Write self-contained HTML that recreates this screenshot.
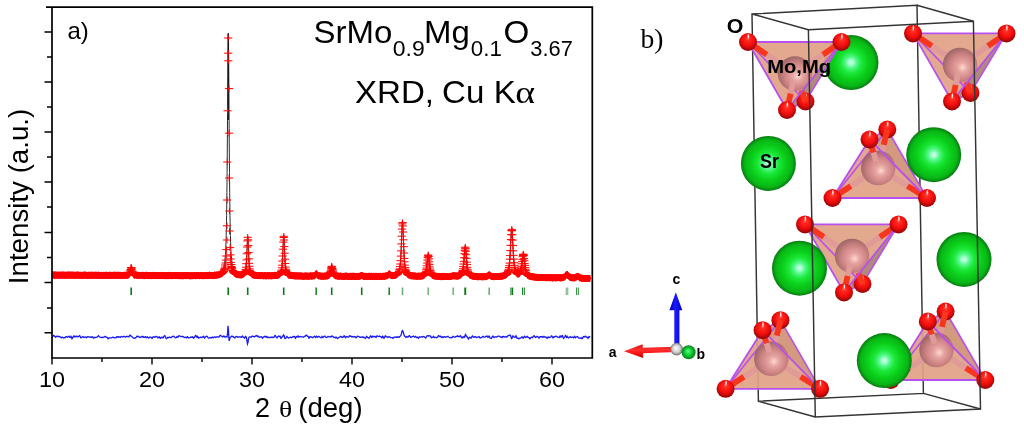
<!DOCTYPE html>
<html><head><meta charset="utf-8"><title>SrMo0.9Mg0.1O3.67 XRD and structure</title>
<style>html,body{margin:0;padding:0;background:#fff}svg{display:block}</style></head>
<body>
<svg width="1024" height="429" viewBox="0 0 1024 429">
<rect width="1024" height="429" fill="#fff"/>

<defs>
<radialGradient id="gO" cx="0.5" cy="0.42" r="0.55" fx="0.5" fy="0.3">
<stop offset="0" stop-color="#ff7060"/><stop offset="0.2" stop-color="#ff2a20"/><stop offset="0.65" stop-color="#f00c0c"/><stop offset="1" stop-color="#9a0606"/>
</radialGradient>
<radialGradient id="gMo" cx="0.55" cy="0.55" r="0.6" fx="0.58" fy="0.58">
<stop offset="0" stop-color="#ffd8d0"/><stop offset="0.25" stop-color="#e6a4a0"/><stop offset="0.62" stop-color="#cc8282"/><stop offset="1" stop-color="#946060"/>
</radialGradient>
<radialGradient id="gSr" cx="0.5" cy="0.5" r="0.5" fx="0.5" fy="0.5">
<stop offset="0" stop-color="#d4ffec"/><stop offset="0.09" stop-color="#a4ffd0"/><stop offset="0.2" stop-color="#54f88c"/><stop offset="0.38" stop-color="#1ce83a"/><stop offset="0.62" stop-color="#0ad01a"/><stop offset="0.86" stop-color="#08b616"/><stop offset="0.95" stop-color="#069012"/><stop offset="1" stop-color="#067c10"/>
</radialGradient>
<linearGradient id="gBl" gradientUnits="userSpaceOnUse" x1="669.4" y1="0" x2="682.3" y2="0"><stop offset="0" stop-color="#0000b0"/><stop offset="0.45" stop-color="#1a1aff"/><stop offset="0.6" stop-color="#1414f8"/><stop offset="1" stop-color="#0000a8"/></linearGradient>
<linearGradient id="gRd" gradientUnits="userSpaceOnUse" x1="0" y1="344.2" x2="0" y2="357.9"><stop offset="0" stop-color="#d80808"/><stop offset="0.4" stop-color="#ff3030"/><stop offset="0.6" stop-color="#ff1a1a"/><stop offset="1" stop-color="#c00000"/></linearGradient>
<radialGradient id="gB" cx="0.5" cy="0.5" r="0.5" fx="0.45" fy="0.4">
<stop offset="0" stop-color="#60ff90"/><stop offset="0.5" stop-color="#10d030"/><stop offset="1" stop-color="#088020"/>
</radialGradient>
<radialGradient id="gG" cx="0.5" cy="0.5" r="0.5" fx="0.45" fy="0.4">
<stop offset="0" stop-color="#ffffff"/><stop offset="0.6" stop-color="#d0d0d0"/><stop offset="1" stop-color="#707070"/>
</radialGradient>
</defs>


<g id="xrd">
<path d="M52 275.1 L52.1 275.1 L52.2 275.1 L52.3 275.1 L52.4 275.1 L52.5 275.1 L52.6 275.1 L52.7 275.1 L52.8 275.1 L52.9 275.1 L53 275.1 L53.1 275.1 L53.2 275.1 L53.3 275.1 L53.4 275.1 L53.5 275.1 L53.6 275.1 L53.7 275.1 L53.8 275.1 L53.9 275.1 L54 275.1 L54.1 275.1 L54.2 275.1 L54.3 275.1 L54.4 275.1 L54.5 275.1 L54.6 275.1 L54.7 275.1 L54.8 275.1 L54.9 275.1 L55 275.1 L55.1 275.1 L55.2 275.1 L55.3 275.1 L55.4 275.1 L55.5 275.1 L55.6 275.1 L55.7 275.1 L55.8 275.1 L55.9 275.1 L56 275.1 L56.1 275.1 L56.2 275.1 L56.3 275.1 L56.4 275.1 L56.5 275.1 L56.6 275.1 L56.7 275.1 L56.8 275.1 L56.9 275.1 L57 275.1 L57.1 275.1 L57.2 275.1 L57.3 275.1 L57.4 275.1 L57.5 275.1 L57.6 275.1 L57.7 275.1 L57.8 275.1 L57.9 275.1 L58 275.1 L58.1 275.1 L58.2 275.1 L58.3 275.1 L58.4 275.1 L58.5 275.1 L58.6 275.1 L58.7 275.1 L58.8 275.1 L58.9 275.1 L59 275.1 L59.1 275.1 L59.2 275.1 L59.3 275.1 L59.4 275.1 L59.5 275.1 L59.6 275.1 L59.7 275.1 L59.8 275.1 L59.9 275.1 L60 275.1 L60.1 275.1 L60.2 275.1 L60.3 275.1 L60.4 275.1 L60.5 275.1 L60.6 275.1 L60.7 275.1 L60.8 275.1 L60.9 275.1 L61 275.1 L61.1 275.1 L61.2 275.1 L61.3 275.1 L61.4 275.1 L61.5 275.1 L61.6 275.1 L61.7 275.1 L61.8 275.1 L61.9 275.1 L62 275.1 L62.1 275.1 L62.2 275.1 L62.3 275.1 L62.4 275.1 L62.5 275.1 L62.6 275.1 L62.7 275.1 L62.8 275.1 L62.9 275.1 L63 275.1 L63.1 275.1 L63.2 275.1 L63.3 275.1 L63.4 275.1 L63.5 275.1 L63.6 275.1 L63.7 275.1 L63.8 275.1 L63.9 275.1 L64 275.1 L64.1 275.1 L64.2 275.1 L64.3 275.1 L64.4 275.1 L64.5 275.1 L64.6 275.1 L64.7 275.1 L64.8 275.1 L64.9 275.1 L65 275.1 L65.1 275.1 L65.2 275.1 L65.3 275.1 L65.4 275.1 L65.5 275.1 L65.6 275.1 L65.7 275.1 L65.8 275.1 L65.9 275.1 L66 275.2 L66.1 275.2 L66.2 275.2 L66.3 275.2 L66.4 275.2 L66.5 275.2 L66.6 275.2 L66.7 275.2 L66.8 275.2 L66.9 275.2 L67 275.2 L67.1 275.2 L67.2 275.2 L67.3 275.2 L67.4 275.2 L67.5 275.2 L67.6 275.2 L67.7 275.2 L67.8 275.2 L67.9 275.2 L68 275.2 L68.1 275.2 L68.2 275.2 L68.3 275.2 L68.4 275.2 L68.5 275.2 L68.6 275.2 L68.7 275.2 L68.8 275.2 L68.9 275.2 L69 275.2 L69.1 275.2 L69.2 275.2 L69.3 275.2 L69.4 275.2 L69.5 275.2 L69.6 275.2 L69.7 275.2 L69.8 275.2 L69.9 275.2 L70 275.2 L70.1 275.2 L70.2 275.2 L70.3 275.2 L70.4 275.2 L70.5 275.2 L70.6 275.2 L70.7 275.2 L70.8 275.2 L70.9 275.2 L71 275.2 L71.1 275.2 L71.2 275.2 L71.3 275.2 L71.4 275.2 L71.5 275.2 L71.6 275.2 L71.7 275.2 L71.8 275.2 L71.9 275.2 L72 275.2 L72.1 275.2 L72.2 275.2 L72.3 275.2 L72.4 275.2 L72.5 275.2 L72.6 275.2 L72.7 275.2 L72.8 275.2 L72.9 275.2 L73 275.2 L73.1 275.2 L73.2 275.2 L73.3 275.2 L73.4 275.2 L73.5 275.2 L73.6 275.2 L73.7 275.2 L73.8 275.2 L73.9 275.2 L74 275.2 L74.1 275.2 L74.2 275.2 L74.3 275.2 L74.4 275.2 L74.5 275.2 L74.6 275.2 L74.7 275.2 L74.8 275.2 L74.9 275.2 L75 275.2 L75.1 275.2 L75.2 275.2 L75.3 275.2 L75.4 275.2 L75.5 275.2 L75.6 275.2 L75.7 275.2 L75.8 275.2 L75.9 275.2 L76 275.2 L76.1 275.2 L76.2 275.2 L76.3 275.2 L76.4 275.2 L76.5 275.2 L76.6 275.2 L76.7 275.2 L76.8 275.2 L76.9 275.2 L77 275.2 L77.1 275.2 L77.2 275.2 L77.3 275.2 L77.4 275.2 L77.5 275.2 L77.6 275.2 L77.7 275.2 L77.8 275.2 L77.9 275.2 L78 275.2 L78.1 275.2 L78.2 275.2 L78.3 275.2 L78.4 275.2 L78.5 275.2 L78.6 275.2 L78.7 275.2 L78.8 275.2 L78.9 275.2 L79 275.2 L79.1 275.2 L79.2 275.2 L79.3 275.2 L79.4 275.2 L79.5 275.2 L79.6 275.2 L79.7 275.2 L79.8 275.2 L79.9 275.2 L80 275.2 L80.1 275.2 L80.2 275.2 L80.3 275.2 L80.4 275.2 L80.5 275.2 L80.6 275.2 L80.7 275.2 L80.8 275.2 L80.9 275.2 L81 275.2 L81.1 275.2 L81.2 275.2 L81.3 275.2 L81.4 275.2 L81.5 275.2 L81.6 275.2 L81.7 275.2 L81.8 275.2 L81.9 275.2 L82 275.2 L82.1 275.2 L82.2 275.2 L82.3 275.2 L82.4 275.2 L82.5 275.2 L82.6 275.2 L82.7 275.2 L82.8 275.2 L82.9 275.2 L83 275.2 L83.1 275.2 L83.2 275.2 L83.3 275.2 L83.4 275.2 L83.5 275.2 L83.6 275.2 L83.7 275.2 L83.8 275.2 L83.9 275.2 L84 275.2 L84.1 275.2 L84.2 275.2 L84.3 275.2 L84.4 275.2 L84.5 275.2 L84.6 275.2 L84.7 275.2 L84.8 275.2 L84.9 275.2 L85 275.2 L85.1 275.2 L85.2 275.2 L85.3 275.2 L85.4 275.2 L85.5 275.2 L85.6 275.2 L85.7 275.2 L85.8 275.2 L85.9 275.2 L86 275.2 L86.1 275.2 L86.2 275.2 L86.3 275.2 L86.4 275.2 L86.5 275.2 L86.6 275.2 L86.7 275.2 L86.8 275.2 L86.9 275.2 L87 275.2 L87.1 275.2 L87.2 275.2 L87.3 275.2 L87.4 275.2 L87.5 275.2 L87.6 275.2 L87.7 275.2 L87.8 275.2 L87.9 275.2 L88 275.2 L88.1 275.2 L88.2 275.2 L88.3 275.2 L88.4 275.2 L88.5 275.2 L88.6 275.2 L88.7 275.2 L88.8 275.2 L88.9 275.2 L89 275.2 L89.1 275.2 L89.2 275.2 L89.3 275.2 L89.4 275.2 L89.5 275.3 L89.6 275.3 L89.7 275.3 L89.8 275.3 L89.9 275.3 L90 275.3 L90.1 275.3 L90.2 275.3 L90.3 275.3 L90.4 275.3 L90.5 275.3 L90.6 275.3 L90.7 275.3 L90.8 275.3 L90.9 275.3 L91 275.3 L91.1 275.3 L91.2 275.3 L91.3 275.3 L91.4 275.3 L91.5 275.3 L91.6 275.3 L91.7 275.3 L91.8 275.3 L91.9 275.3 L92 275.3 L92.1 275.3 L92.2 275.3 L92.3 275.3 L92.4 275.3 L92.5 275.3 L92.6 275.3 L92.7 275.3 L92.8 275.3 L92.9 275.3 L93 275.3 L93.1 275.3 L93.2 275.3 L93.3 275.3 L93.4 275.3 L93.5 275.3 L93.6 275.3 L93.7 275.3 L93.8 275.3 L93.9 275.3 L94 275.3 L94.1 275.3 L94.2 275.3 L94.3 275.3 L94.4 275.3 L94.5 275.3 L94.6 275.3 L94.7 275.3 L94.8 275.3 L94.9 275.3 L95 275.3 L95.1 275.3 L95.2 275.3 L95.3 275.3 L95.4 275.3 L95.5 275.3 L95.6 275.3 L95.7 275.3 L95.8 275.3 L95.9 275.3 L96 275.3 L96.1 275.3 L96.2 275.3 L96.3 275.3 L96.4 275.3 L96.5 275.3 L96.6 275.3 L96.7 275.3 L96.8 275.3 L96.9 275.3 L97 275.3 L97.1 275.3 L97.2 275.3 L97.3 275.3 L97.4 275.3 L97.5 275.3 L97.6 275.3 L97.7 275.3 L97.8 275.3 L97.9 275.3 L98 275.3 L98.1 275.3 L98.2 275.3 L98.3 275.3 L98.4 275.3 L98.5 275.3 L98.6 275.3 L98.7 275.3 L98.8 275.3 L98.9 275.3 L99 275.3 L99.1 275.3 L99.2 275.3 L99.3 275.3 L99.4 275.3 L99.5 275.3 L99.6 275.3 L99.7 275.3 L99.8 275.3 L99.9 275.3 L100 275.3 L100.1 275.3 L100.2 275.3 L100.3 275.3 L100.4 275.3 L100.5 275.3 L100.6 275.3 L100.7 275.3 L100.8 275.3 L100.9 275.3 L101 275.3 L101.1 275.3 L101.2 275.3 L101.3 275.3 L101.4 275.3 L101.5 275.3 L101.6 275.3 L101.7 275.3 L101.8 275.3 L101.9 275.3 L102 275.3 L102.1 275.3 L102.2 275.3 L102.3 275.3 L102.4 275.3 L102.5 275.3 L102.6 275.3 L102.7 275.3 L102.8 275.3 L102.9 275.3 L103 275.3 L103.1 275.3 L103.2 275.3 L103.3 275.3 L103.4 275.3 L103.5 275.3 L103.6 275.3 L103.7 275.3 L103.8 275.3 L103.9 275.3 L104 275.3 L104.1 275.3 L104.2 275.3 L104.3 275.3 L104.4 275.3 L104.5 275.3 L104.6 275.3 L104.7 275.3 L104.8 275.3 L104.9 275.3 L105 275.3 L105.1 275.3 L105.2 275.3 L105.3 275.3 L105.4 275.3 L105.5 275.3 L105.6 275.3 L105.7 275.3 L105.8 275.3 L105.9 275.3 L106 275.3 L106.1 275.3 L106.2 275.3 L106.3 275.3 L106.4 275.3 L106.5 275.3 L106.6 275.3 L106.7 275.3 L106.8 275.3 L106.9 275.3 L107 275.3 L107.1 275.3 L107.2 275.3 L107.3 275.3 L107.4 275.3 L107.5 275.3 L107.6 275.3 L107.7 275.3 L107.8 275.3 L107.9 275.3 L108 275.3 L108.1 275.3 L108.2 275.3 L108.3 275.3 L108.4 275.3 L108.5 275.3 L108.6 275.3 L108.7 275.3 L108.8 275.3 L108.9 275.3 L109 275.3 L109.1 275.3 L109.2 275.3 L109.3 275.3 L109.4 275.3 L109.5 275.3 L109.6 275.3 L109.7 275.3 L109.8 275.3 L109.9 275.3 L110 275.3 L110.1 275.3 L110.2 275.3 L110.3 275.3 L110.4 275.3 L110.5 275.3 L110.6 275.3 L110.7 275.3 L110.8 275.3 L110.9 275.3 L111 275.3 L111.1 275.3 L111.2 275.3 L111.3 275.3 L111.4 275.3 L111.5 275.3 L111.6 275.3 L111.7 275.3 L111.8 275.3 L111.9 275.3 L112 275.3 L112.1 275.3 L112.2 275.3 L112.3 275.3 L112.4 275.3 L112.5 275.3 L112.6 275.3 L112.7 275.3 L112.8 275.3 L112.9 275.3 L113 275.3 L113.1 275.3 L113.2 275.3 L113.3 275.3 L113.4 275.3 L113.5 275.3 L113.6 275.3 L113.7 275.3 L113.8 275.3 L113.9 275.3 L114 275.3 L114.1 275.3 L114.2 275.3 L114.3 275.3 L114.4 275.3 L114.5 275.3 L114.6 275.3 L114.7 275.3 L114.8 275.3 L114.9 275.3 L115 275.3 L115.1 275.3 L115.2 275.3 L115.3 275.3 L115.4 275.3 L115.5 275.3 L115.6 275.3 L115.7 275.3 L115.8 275.3 L115.9 275.3 L116 275.3 L116.1 275.3 L116.2 275.3 L116.3 275.3 L116.4 275.3 L116.5 275.3 L116.6 275.3 L116.7 275.3 L116.8 275.3 L116.9 275.3 L117 275.3 L117.1 275.3 L117.2 275.3 L117.3 275.3 L117.4 275.3 L117.5 275.3 L117.6 275.3 L117.7 275.3 L117.8 275.3 L117.9 275.3 L118 275.3 L118.1 275.3 L118.2 275.3 L118.3 275.3 L118.4 275.3 L118.5 275.3 L118.6 275.3 L118.7 275.3 L118.8 275.3 L118.9 275.3 L119 275.3 L119.1 275.3 L119.2 275.3 L119.3 275.3 L119.4 275.3 L119.5 275.3 L119.6 275.3 L119.7 275.3 L119.8 275.3 L119.9 275.3 L120 275.3 L120.1 275.3 L120.2 275.3 L120.3 275.3 L120.4 275.3 L120.5 275.3 L120.6 275.3 L120.7 275.3 L120.8 275.3 L120.9 275.3 L121 275.3 L121.1 275.3 L121.2 275.3 L121.3 275.3 L121.4 275.3 L121.5 275.3 L121.6 275.3 L121.7 275.3 L121.8 275.3 L121.9 275.3 L122 275.3 L122.1 275.3 L122.2 275.3 L122.3 275.3 L122.4 275.3 L122.5 275.3 L122.6 275.3 L122.7 275.3 L122.8 275.3 L122.9 275.3 L123 275.3 L123.1 275.3 L123.2 275.3 L123.3 275.3 L123.4 275.3 L123.5 275.3 L123.6 275.3 L123.7 275.3 L123.8 275.3 L123.9 275.3 L124 275.3 L124.1 275.3 L124.2 275.3 L124.3 275.3 L124.4 275.3 L124.5 275.3 L124.6 275.3 L124.7 275.3 L124.8 275.3 L124.9 275.3 L125 275.2 L125.1 275.2 L125.2 275.2 L125.3 275.2 L125.4 275.2 L125.5 275.2 L125.6 275.2 L125.7 275.2 L125.8 275.2 L125.9 275.2 L126 275.2 L126.1 275.2 L126.2 275.2 L126.3 275.2 L126.4 275.2 L126.5 275.1 L126.6 275.1 L126.7 275.1 L126.8 275.1 L126.9 275.1 L127 275.1 L127.1 275.1 L127.2 275.1 L127.3 275 L127.4 275 L127.5 275 L127.6 275 L127.7 275 L127.8 274.9 L127.9 274.9 L128 274.9 L128.1 274.8 L128.2 274.8 L128.3 274.8 L128.4 274.7 L128.5 274.7 L128.6 274.6 L128.7 274.6 L128.8 274.5 L128.9 274.4 L129 274.3 L129.1 274.2 L129.2 274.1 L129.3 274 L129.4 273.8 L129.5 273.7 L129.6 273.4 L129.7 273.2 L129.8 273 L129.9 272.7 L130 272.3 L130.1 271.9 L130.2 271.5 L130.3 271.1 L130.4 270.6 L130.5 270.1 L130.6 269.5 L130.7 269 L130.8 268.5 L130.9 268 L131 267.6 L131.1 267.4 L131.2 267.2 L131.3 267.2 L131.4 267.4 L131.5 267.6 L131.6 268 L131.7 268.5 L131.8 269 L131.9 269.5 L132 270.1 L132.1 270.6 L132.2 271.1 L132.3 271.5 L132.4 271.9 L132.5 272.3 L132.6 272.7 L132.7 273 L132.8 273.2 L132.9 273.5 L133 273.7 L133.1 273.8 L133.2 274 L133.3 274.1 L133.4 274.3 L133.5 274.4 L133.6 274.4 L133.7 274.5 L133.8 274.6 L133.9 274.7 L134 274.7 L134.1 274.8 L134.2 274.8 L134.3 274.8 L134.4 274.9 L134.5 274.9 L134.6 274.9 L134.7 275 L134.8 275 L134.9 275 L135 275 L135.1 275.1 L135.2 275.1 L135.3 275.1 L135.4 275.1 L135.5 275.1 L135.6 275.1 L135.7 275.1 L135.8 275.2 L135.9 275.2 L136 275.2 L136.1 275.2 L136.2 275.2 L136.3 275.2 L136.4 275.2 L136.5 275.2 L136.6 275.2 L136.7 275.2 L136.8 275.3 L136.9 275.3 L137 275.3 L137.1 275.3 L137.2 275.3 L137.3 275.3 L137.4 275.3 L137.5 275.3 L137.6 275.3 L137.7 275.3 L137.8 275.3 L137.9 275.3 L138 275.3 L138.1 275.3 L138.2 275.3 L138.3 275.3 L138.4 275.3 L138.5 275.3 L138.6 275.3 L138.7 275.3 L138.8 275.4 L138.9 275.4 L139 275.4 L139.1 275.4 L139.2 275.4 L139.3 275.4 L139.4 275.4 L139.5 275.4 L139.6 275.4 L139.7 275.4 L139.8 275.4 L139.9 275.4 L140 275.4 L140.1 275.4 L140.2 275.4 L140.3 275.4 L140.4 275.4 L140.5 275.4 L140.6 275.4 L140.7 275.4 L140.8 275.4 L140.9 275.4 L141 275.4 L141.1 275.4 L141.2 275.4 L141.3 275.4 L141.4 275.4 L141.5 275.4 L141.6 275.4 L141.7 275.4 L141.8 275.4 L141.9 275.4 L142 275.4 L142.1 275.4 L142.2 275.4 L142.3 275.4 L142.4 275.4 L142.5 275.4 L142.6 275.4 L142.7 275.4 L142.8 275.4 L142.9 275.4 L143 275.4 L143.1 275.4 L143.2 275.4 L143.3 275.4 L143.4 275.4 L143.5 275.4 L143.6 275.4 L143.7 275.4 L143.8 275.4 L143.9 275.4 L144 275.4 L144.1 275.4 L144.2 275.4 L144.3 275.4 L144.4 275.4 L144.5 275.4 L144.6 275.4 L144.7 275.4 L144.8 275.4 L144.9 275.4 L145 275.4 L145.1 275.4 L145.2 275.5 L145.3 275.5 L145.4 275.5 L145.5 275.5 L145.6 275.5 L145.7 275.5 L145.8 275.5 L145.9 275.5 L146 275.5 L146.1 275.5 L146.2 275.5 L146.3 275.5 L146.4 275.5 L146.5 275.5 L146.6 275.5 L146.7 275.5 L146.8 275.5 L146.9 275.5 L147 275.5 L147.1 275.5 L147.2 275.5 L147.3 275.5 L147.4 275.5 L147.5 275.5 L147.6 275.5 L147.7 275.5 L147.8 275.5 L147.9 275.5 L148 275.5 L148.1 275.5 L148.2 275.5 L148.3 275.5 L148.4 275.5 L148.5 275.5 L148.6 275.5 L148.7 275.5 L148.8 275.5 L148.9 275.5 L149 275.5 L149.1 275.5 L149.2 275.5 L149.3 275.5 L149.4 275.5 L149.5 275.5 L149.6 275.5 L149.7 275.5 L149.8 275.5 L149.9 275.5 L150 275.5 L150.1 275.5 L150.2 275.5 L150.3 275.5 L150.4 275.5 L150.5 275.5 L150.6 275.5 L150.7 275.5 L150.8 275.5 L150.9 275.5 L151 275.5 L151.1 275.5 L151.2 275.5 L151.3 275.5 L151.4 275.5 L151.5 275.5 L151.6 275.5 L151.7 275.5 L151.8 275.5 L151.9 275.5 L152 275.5 L152.1 275.5 L152.2 275.5 L152.3 275.5 L152.4 275.5 L152.5 275.5 L152.6 275.5 L152.7 275.5 L152.8 275.5 L152.9 275.5 L153 275.5 L153.1 275.5 L153.2 275.5 L153.3 275.5 L153.4 275.5 L153.5 275.5 L153.6 275.5 L153.7 275.5 L153.8 275.5 L153.9 275.5 L154 275.5 L154.1 275.5 L154.2 275.5 L154.3 275.5 L154.4 275.5 L154.5 275.5 L154.6 275.5 L154.7 275.5 L154.8 275.5 L154.9 275.5 L155 275.5 L155.1 275.5 L155.2 275.5 L155.3 275.5 L155.4 275.5 L155.5 275.5 L155.6 275.5 L155.7 275.5 L155.8 275.5 L155.9 275.5 L156 275.5 L156.1 275.5 L156.2 275.5 L156.3 275.5 L156.4 275.5 L156.5 275.5 L156.6 275.5 L156.7 275.5 L156.8 275.5 L156.9 275.5 L157 275.5 L157.1 275.5 L157.2 275.5 L157.3 275.5 L157.4 275.5 L157.5 275.5 L157.6 275.5 L157.7 275.5 L157.8 275.5 L157.9 275.5 L158 275.5 L158.1 275.5 L158.2 275.5 L158.3 275.5 L158.4 275.5 L158.5 275.5 L158.6 275.5 L158.7 275.5 L158.8 275.5 L158.9 275.5 L159 275.5 L159.1 275.5 L159.2 275.5 L159.3 275.5 L159.4 275.5 L159.5 275.5 L159.6 275.5 L159.7 275.5 L159.8 275.5 L159.9 275.5 L160 275.5 L160.1 275.5 L160.2 275.5 L160.3 275.5 L160.4 275.5 L160.5 275.5 L160.6 275.5 L160.7 275.5 L160.8 275.5 L160.9 275.5 L161 275.5 L161.1 275.5 L161.2 275.5 L161.3 275.5 L161.4 275.5 L161.5 275.5 L161.6 275.5 L161.7 275.5 L161.8 275.5 L161.9 275.5 L162 275.5 L162.1 275.5 L162.2 275.5 L162.3 275.5 L162.4 275.5 L162.5 275.5 L162.6 275.5 L162.7 275.5 L162.8 275.5 L162.9 275.5 L163 275.5 L163.1 275.5 L163.2 275.5 L163.3 275.5 L163.4 275.5 L163.5 275.5 L163.6 275.5 L163.7 275.5 L163.8 275.5 L163.9 275.5 L164 275.5 L164.1 275.5 L164.2 275.5 L164.3 275.5 L164.4 275.5 L164.5 275.5 L164.6 275.5 L164.7 275.5 L164.8 275.5 L164.9 275.5 L165 275.5 L165.1 275.5 L165.2 275.5 L165.3 275.5 L165.4 275.5 L165.5 275.5 L165.6 275.5 L165.7 275.5 L165.8 275.5 L165.9 275.5 L166 275.5 L166.1 275.5 L166.2 275.5 L166.3 275.5 L166.4 275.5 L166.5 275.5 L166.6 275.5 L166.7 275.5 L166.8 275.5 L166.9 275.5 L167 275.5 L167.1 275.5 L167.2 275.5 L167.3 275.5 L167.4 275.5 L167.5 275.5 L167.6 275.5 L167.7 275.6 L167.8 275.6 L167.9 275.6 L168 275.6 L168.1 275.6 L168.2 275.6 L168.3 275.6 L168.4 275.6 L168.5 275.6 L168.6 275.6 L168.7 275.6 L168.8 275.6 L168.9 275.6 L169 275.6 L169.1 275.6 L169.2 275.6 L169.3 275.6 L169.4 275.6 L169.5 275.6 L169.6 275.6 L169.7 275.6 L169.8 275.6 L169.9 275.6 L170 275.6 L170.1 275.6 L170.2 275.6 L170.3 275.6 L170.4 275.6 L170.5 275.6 L170.6 275.6 L170.7 275.6 L170.8 275.6 L170.9 275.6 L171 275.6 L171.1 275.6 L171.2 275.6 L171.3 275.6 L171.4 275.6 L171.5 275.6 L171.6 275.6 L171.7 275.6 L171.8 275.6 L171.9 275.6 L172 275.6 L172.1 275.6 L172.2 275.6 L172.3 275.6 L172.4 275.6 L172.5 275.6 L172.6 275.6 L172.7 275.6 L172.8 275.6 L172.9 275.6 L173 275.6 L173.1 275.6 L173.2 275.6 L173.3 275.6 L173.4 275.6 L173.5 275.6 L173.6 275.6 L173.7 275.6 L173.8 275.6 L173.9 275.6 L174 275.6 L174.1 275.6 L174.2 275.6 L174.3 275.6 L174.4 275.6 L174.5 275.6 L174.6 275.6 L174.7 275.6 L174.8 275.6 L174.9 275.6 L175 275.6 L175.1 275.6 L175.2 275.6 L175.3 275.6 L175.4 275.6 L175.5 275.6 L175.6 275.6 L175.7 275.6 L175.8 275.6 L175.9 275.6 L176 275.6 L176.1 275.6 L176.2 275.6 L176.3 275.6 L176.4 275.6 L176.5 275.6 L176.6 275.6 L176.7 275.6 L176.8 275.6 L176.9 275.6 L177 275.6 L177.1 275.6 L177.2 275.6 L177.3 275.6 L177.4 275.6 L177.5 275.6 L177.6 275.6 L177.7 275.6 L177.8 275.6 L177.9 275.6 L178 275.6 L178.1 275.6 L178.2 275.6 L178.3 275.6 L178.4 275.6 L178.5 275.6 L178.6 275.6 L178.7 275.6 L178.8 275.6 L178.9 275.6 L179 275.6 L179.1 275.6 L179.2 275.6 L179.3 275.6 L179.4 275.6 L179.5 275.6 L179.6 275.6 L179.7 275.6 L179.8 275.6 L179.9 275.6 L180 275.6 L180.1 275.6 L180.2 275.6 L180.3 275.6 L180.4 275.6 L180.5 275.6 L180.6 275.6 L180.7 275.6 L180.8 275.6 L180.9 275.6 L181 275.6 L181.1 275.6 L181.2 275.6 L181.3 275.6 L181.4 275.6 L181.5 275.6 L181.6 275.6 L181.7 275.6 L181.8 275.6 L181.9 275.6 L182 275.6 L182.1 275.6 L182.2 275.6 L182.3 275.6 L182.4 275.6 L182.5 275.6 L182.6 275.6 L182.7 275.6 L182.8 275.6 L182.9 275.6 L183 275.6 L183.1 275.6 L183.2 275.6 L183.3 275.6 L183.4 275.6 L183.5 275.6 L183.6 275.6 L183.7 275.6 L183.8 275.6 L183.9 275.6 L184 275.6 L184.1 275.6 L184.2 275.6 L184.3 275.6 L184.4 275.6 L184.5 275.6 L184.6 275.6 L184.7 275.6 L184.8 275.6 L184.9 275.6 L185 275.6 L185.1 275.6 L185.2 275.6 L185.3 275.6 L185.4 275.6 L185.5 275.6 L185.6 275.6 L185.7 275.6 L185.8 275.6 L185.9 275.6 L186 275.6 L186.1 275.6 L186.2 275.6 L186.3 275.6 L186.4 275.6 L186.5 275.6 L186.6 275.6 L186.7 275.6 L186.8 275.6 L186.9 275.6 L187 275.6 L187.1 275.6 L187.2 275.6 L187.3 275.6 L187.4 275.6 L187.5 275.6 L187.6 275.6 L187.7 275.6 L187.8 275.6 L187.9 275.6 L188 275.6 L188.1 275.6 L188.2 275.6 L188.3 275.6 L188.4 275.6 L188.5 275.6 L188.6 275.6 L188.7 275.6 L188.8 275.6 L188.9 275.6 L189 275.6 L189.1 275.6 L189.2 275.6 L189.3 275.6 L189.4 275.6 L189.5 275.6 L189.6 275.6 L189.7 275.6 L189.8 275.6 L189.9 275.6 L190 275.6 L190.1 275.6 L190.2 275.6 L190.3 275.6 L190.4 275.6 L190.5 275.6 L190.6 275.6 L190.7 275.6 L190.8 275.6 L190.9 275.6 L191 275.6 L191.1 275.6 L191.2 275.6 L191.3 275.6 L191.4 275.6 L191.5 275.6 L191.6 275.6 L191.7 275.6 L191.8 275.6 L191.9 275.6 L192 275.6 L192.1 275.6 L192.2 275.6 L192.3 275.6 L192.4 275.6 L192.5 275.6 L192.6 275.6 L192.7 275.6 L192.8 275.6 L192.9 275.6 L193 275.6 L193.1 275.6 L193.2 275.6 L193.3 275.6 L193.4 275.6 L193.5 275.6 L193.6 275.5 L193.7 275.5 L193.8 275.5 L193.9 275.5 L194 275.5 L194.1 275.5 L194.2 275.5 L194.3 275.5 L194.4 275.5 L194.5 275.5 L194.6 275.5 L194.7 275.5 L194.8 275.5 L194.9 275.5 L195 275.5 L195.1 275.5 L195.2 275.5 L195.3 275.5 L195.4 275.5 L195.5 275.5 L195.6 275.5 L195.7 275.5 L195.8 275.5 L195.9 275.5 L196 275.5 L196.1 275.5 L196.2 275.5 L196.3 275.5 L196.4 275.5 L196.5 275.5 L196.6 275.5 L196.7 275.5 L196.8 275.5 L196.9 275.5 L197 275.5 L197.1 275.5 L197.2 275.5 L197.3 275.5 L197.4 275.5 L197.5 275.5 L197.6 275.5 L197.7 275.5 L197.8 275.5 L197.9 275.5 L198 275.5 L198.1 275.5 L198.2 275.5 L198.3 275.5 L198.4 275.5 L198.5 275.5 L198.6 275.5 L198.7 275.5 L198.8 275.5 L198.9 275.5 L199 275.5 L199.1 275.5 L199.2 275.5 L199.3 275.5 L199.4 275.5 L199.5 275.5 L199.6 275.5 L199.7 275.5 L199.8 275.5 L199.9 275.5 L200 275.5 L200.1 275.5 L200.2 275.5 L200.3 275.5 L200.4 275.5 L200.5 275.5 L200.6 275.5 L200.7 275.5 L200.8 275.5 L200.9 275.5 L201 275.5 L201.1 275.5 L201.2 275.5 L201.3 275.5 L201.4 275.5 L201.5 275.5 L201.6 275.5 L201.7 275.5 L201.8 275.5 L201.9 275.5 L202 275.5 L202.1 275.5 L202.2 275.5 L202.3 275.5 L202.4 275.5 L202.5 275.5 L202.6 275.4 L202.7 275.4 L202.8 275.4 L202.9 275.4 L203 275.4 L203.1 275.4 L203.2 275.4 L203.3 275.4 L203.4 275.4 L203.5 275.4 L203.6 275.4 L203.7 275.4 L203.8 275.4 L203.9 275.4 L204 275.4 L204.1 275.4 L204.2 275.4 L204.3 275.4 L204.4 275.4 L204.5 275.4 L204.6 275.4 L204.7 275.4 L204.8 275.4 L204.9 275.4 L205 275.4 L205.1 275.4 L205.2 275.4 L205.3 275.4 L205.4 275.4 L205.5 275.4 L205.6 275.4 L205.7 275.4 L205.8 275.4 L205.9 275.4 L206 275.4 L206.1 275.4 L206.2 275.4 L206.3 275.4 L206.4 275.3 L206.5 275.3 L206.6 275.3 L206.7 275.3 L206.8 275.3 L206.9 275.3 L207 275.3 L207.1 275.3 L207.2 275.3 L207.3 275.3 L207.4 275.3 L207.5 275.3 L207.6 275.3 L207.7 275.3 L207.8 275.3 L207.9 275.3 L208 275.3 L208.1 275.3 L208.2 275.3 L208.3 275.3 L208.4 275.3 L208.5 275.3 L208.6 275.3 L208.7 275.3 L208.8 275.2 L208.9 275.2 L209 275.2 L209.1 275.2 L209.2 275.2 L209.3 275.2 L209.4 275.2 L209.5 275.2 L209.6 275.2 L209.7 275.2 L209.8 275.2 L209.9 275.2 L210 275.2 L210.1 275.2 L210.2 275.2 L210.3 275.2 L210.4 275.2 L210.5 275.1 L210.6 275.1 L210.7 275.1 L210.8 275.1 L210.9 275.1 L211 275.1 L211.1 275.1 L211.2 275.1 L211.3 275.1 L211.4 275.1 L211.5 275.1 L211.6 275.1 L211.7 275.1 L211.8 275 L211.9 275 L212 275 L212.1 275 L212.2 275 L212.3 275 L212.4 275 L212.5 275 L212.6 275 L212.7 275 L212.8 275 L212.9 274.9 L213 274.9 L213.1 274.9 L213.2 274.9 L213.3 274.9 L213.4 274.9 L213.5 274.9 L213.6 274.9 L213.7 274.9 L213.8 274.8 L213.9 274.8 L214 274.8 L214.1 274.8 L214.2 274.8 L214.3 274.8 L214.4 274.8 L214.5 274.7 L214.6 274.7 L214.7 274.7 L214.8 274.7 L214.9 274.7 L215 274.7 L215.1 274.6 L215.2 274.6 L215.3 274.6 L215.4 274.6 L215.5 274.6 L215.6 274.6 L215.7 274.5 L215.8 274.5 L215.9 274.5 L216 274.5 L216.1 274.5 L216.2 274.4 L216.3 274.4 L216.4 274.4 L216.5 274.4 L216.6 274.3 L216.7 274.3 L216.8 274.3 L216.9 274.3 L217 274.2 L217.1 274.2 L217.2 274.2 L217.3 274.2 L217.4 274.1 L217.5 274.1 L217.6 274.1 L217.7 274 L217.8 274 L217.9 274 L218 273.9 L218.1 273.9 L218.2 273.9 L218.3 273.8 L218.4 273.8 L218.5 273.7 L218.6 273.7 L218.7 273.7 L218.8 273.6 L218.9 273.6 L219 273.5 L219.1 273.5 L219.2 273.4 L219.3 273.4 L219.4 273.3 L219.5 273.2 L219.6 273.2 L219.7 273.1 L219.8 273.1 L219.9 273 L220 272.9 L220.1 272.9 L220.2 272.8 L220.3 272.7 L220.4 272.6 L220.5 272.6 L220.6 272.5 L220.7 272.4 L220.8 272.3 L220.9 272.2 L221 272.1 L221.1 272 L221.2 271.9 L221.3 271.8 L221.4 271.7 L221.5 271.6 L221.6 271.4 L221.7 271.3 L221.8 271.2 L221.9 271 L222 270.9 L222.1 270.7 L222.2 270.6 L222.3 270.4 L222.4 270.2 L222.5 270 L222.6 269.8 L222.7 269.6 L222.8 269.4 L222.9 269.2 L223 268.9 L223.1 268.7 L223.2 268.4 L223.3 268.1 L223.4 267.8 L223.5 267.5 L223.6 267.2 L223.7 266.8 L223.8 266.4 L223.9 266 L224 265.6 L224.1 265.1 L224.2 264.6 L224.3 264.1 L224.4 263.5 L224.5 262.9 L224.6 262.2 L224.7 261.5 L224.8 260.8 L224.9 259.9 L225 259 L225.1 258 L225.2 256.9 L225.3 255.7 L225.4 254.4 L225.5 252.9 L225.6 251.3 L225.7 249.4 L225.8 247.3 L225.9 245 L226 242.3 L226.1 239.2 L226.2 235.6 L226.3 231.6 L226.4 227 L226.5 221.7 L226.6 215.7 L226.7 208.9 L226.8 201.3 L226.9 192.6 L227 183 L227.1 172.4 L227.2 160.8 L227.3 148.1 L227.4 134.5 L227.5 120.2 L227.6 105.3 L227.7 90.3 L227.8 75.7 L227.9 62.1 L228 50.4 L228.1 41.2 L228.2 35.3 L228.3 33.3 L228.4 35.3 L228.5 41.2 L228.6 50.4 L228.7 62.1 L228.8 75.7 L228.9 90.3 L229 105.3 L229.1 120.2 L229.2 134.5 L229.3 148.1 L229.4 160.8 L229.5 172.4 L229.6 183 L229.7 192.6 L229.8 201.2 L229.9 208.9 L230 215.7 L230.1 221.7 L230.2 227 L230.3 231.6 L230.4 235.6 L230.5 239.2 L230.6 242.2 L230.7 244.9 L230.8 247.3 L230.9 249.4 L231 251.3 L231.1 252.9 L231.2 254.4 L231.3 255.7 L231.4 256.9 L231.5 258 L231.6 259 L231.7 259.9 L231.8 260.7 L231.9 261.5 L232 262.2 L232.1 262.9 L232.2 263.5 L232.3 264 L232.4 264.6 L232.5 265.1 L232.6 265.5 L232.7 266 L232.8 266.4 L232.9 266.8 L233 267.1 L233.1 267.5 L233.2 267.8 L233.3 268.1 L233.4 268.4 L233.5 268.6 L233.6 268.9 L233.7 269.1 L233.8 269.4 L233.9 269.6 L234 269.8 L234.1 270 L234.2 270.2 L234.3 270.3 L234.4 270.5 L234.5 270.7 L234.6 270.8 L234.7 271 L234.8 271.1 L234.9 271.2 L235 271.4 L235.1 271.5 L235.2 271.6 L235.3 271.7 L235.4 271.8 L235.5 271.9 L235.6 272 L235.7 272.1 L235.8 272.2 L235.9 272.3 L236 272.4 L236.1 272.5 L236.2 272.5 L236.3 272.6 L236.4 272.7 L236.5 272.7 L236.6 272.8 L236.7 272.9 L236.8 272.9 L236.9 273 L237 273 L237.1 273.1 L237.2 273.2 L237.3 273.2 L237.4 273.2 L237.5 273.3 L237.6 273.3 L237.7 273.4 L237.8 273.4 L237.9 273.5 L238 273.5 L238.1 273.5 L238.2 273.6 L238.3 273.6 L238.4 273.6 L238.5 273.7 L238.6 273.7 L238.7 273.7 L238.8 273.8 L238.9 273.8 L239 273.8 L239.1 273.8 L239.2 273.8 L239.3 273.9 L239.4 273.9 L239.5 273.9 L239.6 273.9 L239.7 273.9 L239.8 274 L239.9 274 L240 274 L240.1 274 L240.2 274 L240.3 274 L240.4 274 L240.5 274 L240.6 274 L240.7 274 L240.8 274.1 L240.9 274.1 L241 274.1 L241.1 274.1 L241.2 274.1 L241.3 274.1 L241.4 274.1 L241.5 274 L241.6 274 L241.7 274 L241.8 274 L241.9 274 L242 274 L242.1 274 L242.2 274 L242.3 274 L242.4 273.9 L242.5 273.9 L242.6 273.9 L242.7 273.9 L242.8 273.8 L242.9 273.8 L243 273.8 L243.1 273.7 L243.2 273.7 L243.3 273.6 L243.4 273.6 L243.5 273.5 L243.6 273.5 L243.7 273.4 L243.8 273.3 L243.9 273.3 L244 273.2 L244.1 273.1 L244.2 273 L244.3 272.9 L244.4 272.8 L244.5 272.6 L244.6 272.5 L244.7 272.3 L244.8 272.2 L244.9 272 L245 271.7 L245.1 271.5 L245.2 271.2 L245.3 270.9 L245.4 270.5 L245.5 270.1 L245.6 269.7 L245.7 269.1 L245.8 268.5 L245.9 267.7 L246 266.9 L246.1 265.9 L246.2 264.8 L246.3 263.6 L246.4 262.2 L246.5 260.6 L246.6 258.8 L246.7 256.8 L246.8 254.7 L246.9 252.4 L247 250 L247.1 247.4 L247.2 244.9 L247.3 242.5 L247.4 240.3 L247.5 238.4 L247.6 237.1 L247.7 236.4 L247.8 236.4 L247.9 237.1 L248 238.4 L248.1 240.3 L248.2 242.5 L248.3 245 L248.4 247.5 L248.5 250 L248.6 252.5 L248.7 254.8 L248.8 257 L248.9 258.9 L249 260.7 L249.1 262.3 L249.2 263.8 L249.3 265 L249.4 266.1 L249.5 267.1 L249.6 268 L249.7 268.7 L249.8 269.3 L249.9 269.9 L250 270.4 L250.1 270.8 L250.2 271.2 L250.3 271.5 L250.4 271.8 L250.5 272.1 L250.6 272.3 L250.7 272.5 L250.8 272.7 L250.9 272.9 L251 273 L251.1 273.2 L251.2 273.3 L251.3 273.4 L251.4 273.5 L251.5 273.6 L251.6 273.7 L251.7 273.8 L251.8 273.9 L251.9 274 L252 274.1 L252.1 274.1 L252.2 274.2 L252.3 274.3 L252.4 274.3 L252.5 274.4 L252.6 274.4 L252.7 274.5 L252.8 274.5 L252.9 274.6 L253 274.6 L253.1 274.6 L253.2 274.7 L253.3 274.7 L253.4 274.7 L253.5 274.8 L253.6 274.8 L253.7 274.8 L253.8 274.9 L253.9 274.9 L254 274.9 L254.1 274.9 L254.2 275 L254.3 275 L254.4 275 L254.5 275 L254.6 275.1 L254.7 275.1 L254.8 275.1 L254.9 275.1 L255 275.1 L255.1 275.1 L255.2 275.2 L255.3 275.2 L255.4 275.2 L255.5 275.2 L255.6 275.2 L255.7 275.2 L255.8 275.3 L255.9 275.3 L256 275.3 L256.1 275.3 L256.2 275.3 L256.3 275.3 L256.4 275.3 L256.5 275.3 L256.6 275.3 L256.7 275.4 L256.8 275.4 L256.9 275.4 L257 275.4 L257.1 275.4 L257.2 275.4 L257.3 275.4 L257.4 275.4 L257.5 275.4 L257.6 275.4 L257.7 275.4 L257.8 275.4 L257.9 275.5 L258 275.5 L258.1 275.5 L258.2 275.5 L258.3 275.5 L258.4 275.5 L258.5 275.5 L258.6 275.5 L258.7 275.5 L258.8 275.5 L258.9 275.5 L259 275.5 L259.1 275.5 L259.2 275.5 L259.3 275.5 L259.4 275.5 L259.5 275.5 L259.6 275.6 L259.7 275.6 L259.8 275.6 L259.9 275.6 L260 275.6 L260.1 275.6 L260.2 275.6 L260.3 275.6 L260.4 275.6 L260.5 275.6 L260.6 275.6 L260.7 275.6 L260.8 275.6 L260.9 275.6 L261 275.6 L261.1 275.6 L261.2 275.6 L261.3 275.6 L261.4 275.6 L261.5 275.6 L261.6 275.6 L261.7 275.6 L261.8 275.6 L261.9 275.6 L262 275.6 L262.1 275.6 L262.2 275.6 L262.3 275.6 L262.4 275.7 L262.5 275.7 L262.6 275.7 L262.7 275.7 L262.8 275.7 L262.9 275.7 L263 275.7 L263.1 275.7 L263.2 275.7 L263.3 275.7 L263.4 275.7 L263.5 275.7 L263.6 275.7 L263.7 275.7 L263.8 275.7 L263.9 275.7 L264 275.7 L264.1 275.7 L264.2 275.7 L264.3 275.7 L264.4 275.7 L264.5 275.7 L264.6 275.7 L264.7 275.7 L264.8 275.7 L264.9 275.7 L265 275.7 L265.1 275.7 L265.2 275.7 L265.3 275.7 L265.4 275.7 L265.5 275.7 L265.6 275.7 L265.7 275.7 L265.8 275.7 L265.9 275.7 L266 275.7 L266.1 275.7 L266.2 275.7 L266.3 275.7 L266.4 275.7 L266.5 275.7 L266.6 275.7 L266.7 275.7 L266.8 275.7 L266.9 275.7 L267 275.7 L267.1 275.7 L267.2 275.7 L267.3 275.7 L267.4 275.7 L267.5 275.7 L267.6 275.7 L267.7 275.7 L267.8 275.7 L267.9 275.7 L268 275.7 L268.1 275.7 L268.2 275.7 L268.3 275.7 L268.4 275.7 L268.5 275.7 L268.6 275.7 L268.7 275.7 L268.8 275.7 L268.9 275.7 L269 275.7 L269.1 275.7 L269.2 275.7 L269.3 275.7 L269.4 275.7 L269.5 275.7 L269.6 275.7 L269.7 275.7 L269.8 275.7 L269.9 275.7 L270 275.7 L270.1 275.7 L270.2 275.7 L270.3 275.7 L270.4 275.7 L270.5 275.7 L270.6 275.7 L270.7 275.7 L270.8 275.7 L270.9 275.7 L271 275.7 L271.1 275.7 L271.2 275.7 L271.3 275.7 L271.4 275.7 L271.5 275.7 L271.6 275.7 L271.7 275.7 L271.8 275.7 L271.9 275.7 L272 275.7 L272.1 275.7 L272.2 275.7 L272.3 275.7 L272.4 275.7 L272.5 275.7 L272.6 275.7 L272.7 275.7 L272.8 275.7 L272.9 275.6 L273 275.6 L273.1 275.6 L273.2 275.6 L273.3 275.6 L273.4 275.6 L273.5 275.6 L273.6 275.6 L273.7 275.6 L273.8 275.6 L273.9 275.6 L274 275.6 L274.1 275.6 L274.2 275.6 L274.3 275.6 L274.4 275.6 L274.5 275.6 L274.6 275.6 L274.7 275.5 L274.8 275.5 L274.9 275.5 L275 275.5 L275.1 275.5 L275.2 275.5 L275.3 275.5 L275.4 275.5 L275.5 275.5 L275.6 275.5 L275.7 275.4 L275.8 275.4 L275.9 275.4 L276 275.4 L276.1 275.4 L276.2 275.4 L276.3 275.4 L276.4 275.4 L276.5 275.3 L276.6 275.3 L276.7 275.3 L276.8 275.3 L276.9 275.3 L277 275.2 L277.1 275.2 L277.2 275.2 L277.3 275.2 L277.4 275.2 L277.5 275.1 L277.6 275.1 L277.7 275.1 L277.8 275.1 L277.9 275 L278 275 L278.1 275 L278.2 274.9 L278.3 274.9 L278.4 274.8 L278.5 274.8 L278.6 274.8 L278.7 274.7 L278.8 274.7 L278.9 274.6 L279 274.6 L279.1 274.5 L279.2 274.4 L279.3 274.4 L279.4 274.3 L279.5 274.2 L279.6 274.1 L279.7 274.1 L279.8 274 L279.9 273.9 L280 273.8 L280.1 273.6 L280.2 273.5 L280.3 273.4 L280.4 273.2 L280.5 273.1 L280.6 272.9 L280.7 272.7 L280.8 272.5 L280.9 272.3 L281 272 L281.1 271.7 L281.2 271.4 L281.3 271 L281.4 270.6 L281.5 270.1 L281.6 269.5 L281.7 268.9 L281.8 268.1 L281.9 267.3 L282 266.3 L282.1 265.3 L282.2 264 L282.3 262.7 L282.4 261.1 L282.5 259.4 L282.6 257.5 L282.7 255.4 L282.8 253.2 L282.9 250.8 L283 248.3 L283.1 245.8 L283.2 243.3 L283.3 240.9 L283.4 238.7 L283.5 236.9 L283.6 235.6 L283.7 234.9 L283.8 234.9 L283.9 235.6 L284 236.9 L284.1 238.7 L284.2 240.9 L284.3 243.3 L284.4 245.8 L284.5 248.4 L284.6 250.8 L284.7 253.2 L284.8 255.4 L284.9 257.5 L285 259.4 L285.1 261.1 L285.2 262.7 L285.3 264.1 L285.4 265.3 L285.5 266.4 L285.6 267.3 L285.7 268.2 L285.8 268.9 L285.9 269.5 L286 270.1 L286.1 270.6 L286.2 271 L286.3 271.4 L286.4 271.7 L286.5 272 L286.6 272.3 L286.7 272.5 L286.8 272.8 L286.9 273 L287 273.1 L287.1 273.3 L287.2 273.4 L287.3 273.6 L287.4 273.7 L287.5 273.8 L287.6 273.9 L287.7 274 L287.8 274.1 L287.9 274.2 L288 274.3 L288.1 274.4 L288.2 274.4 L288.3 274.5 L288.4 274.6 L288.5 274.6 L288.6 274.7 L288.7 274.7 L288.8 274.8 L288.9 274.8 L289 274.9 L289.1 274.9 L289.2 275 L289.3 275 L289.4 275 L289.5 275.1 L289.6 275.1 L289.7 275.1 L289.8 275.2 L289.9 275.2 L290 275.2 L290.1 275.3 L290.2 275.3 L290.3 275.3 L290.4 275.3 L290.5 275.4 L290.6 275.4 L290.7 275.4 L290.8 275.4 L290.9 275.4 L291 275.5 L291.1 275.5 L291.2 275.5 L291.3 275.5 L291.4 275.5 L291.5 275.5 L291.6 275.5 L291.7 275.6 L291.8 275.6 L291.9 275.6 L292 275.6 L292.1 275.6 L292.2 275.6 L292.3 275.6 L292.4 275.6 L292.5 275.7 L292.6 275.7 L292.7 275.7 L292.8 275.7 L292.9 275.7 L293 275.7 L293.1 275.7 L293.2 275.7 L293.3 275.7 L293.4 275.7 L293.5 275.7 L293.6 275.8 L293.7 275.8 L293.8 275.8 L293.9 275.8 L294 275.8 L294.1 275.8 L294.2 275.8 L294.3 275.8 L294.4 275.8 L294.5 275.8 L294.6 275.8 L294.7 275.8 L294.8 275.8 L294.9 275.8 L295 275.8 L295.1 275.8 L295.2 275.9 L295.3 275.9 L295.4 275.9 L295.5 275.9 L295.6 275.9 L295.7 275.9 L295.8 275.9 L295.9 275.9 L296 275.9 L296.1 275.9 L296.2 275.9 L296.3 275.9 L296.4 275.9 L296.5 275.9 L296.6 275.9 L296.7 275.9 L296.8 275.9 L296.9 275.9 L297 275.9 L297.1 275.9 L297.2 275.9 L297.3 275.9 L297.4 275.9 L297.5 275.9 L297.6 275.9 L297.7 275.9 L297.8 276 L297.9 276 L298 276 L298.1 276 L298.2 276 L298.3 276 L298.4 276 L298.5 276 L298.6 276 L298.7 276 L298.8 276 L298.9 276 L299 276 L299.1 276 L299.2 276 L299.3 276 L299.4 276 L299.5 276 L299.6 276 L299.7 276 L299.8 276 L299.9 276 L300 276 L300.1 276 L300.2 276 L300.3 276 L300.4 276 L300.5 276 L300.6 276 L300.7 276 L300.8 276 L300.9 276 L301 276 L301.1 276 L301.2 276 L301.3 276 L301.4 276 L301.5 276 L301.6 276 L301.7 276 L301.8 276 L301.9 276 L302 276 L302.1 276 L302.2 276 L302.3 276 L302.4 276 L302.5 276 L302.6 276 L302.7 276 L302.8 276 L302.9 276.1 L303 276.1 L303.1 276.1 L303.2 276.1 L303.3 276.1 L303.4 276.1 L303.5 276.1 L303.6 276.1 L303.7 276.1 L303.8 276.1 L303.9 276.1 L304 276.1 L304.1 276.1 L304.2 276.1 L304.3 276.1 L304.4 276.1 L304.5 276.1 L304.6 276.1 L304.7 276.1 L304.8 276.1 L304.9 276.1 L305 276.1 L305.1 276.1 L305.2 276.1 L305.3 276.1 L305.4 276.1 L305.5 276.1 L305.6 276.1 L305.7 276.1 L305.8 276.1 L305.9 276.1 L306 276.1 L306.1 276.1 L306.2 276.1 L306.3 276.1 L306.4 276.1 L306.5 276.1 L306.6 276.1 L306.7 276.1 L306.8 276.1 L306.9 276.1 L307 276.1 L307.1 276.1 L307.2 276.1 L307.3 276.1 L307.4 276.1 L307.5 276.1 L307.6 276.1 L307.7 276.1 L307.8 276.1 L307.9 276.1 L308 276.1 L308.1 276.1 L308.2 276.1 L308.3 276.1 L308.4 276.1 L308.5 276.1 L308.6 276.1 L308.7 276.1 L308.8 276.1 L308.9 276.1 L309 276.1 L309.1 276.1 L309.2 276.1 L309.3 276.1 L309.4 276.1 L309.5 276.1 L309.6 276.1 L309.7 276.1 L309.8 276.1 L309.9 276.1 L310 276.1 L310.1 276.1 L310.2 276.1 L310.3 276.1 L310.4 276.1 L310.5 276.1 L310.6 276.1 L310.7 276.1 L310.8 276.1 L310.9 276.1 L311 276.1 L311.1 276.1 L311.2 276.1 L311.3 276.1 L311.4 276.1 L311.5 276 L311.6 276 L311.7 276 L311.8 276 L311.9 276 L312 276 L312.1 276 L312.2 276 L312.3 276 L312.4 276 L312.5 276 L312.6 276 L312.7 276 L312.8 276 L312.9 276 L313 276 L313.1 275.9 L313.2 275.9 L313.3 275.9 L313.4 275.9 L313.5 275.9 L313.6 275.9 L313.7 275.8 L313.8 275.8 L313.9 275.8 L314 275.8 L314.1 275.7 L314.2 275.7 L314.3 275.6 L314.4 275.6 L314.5 275.5 L314.6 275.4 L314.7 275.4 L314.8 275.3 L314.9 275.2 L315 275.1 L315.1 274.9 L315.2 274.8 L315.3 274.7 L315.4 274.5 L315.5 274.4 L315.6 274.2 L315.7 274.1 L315.8 273.9 L315.9 273.8 L316 273.7 L316.1 273.6 L316.2 273.6 L316.3 273.6 L316.4 273.6 L316.5 273.7 L316.6 273.8 L316.7 273.9 L316.8 274.1 L316.9 274.2 L317 274.4 L317.1 274.5 L317.2 274.7 L317.3 274.8 L317.4 274.9 L317.5 275.1 L317.6 275.2 L317.7 275.3 L317.8 275.4 L317.9 275.4 L318 275.5 L318.1 275.6 L318.2 275.6 L318.3 275.7 L318.4 275.7 L318.5 275.8 L318.6 275.8 L318.7 275.8 L318.8 275.8 L318.9 275.9 L319 275.9 L319.1 275.9 L319.2 275.9 L319.3 275.9 L319.4 276 L319.5 276 L319.6 276 L319.7 276 L319.8 276 L319.9 276 L320 276 L320.1 276 L320.2 276 L320.3 276 L320.4 276 L320.5 276 L320.6 276 L320.7 276 L320.8 276 L320.9 276.1 L321 276.1 L321.1 276.1 L321.2 276.1 L321.3 276.1 L321.4 276.1 L321.5 276.1 L321.6 276.1 L321.7 276.1 L321.8 276.1 L321.9 276.1 L322 276.1 L322.1 276.1 L322.2 276.1 L322.3 276.1 L322.4 276.1 L322.5 276.1 L322.6 276.1 L322.7 276.1 L322.8 276.1 L322.9 276.1 L323 276.1 L323.1 276.1 L323.2 276.1 L323.3 276.1 L323.4 276.1 L323.5 276.1 L323.6 276.1 L323.7 276.1 L323.8 276.1 L323.9 276.1 L324 276.1 L324.1 276.1 L324.2 276.1 L324.3 276 L324.4 276 L324.5 276 L324.6 276 L324.7 276 L324.8 276 L324.9 276 L325 276 L325.1 276 L325.2 276 L325.3 276 L325.4 276 L325.5 276 L325.6 276 L325.7 276 L325.8 276 L325.9 276 L326 276 L326.1 275.9 L326.2 275.9 L326.3 275.9 L326.4 275.9 L326.5 275.9 L326.6 275.9 L326.7 275.9 L326.8 275.9 L326.9 275.9 L327 275.8 L327.1 275.8 L327.2 275.8 L327.3 275.8 L327.4 275.8 L327.5 275.8 L327.6 275.7 L327.7 275.7 L327.8 275.7 L327.9 275.7 L328 275.6 L328.1 275.6 L328.2 275.6 L328.3 275.5 L328.4 275.5 L328.5 275.4 L328.6 275.4 L328.7 275.3 L328.8 275.3 L328.9 275.2 L329 275.1 L329.1 275 L329.2 274.9 L329.3 274.8 L329.4 274.7 L329.5 274.6 L329.6 274.4 L329.7 274.2 L329.8 274 L329.9 273.8 L330 273.6 L330.1 273.3 L330.2 273 L330.3 272.6 L330.4 272.2 L330.5 271.8 L330.6 271.4 L330.7 270.9 L330.8 270.4 L330.9 269.9 L331 269.3 L331.1 268.8 L331.2 268.2 L331.3 267.7 L331.4 267.3 L331.5 266.9 L331.6 266.7 L331.7 266.5 L331.8 266.5 L331.9 266.7 L332 266.9 L332.1 267.3 L332.2 267.7 L332.3 268.2 L332.4 268.8 L332.5 269.3 L332.6 269.9 L332.7 270.4 L332.8 270.9 L332.9 271.4 L333 271.8 L333.1 272.3 L333.2 272.6 L333.3 273 L333.4 273.3 L333.5 273.6 L333.6 273.8 L333.7 274.1 L333.8 274.3 L333.9 274.4 L334 274.6 L334.1 274.7 L334.2 274.9 L334.3 275 L334.4 275.1 L334.5 275.2 L334.6 275.2 L334.7 275.3 L334.8 275.4 L334.9 275.4 L335 275.5 L335.1 275.5 L335.2 275.6 L335.3 275.6 L335.4 275.6 L335.5 275.7 L335.6 275.7 L335.7 275.7 L335.8 275.8 L335.9 275.8 L336 275.8 L336.1 275.8 L336.2 275.9 L336.3 275.9 L336.4 275.9 L336.5 275.9 L336.6 275.9 L336.7 275.9 L336.8 276 L336.9 276 L337 276 L337.1 276 L337.2 276 L337.3 276 L337.4 276 L337.5 276 L337.6 276 L337.7 276.1 L337.8 276.1 L337.9 276.1 L338 276.1 L338.1 276.1 L338.2 276.1 L338.3 276.1 L338.4 276.1 L338.5 276.1 L338.6 276.1 L338.7 276.1 L338.8 276.1 L338.9 276.1 L339 276.1 L339.1 276.1 L339.2 276.2 L339.3 276.2 L339.4 276.2 L339.5 276.2 L339.6 276.2 L339.7 276.2 L339.8 276.2 L339.9 276.2 L340 276.2 L340.1 276.2 L340.2 276.2 L340.3 276.2 L340.4 276.2 L340.5 276.2 L340.6 276.2 L340.7 276.2 L340.8 276.2 L340.9 276.2 L341 276.2 L341.1 276.2 L341.2 276.2 L341.3 276.2 L341.4 276.2 L341.5 276.2 L341.6 276.2 L341.7 276.2 L341.8 276.2 L341.9 276.2 L342 276.2 L342.1 276.2 L342.2 276.3 L342.3 276.3 L342.4 276.3 L342.5 276.3 L342.6 276.3 L342.7 276.3 L342.8 276.3 L342.9 276.3 L343 276.3 L343.1 276.3 L343.2 276.3 L343.3 276.3 L343.4 276.3 L343.5 276.3 L343.6 276.3 L343.7 276.3 L343.8 276.3 L343.9 276.3 L344 276.3 L344.1 276.3 L344.2 276.3 L344.3 276.3 L344.4 276.3 L344.5 276.3 L344.6 276.3 L344.7 276.3 L344.8 276.3 L344.9 276.3 L345 276.3 L345.1 276.3 L345.2 276.3 L345.3 276.3 L345.4 276.3 L345.5 276.3 L345.6 276.3 L345.7 276.3 L345.8 276.3 L345.9 276.3 L346 276.3 L346.1 276.3 L346.2 276.3 L346.3 276.3 L346.4 276.3 L346.5 276.3 L346.6 276.3 L346.7 276.3 L346.8 276.3 L346.9 276.3 L347 276.3 L347.1 276.3 L347.2 276.3 L347.3 276.3 L347.4 276.3 L347.5 276.3 L347.6 276.3 L347.7 276.3 L347.8 276.3 L347.9 276.3 L348 276.3 L348.1 276.3 L348.2 276.3 L348.3 276.3 L348.4 276.3 L348.5 276.3 L348.6 276.3 L348.7 276.3 L348.8 276.3 L348.9 276.3 L349 276.3 L349.1 276.3 L349.2 276.3 L349.3 276.3 L349.4 276.3 L349.5 276.3 L349.6 276.3 L349.7 276.3 L349.8 276.3 L349.9 276.3 L350 276.3 L350.1 276.3 L350.2 276.3 L350.3 276.3 L350.4 276.3 L350.5 276.3 L350.6 276.3 L350.7 276.3 L350.8 276.3 L350.9 276.3 L351 276.3 L351.1 276.3 L351.2 276.3 L351.3 276.3 L351.4 276.3 L351.5 276.3 L351.6 276.3 L351.7 276.3 L351.8 276.3 L351.9 276.3 L352 276.3 L352.1 276.3 L352.2 276.3 L352.3 276.3 L352.4 276.3 L352.5 276.3 L352.6 276.3 L352.7 276.4 L352.8 276.4 L352.9 276.4 L353 276.4 L353.1 276.4 L353.2 276.4 L353.3 276.4 L353.4 276.4 L353.5 276.4 L353.6 276.4 L353.7 276.4 L353.8 276.4 L353.9 276.4 L354 276.4 L354.1 276.4 L354.2 276.4 L354.3 276.4 L354.4 276.4 L354.5 276.4 L354.6 276.4 L354.7 276.4 L354.8 276.4 L354.9 276.4 L355 276.4 L355.1 276.4 L355.2 276.4 L355.3 276.4 L355.4 276.4 L355.5 276.4 L355.6 276.4 L355.7 276.4 L355.8 276.4 L355.9 276.4 L356 276.4 L356.1 276.4 L356.2 276.4 L356.3 276.4 L356.4 276.3 L356.5 276.3 L356.6 276.3 L356.7 276.3 L356.8 276.3 L356.9 276.3 L357 276.3 L357.1 276.3 L357.2 276.3 L357.3 276.3 L357.4 276.3 L357.5 276.3 L357.6 276.3 L357.7 276.3 L357.8 276.3 L357.9 276.3 L358 276.3 L358.1 276.3 L358.2 276.3 L358.3 276.3 L358.4 276.3 L358.5 276.3 L358.6 276.3 L358.7 276.3 L358.8 276.3 L358.9 276.3 L359 276.3 L359.1 276.3 L359.2 276.3 L359.3 276.3 L359.4 276.2 L359.5 276.2 L359.6 276.2 L359.7 276.2 L359.8 276.2 L359.9 276.2 L360 276.1 L360.1 276.1 L360.2 276.1 L360.3 276.1 L360.4 276 L360.5 276 L360.6 276 L360.7 275.9 L360.8 275.9 L360.9 275.8 L361 275.8 L361.1 275.8 L361.2 275.7 L361.3 275.7 L361.4 275.6 L361.5 275.6 L361.6 275.6 L361.7 275.6 L361.8 275.6 L361.9 275.6 L362 275.6 L362.1 275.6 L362.2 275.7 L362.3 275.7 L362.4 275.8 L362.5 275.8 L362.6 275.8 L362.7 275.9 L362.8 275.9 L362.9 276 L363 276 L363.1 276 L363.2 276.1 L363.3 276.1 L363.4 276.1 L363.5 276.2 L363.6 276.2 L363.7 276.2 L363.8 276.2 L363.9 276.2 L364 276.2 L364.1 276.3 L364.2 276.3 L364.3 276.3 L364.4 276.3 L364.5 276.3 L364.6 276.3 L364.7 276.3 L364.8 276.3 L364.9 276.3 L365 276.3 L365.1 276.3 L365.2 276.3 L365.3 276.3 L365.4 276.3 L365.5 276.3 L365.6 276.4 L365.7 276.4 L365.8 276.4 L365.9 276.4 L366 276.4 L366.1 276.4 L366.2 276.4 L366.3 276.4 L366.4 276.4 L366.5 276.4 L366.6 276.4 L366.7 276.4 L366.8 276.4 L366.9 276.4 L367 276.4 L367.1 276.4 L367.2 276.4 L367.3 276.4 L367.4 276.4 L367.5 276.4 L367.6 276.4 L367.7 276.4 L367.8 276.4 L367.9 276.4 L368 276.4 L368.1 276.4 L368.2 276.4 L368.3 276.4 L368.4 276.4 L368.5 276.4 L368.6 276.4 L368.7 276.4 L368.8 276.4 L368.9 276.4 L369 276.4 L369.1 276.4 L369.2 276.4 L369.3 276.4 L369.4 276.4 L369.5 276.4 L369.6 276.4 L369.7 276.4 L369.8 276.4 L369.9 276.4 L370 276.4 L370.1 276.4 L370.2 276.4 L370.3 276.4 L370.4 276.4 L370.5 276.4 L370.6 276.4 L370.7 276.4 L370.8 276.4 L370.9 276.4 L371 276.4 L371.1 276.4 L371.2 276.4 L371.3 276.4 L371.4 276.4 L371.5 276.4 L371.6 276.4 L371.7 276.4 L371.8 276.4 L371.9 276.4 L372 276.4 L372.1 276.4 L372.2 276.4 L372.3 276.4 L372.4 276.4 L372.5 276.4 L372.6 276.4 L372.7 276.4 L372.8 276.4 L372.9 276.4 L373 276.4 L373.1 276.4 L373.2 276.4 L373.3 276.4 L373.4 276.4 L373.5 276.4 L373.6 276.4 L373.7 276.4 L373.8 276.4 L373.9 276.4 L374 276.4 L374.1 276.4 L374.2 276.4 L374.3 276.4 L374.4 276.4 L374.5 276.4 L374.6 276.4 L374.7 276.4 L374.8 276.4 L374.9 276.4 L375 276.4 L375.1 276.4 L375.2 276.4 L375.3 276.4 L375.4 276.4 L375.5 276.4 L375.6 276.4 L375.7 276.4 L375.8 276.4 L375.9 276.4 L376 276.4 L376.1 276.4 L376.2 276.4 L376.3 276.4 L376.4 276.4 L376.5 276.4 L376.6 276.4 L376.7 276.4 L376.8 276.4 L376.9 276.4 L377 276.4 L377.1 276.4 L377.2 276.4 L377.3 276.4 L377.4 276.4 L377.5 276.4 L377.6 276.4 L377.7 276.4 L377.8 276.4 L377.9 276.4 L378 276.4 L378.1 276.4 L378.2 276.4 L378.3 276.4 L378.4 276.4 L378.5 276.4 L378.6 276.4 L378.7 276.4 L378.8 276.4 L378.9 276.4 L379 276.4 L379.1 276.4 L379.2 276.4 L379.3 276.4 L379.4 276.4 L379.5 276.4 L379.6 276.4 L379.7 276.4 L379.8 276.4 L379.9 276.4 L380 276.4 L380.1 276.4 L380.2 276.4 L380.3 276.3 L380.4 276.3 L380.5 276.3 L380.6 276.3 L380.7 276.3 L380.8 276.3 L380.9 276.3 L381 276.3 L381.1 276.3 L381.2 276.3 L381.3 276.3 L381.4 276.3 L381.5 276.3 L381.6 276.3 L381.7 276.3 L381.8 276.3 L381.9 276.3 L382 276.3 L382.1 276.3 L382.2 276.3 L382.3 276.3 L382.4 276.3 L382.5 276.3 L382.6 276.3 L382.7 276.3 L382.8 276.3 L382.9 276.3 L383 276.3 L383.1 276.3 L383.2 276.3 L383.3 276.3 L383.4 276.3 L383.5 276.3 L383.6 276.3 L383.7 276.3 L383.8 276.2 L383.9 276.2 L384 276.2 L384.1 276.2 L384.2 276.2 L384.3 276.2 L384.4 276.2 L384.5 276.2 L384.6 276.2 L384.7 276.2 L384.8 276.2 L384.9 276.2 L385 276.2 L385.1 276.2 L385.2 276.1 L385.3 276.1 L385.4 276.1 L385.5 276.1 L385.6 276.1 L385.7 276.1 L385.8 276.1 L385.9 276.1 L386 276 L386.1 276 L386.2 276 L386.3 276 L386.4 276 L386.5 275.9 L386.6 275.9 L386.7 275.9 L386.8 275.8 L386.9 275.8 L387 275.7 L387.1 275.7 L387.2 275.6 L387.3 275.6 L387.4 275.5 L387.5 275.4 L387.6 275.3 L387.7 275.3 L387.8 275.2 L387.9 275.1 L388 274.9 L388.1 274.8 L388.2 274.7 L388.3 274.6 L388.4 274.4 L388.5 274.3 L388.6 274.1 L388.7 274 L388.8 273.9 L388.9 273.8 L389 273.7 L389.1 273.6 L389.2 273.6 L389.3 273.6 L389.4 273.6 L389.5 273.7 L389.6 273.7 L389.7 273.8 L389.8 274 L389.9 274.1 L390 274.2 L390.1 274.3 L390.2 274.4 L390.3 274.6 L390.4 274.7 L390.5 274.8 L390.6 274.9 L390.7 275 L390.8 275.1 L390.9 275.2 L391 275.2 L391.1 275.3 L391.2 275.3 L391.3 275.4 L391.4 275.4 L391.5 275.5 L391.6 275.5 L391.7 275.5 L391.8 275.6 L391.9 275.6 L392 275.6 L392.1 275.6 L392.2 275.6 L392.3 275.6 L392.4 275.6 L392.5 275.6 L392.6 275.6 L392.7 275.6 L392.8 275.6 L392.9 275.6 L393 275.6 L393.1 275.6 L393.2 275.6 L393.3 275.6 L393.4 275.6 L393.5 275.6 L393.6 275.6 L393.7 275.5 L393.8 275.5 L393.9 275.5 L394 275.5 L394.1 275.5 L394.2 275.5 L394.3 275.4 L394.4 275.4 L394.5 275.4 L394.6 275.4 L394.7 275.4 L394.8 275.3 L394.9 275.3 L395 275.3 L395.1 275.2 L395.2 275.2 L395.3 275.2 L395.4 275.2 L395.5 275.1 L395.6 275.1 L395.7 275 L395.8 275 L395.9 275 L396 274.9 L396.1 274.9 L396.2 274.8 L396.3 274.8 L396.4 274.7 L396.5 274.7 L396.6 274.6 L396.7 274.5 L396.8 274.5 L396.9 274.4 L397 274.3 L397.1 274.3 L397.2 274.2 L397.3 274.1 L397.4 274 L397.5 273.9 L397.6 273.8 L397.7 273.7 L397.8 273.6 L397.9 273.5 L398 273.3 L398.1 273.2 L398.2 273.1 L398.3 272.9 L398.4 272.7 L398.5 272.5 L398.6 272.4 L398.7 272.1 L398.8 271.9 L398.9 271.7 L399 271.4 L399.1 271.1 L399.2 270.8 L399.3 270.4 L399.4 270.1 L399.5 269.6 L399.6 269.1 L399.7 268.6 L399.8 268 L399.9 267.4 L400 266.6 L400.1 265.8 L400.2 264.9 L400.3 263.9 L400.4 262.7 L400.5 261.5 L400.6 260.1 L400.7 258.6 L400.8 256.9 L400.9 255.1 L401 253.2 L401.1 251 L401.2 248.8 L401.3 246.3 L401.4 243.8 L401.5 241.1 L401.6 238.4 L401.7 235.6 L401.8 232.9 L401.9 230.2 L402 227.7 L402.1 225.4 L402.2 223.6 L402.3 222.1 L402.4 221.3 L402.5 221 L402.6 221.3 L402.7 222.1 L402.8 223.6 L402.9 225.4 L403 227.7 L403.1 230.2 L403.2 232.9 L403.3 235.6 L403.4 238.4 L403.5 241.1 L403.6 243.8 L403.7 246.4 L403.8 248.8 L403.9 251 L404 253.2 L404.1 255.1 L404.2 256.9 L404.3 258.6 L404.4 260.1 L404.5 261.5 L404.6 262.7 L404.7 263.9 L404.8 264.9 L404.9 265.8 L405 266.6 L405.1 267.4 L405.2 268 L405.3 268.6 L405.4 269.2 L405.5 269.6 L405.6 270.1 L405.7 270.5 L405.8 270.8 L405.9 271.1 L406 271.4 L406.1 271.7 L406.2 271.9 L406.3 272.2 L406.4 272.4 L406.5 272.6 L406.6 272.8 L406.7 272.9 L406.8 273.1 L406.9 273.2 L407 273.4 L407.1 273.5 L407.2 273.6 L407.3 273.7 L407.4 273.8 L407.5 273.9 L407.6 274 L407.7 274.1 L407.8 274.2 L407.9 274.3 L408 274.4 L408.1 274.4 L408.2 274.5 L408.3 274.6 L408.4 274.6 L408.5 274.7 L408.6 274.8 L408.7 274.8 L408.8 274.9 L408.9 274.9 L409 275 L409.1 275 L409.2 275.1 L409.3 275.1 L409.4 275.1 L409.5 275.2 L409.6 275.2 L409.7 275.3 L409.8 275.3 L409.9 275.3 L410 275.4 L410.1 275.4 L410.2 275.4 L410.3 275.4 L410.4 275.5 L410.5 275.5 L410.6 275.5 L410.7 275.5 L410.8 275.6 L410.9 275.6 L411 275.6 L411.1 275.6 L411.2 275.7 L411.3 275.7 L411.4 275.7 L411.5 275.7 L411.6 275.7 L411.7 275.7 L411.8 275.8 L411.9 275.8 L412 275.8 L412.1 275.8 L412.2 275.8 L412.3 275.8 L412.4 275.8 L412.5 275.9 L412.6 275.9 L412.7 275.9 L412.8 275.9 L412.9 275.9 L413 275.9 L413.1 275.9 L413.2 275.9 L413.3 275.9 L413.4 276 L413.5 276 L413.6 276 L413.7 276 L413.8 276 L413.9 276 L414 276 L414.1 276 L414.2 276 L414.3 276 L414.4 276 L414.5 276 L414.6 276 L414.7 276.1 L414.8 276.1 L414.9 276.1 L415 276.1 L415.1 276.1 L415.2 276.1 L415.3 276.1 L415.4 276.1 L415.5 276.1 L415.6 276.1 L415.7 276.1 L415.8 276.1 L415.9 276.1 L416 276.1 L416.1 276.1 L416.2 276.1 L416.3 276.1 L416.4 276.1 L416.5 276.1 L416.6 276.1 L416.7 276.1 L416.8 276.1 L416.9 276.1 L417 276.1 L417.1 276.1 L417.2 276.1 L417.3 276.1 L417.4 276.1 L417.5 276.1 L417.6 276.1 L417.7 276.1 L417.8 276.1 L417.9 276.1 L418 276.1 L418.1 276.1 L418.2 276.1 L418.3 276.1 L418.4 276.1 L418.5 276.1 L418.6 276.1 L418.7 276.1 L418.8 276.1 L418.9 276.1 L419 276.1 L419.1 276.1 L419.2 276.1 L419.3 276.1 L419.4 276.1 L419.5 276.1 L419.6 276.1 L419.7 276.1 L419.8 276.1 L419.9 276 L420 276 L420.1 276 L420.2 276 L420.3 276 L420.4 276 L420.5 276 L420.6 276 L420.7 276 L420.8 276 L420.9 276 L421 275.9 L421.1 275.9 L421.2 275.9 L421.3 275.9 L421.4 275.9 L421.5 275.9 L421.6 275.9 L421.7 275.8 L421.8 275.8 L421.9 275.8 L422 275.8 L422.1 275.8 L422.2 275.7 L422.3 275.7 L422.4 275.7 L422.5 275.7 L422.6 275.6 L422.7 275.6 L422.8 275.6 L422.9 275.5 L423 275.5 L423.1 275.5 L423.2 275.4 L423.3 275.4 L423.4 275.4 L423.5 275.3 L423.6 275.3 L423.7 275.2 L423.8 275.2 L423.9 275.1 L424 275 L424.1 275 L424.2 274.9 L424.3 274.8 L424.4 274.7 L424.5 274.6 L424.6 274.5 L424.7 274.4 L424.8 274.3 L424.9 274.2 L425 274 L425.1 273.9 L425.2 273.7 L425.3 273.5 L425.4 273.3 L425.5 273 L425.6 272.8 L425.7 272.5 L425.8 272.2 L425.9 271.8 L426 271.4 L426.1 270.9 L426.2 270.5 L426.3 269.9 L426.4 269.3 L426.5 268.7 L426.6 268 L426.7 267.2 L426.8 266.4 L426.9 265.5 L427 264.6 L427.1 263.6 L427.2 262.6 L427.3 261.6 L427.4 260.5 L427.5 259.4 L427.6 258.4 L427.7 257.4 L427.8 256.5 L427.9 255.8 L428 255.2 L428.1 254.7 L428.2 254.5 L428.3 254.5 L428.4 254.7 L428.5 255.2 L428.6 255.8 L428.7 256.6 L428.8 257.4 L428.9 258.4 L429 259.5 L429.1 260.5 L429.2 261.6 L429.3 262.6 L429.4 263.7 L429.5 264.6 L429.6 265.6 L429.7 266.4 L429.8 267.3 L429.9 268 L430 268.7 L430.1 269.4 L430.2 270 L430.3 270.5 L430.4 271 L430.5 271.4 L430.6 271.8 L430.7 272.2 L430.8 272.5 L430.9 272.8 L431 273.1 L431.1 273.3 L431.2 273.6 L431.3 273.8 L431.4 273.9 L431.5 274.1 L431.6 274.3 L431.7 274.4 L431.8 274.5 L431.9 274.6 L432 274.7 L432.1 274.8 L432.2 274.9 L432.3 275 L432.4 275.1 L432.5 275.1 L432.6 275.2 L432.7 275.3 L432.8 275.3 L432.9 275.4 L433 275.4 L433.1 275.5 L433.2 275.5 L433.3 275.6 L433.4 275.6 L433.5 275.6 L433.6 275.7 L433.7 275.7 L433.8 275.7 L433.9 275.8 L434 275.8 L434.1 275.8 L434.2 275.9 L434.3 275.9 L434.4 275.9 L434.5 275.9 L434.6 275.9 L434.7 276 L434.8 276 L434.9 276 L435 276 L435.1 276 L435.2 276.1 L435.3 276.1 L435.4 276.1 L435.5 276.1 L435.6 276.1 L435.7 276.1 L435.8 276.2 L435.9 276.2 L436 276.2 L436.1 276.2 L436.2 276.2 L436.3 276.2 L436.4 276.2 L436.5 276.2 L436.6 276.3 L436.7 276.3 L436.8 276.3 L436.9 276.3 L437 276.3 L437.1 276.3 L437.2 276.3 L437.3 276.3 L437.4 276.3 L437.5 276.3 L437.6 276.3 L437.7 276.3 L437.8 276.4 L437.9 276.4 L438 276.4 L438.1 276.4 L438.2 276.4 L438.3 276.4 L438.4 276.4 L438.5 276.4 L438.6 276.4 L438.7 276.4 L438.8 276.4 L438.9 276.4 L439 276.4 L439.1 276.4 L439.2 276.4 L439.3 276.4 L439.4 276.4 L439.5 276.4 L439.6 276.4 L439.7 276.5 L439.8 276.5 L439.9 276.5 L440 276.5 L440.1 276.5 L440.2 276.5 L440.3 276.5 L440.4 276.5 L440.5 276.5 L440.6 276.5 L440.7 276.5 L440.8 276.5 L440.9 276.5 L441 276.5 L441.1 276.5 L441.2 276.5 L441.3 276.5 L441.4 276.5 L441.5 276.5 L441.6 276.5 L441.7 276.5 L441.8 276.5 L441.9 276.5 L442 276.5 L442.1 276.5 L442.2 276.5 L442.3 276.5 L442.4 276.5 L442.5 276.5 L442.6 276.5 L442.7 276.5 L442.8 276.5 L442.9 276.5 L443 276.5 L443.1 276.5 L443.2 276.5 L443.3 276.5 L443.4 276.5 L443.5 276.5 L443.6 276.5 L443.7 276.5 L443.8 276.5 L443.9 276.5 L444 276.5 L444.1 276.5 L444.2 276.5 L444.3 276.5 L444.4 276.5 L444.5 276.5 L444.6 276.5 L444.7 276.5 L444.8 276.5 L444.9 276.5 L445 276.6 L445.1 276.6 L445.2 276.6 L445.3 276.6 L445.4 276.6 L445.5 276.6 L445.6 276.6 L445.7 276.6 L445.8 276.6 L445.9 276.6 L446 276.6 L446.1 276.5 L446.2 276.5 L446.3 276.5 L446.4 276.5 L446.5 276.5 L446.6 276.5 L446.7 276.5 L446.8 276.5 L446.9 276.5 L447 276.5 L447.1 276.5 L447.2 276.5 L447.3 276.5 L447.4 276.5 L447.5 276.5 L447.6 276.5 L447.7 276.5 L447.8 276.5 L447.9 276.5 L448 276.5 L448.1 276.5 L448.2 276.5 L448.3 276.5 L448.4 276.5 L448.5 276.5 L448.6 276.5 L448.7 276.5 L448.8 276.5 L448.9 276.5 L449 276.5 L449.1 276.5 L449.2 276.5 L449.3 276.5 L449.4 276.5 L449.5 276.5 L449.6 276.5 L449.7 276.5 L449.8 276.5 L449.9 276.5 L450 276.4 L450.1 276.4 L450.2 276.4 L450.3 276.4 L450.4 276.4 L450.5 276.4 L450.6 276.4 L450.7 276.4 L450.8 276.4 L450.9 276.3 L451 276.3 L451.1 276.3 L451.2 276.3 L451.3 276.3 L451.4 276.2 L451.5 276.2 L451.6 276.2 L451.7 276.1 L451.8 276.1 L451.9 276.1 L452 276 L452.1 276 L452.2 276 L452.3 275.9 L452.4 275.9 L452.5 275.8 L452.6 275.8 L452.7 275.8 L452.8 275.7 L452.9 275.7 L453 275.7 L453.1 275.6 L453.2 275.6 L453.3 275.6 L453.4 275.6 L453.5 275.6 L453.6 275.7 L453.7 275.7 L453.8 275.7 L453.9 275.7 L454 275.8 L454.1 275.8 L454.2 275.8 L454.3 275.9 L454.4 275.9 L454.5 275.9 L454.6 276 L454.7 276 L454.8 276 L454.9 276 L455 276 L455.1 276.1 L455.2 276.1 L455.3 276.1 L455.4 276.1 L455.5 276.1 L455.6 276.1 L455.7 276.1 L455.8 276.1 L455.9 276.1 L456 276.1 L456.1 276.1 L456.2 276.1 L456.3 276.1 L456.4 276.1 L456.5 276.1 L456.6 276.1 L456.7 276.1 L456.8 276.1 L456.9 276.1 L457 276.1 L457.1 276 L457.2 276 L457.3 276 L457.4 276 L457.5 276 L457.6 276 L457.7 276 L457.8 275.9 L457.9 275.9 L458 275.9 L458.1 275.9 L458.2 275.9 L458.3 275.8 L458.4 275.8 L458.5 275.8 L458.6 275.8 L458.7 275.7 L458.8 275.7 L458.9 275.7 L459 275.6 L459.1 275.6 L459.2 275.6 L459.3 275.5 L459.4 275.5 L459.5 275.4 L459.6 275.4 L459.7 275.3 L459.8 275.3 L459.9 275.2 L460 275.2 L460.1 275.1 L460.2 275.1 L460.3 275 L460.4 274.9 L460.5 274.9 L460.6 274.8 L460.7 274.7 L460.8 274.6 L460.9 274.5 L461 274.4 L461.1 274.3 L461.2 274.2 L461.3 274.1 L461.4 273.9 L461.5 273.8 L461.6 273.6 L461.7 273.5 L461.8 273.3 L461.9 273 L462 272.8 L462.1 272.6 L462.2 272.3 L462.3 272 L462.4 271.6 L462.5 271.2 L462.6 270.8 L462.7 270.4 L462.8 269.9 L462.9 269.3 L463 268.7 L463.1 268.1 L463.2 267.3 L463.3 266.6 L463.4 265.7 L463.5 264.8 L463.6 263.8 L463.7 262.8 L463.8 261.7 L463.9 260.5 L464 259.2 L464.1 257.9 L464.2 256.6 L464.3 255.3 L464.4 253.9 L464.5 252.6 L464.6 251.3 L464.7 250.1 L464.8 249 L464.9 248 L465 247.3 L465.1 246.8 L465.2 246.5 L465.3 246.5 L465.4 246.8 L465.5 247.3 L465.6 248 L465.7 249 L465.8 250.1 L465.9 251.3 L466 252.6 L466.1 253.9 L466.2 255.3 L466.3 256.6 L466.4 258 L466.5 259.3 L466.6 260.5 L466.7 261.7 L466.8 262.8 L466.9 263.8 L467 264.8 L467.1 265.7 L467.2 266.6 L467.3 267.4 L467.4 268.1 L467.5 268.8 L467.6 269.4 L467.7 269.9 L467.8 270.4 L467.9 270.9 L468 271.3 L468.1 271.7 L468.2 272 L468.3 272.3 L468.4 272.6 L468.5 272.9 L468.6 273.1 L468.7 273.3 L468.8 273.5 L468.9 273.7 L469 273.8 L469.1 274 L469.2 274.1 L469.3 274.3 L469.4 274.4 L469.5 274.5 L469.6 274.6 L469.7 274.7 L469.8 274.8 L469.9 274.9 L470 274.9 L470.1 275 L470.2 275.1 L470.3 275.1 L470.4 275.2 L470.5 275.3 L470.6 275.3 L470.7 275.4 L470.8 275.4 L470.9 275.5 L471 275.5 L471.1 275.6 L471.2 275.6 L471.3 275.7 L471.4 275.7 L471.5 275.7 L471.6 275.8 L471.7 275.8 L471.8 275.8 L471.9 275.9 L472 275.9 L472.1 275.9 L472.2 275.9 L472.3 276 L472.4 276 L472.5 276 L472.6 276 L472.7 276.1 L472.8 276.1 L472.9 276.1 L473 276.1 L473.1 276.1 L473.2 276.2 L473.3 276.2 L473.4 276.2 L473.5 276.2 L473.6 276.2 L473.7 276.2 L473.8 276.3 L473.9 276.3 L474 276.3 L474.1 276.3 L474.2 276.3 L474.3 276.3 L474.4 276.3 L474.5 276.4 L474.6 276.4 L474.7 276.4 L474.8 276.4 L474.9 276.4 L475 276.4 L475.1 276.4 L475.2 276.4 L475.3 276.4 L475.4 276.4 L475.5 276.5 L475.6 276.5 L475.7 276.5 L475.8 276.5 L475.9 276.5 L476 276.5 L476.1 276.5 L476.2 276.5 L476.3 276.5 L476.4 276.5 L476.5 276.5 L476.6 276.5 L476.7 276.5 L476.8 276.5 L476.9 276.6 L477 276.6 L477.1 276.6 L477.2 276.6 L477.3 276.6 L477.4 276.6 L477.5 276.6 L477.6 276.6 L477.7 276.6 L477.8 276.6 L477.9 276.6 L478 276.6 L478.1 276.6 L478.2 276.6 L478.3 276.6 L478.4 276.6 L478.5 276.6 L478.6 276.6 L478.7 276.6 L478.8 276.6 L478.9 276.6 L479 276.6 L479.1 276.6 L479.2 276.7 L479.3 276.7 L479.4 276.7 L479.5 276.7 L479.6 276.7 L479.7 276.7 L479.8 276.7 L479.9 276.7 L480 276.7 L480.1 276.7 L480.2 276.7 L480.3 276.7 L480.4 276.7 L480.5 276.7 L480.6 276.7 L480.7 276.7 L480.8 276.7 L480.9 276.7 L481 276.7 L481.1 276.7 L481.2 276.7 L481.3 276.7 L481.4 276.7 L481.5 276.7 L481.6 276.7 L481.7 276.7 L481.8 276.7 L481.9 276.7 L482 276.7 L482.1 276.7 L482.2 276.7 L482.3 276.7 L482.4 276.7 L482.5 276.7 L482.6 276.7 L482.7 276.7 L482.8 276.7 L482.9 276.7 L483 276.7 L483.1 276.7 L483.2 276.7 L483.3 276.7 L483.4 276.7 L483.5 276.7 L483.6 276.7 L483.7 276.7 L483.8 276.7 L483.9 276.7 L484 276.7 L484.1 276.7 L484.2 276.7 L484.3 276.7 L484.4 276.7 L484.5 276.7 L484.6 276.7 L484.7 276.7 L484.8 276.7 L484.9 276.6 L485 276.6 L485.1 276.6 L485.2 276.6 L485.3 276.6 L485.4 276.6 L485.5 276.6 L485.6 276.6 L485.7 276.6 L485.8 276.6 L485.9 276.5 L486 276.5 L486.1 276.5 L486.2 276.5 L486.3 276.5 L486.4 276.4 L486.5 276.4 L486.6 276.4 L486.7 276.4 L486.8 276.3 L486.9 276.3 L487 276.2 L487.1 276.2 L487.2 276.1 L487.3 276.1 L487.4 276 L487.5 276 L487.6 275.9 L487.7 275.8 L487.8 275.8 L487.9 275.7 L488 275.6 L488.1 275.5 L488.2 275.4 L488.3 275.3 L488.4 275.3 L488.5 275.2 L488.6 275.1 L488.7 275 L488.8 274.9 L488.9 274.9 L489 274.8 L489.1 274.8 L489.2 274.8 L489.3 274.8 L489.4 274.8 L489.5 274.8 L489.6 274.9 L489.7 274.9 L489.8 275 L489.9 275.1 L490 275.2 L490.1 275.2 L490.2 275.3 L490.3 275.4 L490.4 275.5 L490.5 275.6 L490.6 275.7 L490.7 275.8 L490.8 275.8 L490.9 275.9 L491 276 L491.1 276 L491.2 276.1 L491.3 276.1 L491.4 276.2 L491.5 276.2 L491.6 276.3 L491.7 276.3 L491.8 276.4 L491.9 276.4 L492 276.4 L492.1 276.4 L492.2 276.5 L492.3 276.5 L492.4 276.5 L492.5 276.5 L492.6 276.5 L492.7 276.5 L492.8 276.6 L492.9 276.6 L493 276.6 L493.1 276.6 L493.2 276.6 L493.3 276.6 L493.4 276.6 L493.5 276.6 L493.6 276.6 L493.7 276.6 L493.8 276.6 L493.9 276.6 L494 276.6 L494.1 276.6 L494.2 276.6 L494.3 276.7 L494.4 276.7 L494.5 276.7 L494.6 276.7 L494.7 276.7 L494.8 276.7 L494.9 276.7 L495 276.7 L495.1 276.7 L495.2 276.7 L495.3 276.7 L495.4 276.7 L495.5 276.7 L495.6 276.7 L495.7 276.7 L495.8 276.7 L495.9 276.7 L496 276.7 L496.1 276.7 L496.2 276.7 L496.3 276.7 L496.4 276.6 L496.5 276.6 L496.6 276.6 L496.7 276.6 L496.8 276.6 L496.9 276.6 L497 276.6 L497.1 276.6 L497.2 276.6 L497.3 276.6 L497.4 276.6 L497.5 276.6 L497.6 276.6 L497.7 276.6 L497.8 276.6 L497.9 276.6 L498 276.6 L498.1 276.6 L498.2 276.6 L498.3 276.6 L498.4 276.6 L498.5 276.6 L498.6 276.6 L498.7 276.6 L498.8 276.5 L498.9 276.5 L499 276.5 L499.1 276.5 L499.2 276.5 L499.3 276.5 L499.4 276.5 L499.5 276.5 L499.6 276.5 L499.7 276.5 L499.8 276.5 L499.9 276.5 L500 276.5 L500.1 276.4 L500.2 276.4 L500.3 276.4 L500.4 276.4 L500.5 276.4 L500.6 276.4 L500.7 276.4 L500.8 276.4 L500.9 276.4 L501 276.3 L501.1 276.3 L501.2 276.3 L501.3 276.3 L501.4 276.3 L501.5 276.3 L501.6 276.3 L501.7 276.2 L501.8 276.2 L501.9 276.2 L502 276.2 L502.1 276.2 L502.2 276.2 L502.3 276.1 L502.4 276.1 L502.5 276.1 L502.6 276.1 L502.7 276.1 L502.8 276 L502.9 276 L503 276 L503.1 276 L503.2 275.9 L503.3 275.9 L503.4 275.9 L503.5 275.9 L503.6 275.8 L503.7 275.8 L503.8 275.8 L503.9 275.7 L504 275.7 L504.1 275.7 L504.2 275.6 L504.3 275.6 L504.4 275.5 L504.5 275.5 L504.6 275.5 L504.7 275.4 L504.8 275.4 L504.9 275.3 L505 275.3 L505.1 275.2 L505.2 275.2 L505.3 275.1 L505.4 275 L505.5 275 L505.6 274.9 L505.7 274.8 L505.8 274.8 L505.9 274.7 L506 274.6 L506.1 274.5 L506.2 274.4 L506.3 274.4 L506.4 274.3 L506.5 274.2 L506.6 274 L506.7 273.9 L506.8 273.8 L506.9 273.7 L507 273.5 L507.1 273.4 L507.2 273.2 L507.3 273.1 L507.4 272.9 L507.5 272.7 L507.6 272.5 L507.7 272.3 L507.8 272.1 L507.9 271.8 L508 271.5 L508.1 271.2 L508.2 270.9 L508.3 270.5 L508.4 270.1 L508.5 269.7 L508.6 269.2 L508.7 268.7 L508.8 268.1 L508.9 267.5 L509 266.8 L509.1 266.1 L509.2 265.3 L509.3 264.4 L509.4 263.5 L509.5 262.4 L509.6 261.3 L509.7 260.1 L509.8 258.8 L509.9 257.4 L510 255.9 L510.1 254.3 L510.2 252.6 L510.3 250.8 L510.4 248.9 L510.5 247 L510.6 245 L510.7 243 L510.8 240.9 L510.9 238.9 L511 236.9 L511.1 235 L511.2 233.2 L511.3 231.6 L511.4 230.3 L511.5 229.2 L511.6 228.5 L511.7 228.1 L511.8 228.1 L511.9 228.5 L512 229.2 L512.1 230.3 L512.2 231.6 L512.3 233.2 L512.4 234.9 L512.5 236.8 L512.6 238.8 L512.7 240.8 L512.8 242.9 L512.9 244.9 L513 246.9 L513.1 248.8 L513.2 250.7 L513.3 252.4 L513.4 254.1 L513.5 255.7 L513.6 257.2 L513.7 258.6 L513.8 259.9 L513.9 261.1 L514 262.2 L514.1 263.2 L514.2 264.2 L514.3 265 L514.4 265.8 L514.5 266.6 L514.6 267.2 L514.7 267.8 L514.8 268.4 L514.9 268.9 L515 269.3 L515.1 269.8 L515.2 270.1 L515.3 270.5 L515.4 270.8 L515.5 271.1 L515.6 271.3 L515.7 271.6 L515.8 271.8 L515.9 272 L516 272.2 L516.1 272.3 L516.2 272.5 L516.3 272.6 L516.4 272.8 L516.5 272.9 L516.6 273 L516.7 273.1 L516.8 273.2 L516.9 273.3 L517 273.3 L517.1 273.4 L517.2 273.5 L517.3 273.5 L517.4 273.6 L517.5 273.6 L517.6 273.7 L517.7 273.7 L517.8 273.7 L517.9 273.7 L518 273.8 L518.1 273.8 L518.2 273.8 L518.3 273.8 L518.4 273.7 L518.5 273.7 L518.6 273.7 L518.7 273.7 L518.8 273.6 L518.9 273.6 L519 273.5 L519.1 273.5 L519.2 273.4 L519.3 273.3 L519.4 273.2 L519.5 273.1 L519.6 273 L519.7 272.9 L519.8 272.7 L519.9 272.5 L520 272.4 L520.1 272.1 L520.2 271.9 L520.3 271.7 L520.4 271.4 L520.5 271.1 L520.6 270.7 L520.7 270.4 L520.8 270 L520.9 269.5 L521 269 L521.1 268.5 L521.2 268 L521.3 267.4 L521.4 266.8 L521.5 266.1 L521.6 265.4 L521.7 264.6 L521.8 263.8 L521.9 263 L522 262.2 L522.1 261.3 L522.2 260.4 L522.3 259.5 L522.4 258.6 L522.5 257.7 L522.6 256.9 L522.7 256.1 L522.8 255.4 L522.9 254.8 L523 254.3 L523.1 253.9 L523.2 253.7 L523.3 253.7 L523.4 253.8 L523.5 254 L523.6 254.4 L523.7 254.9 L523.8 255.5 L523.9 256.3 L524 257.1 L524.1 257.9 L524.2 258.8 L524.3 259.7 L524.4 260.7 L524.5 261.6 L524.6 262.5 L524.7 263.4 L524.8 264.2 L524.9 265 L525 265.8 L525.1 266.5 L525.2 267.2 L525.3 267.9 L525.4 268.5 L525.5 269.1 L525.6 269.7 L525.7 270.2 L525.8 270.6 L525.9 271.1 L526 271.5 L526.1 271.8 L526.2 272.2 L526.3 272.5 L526.4 272.8 L526.5 273.1 L526.6 273.3 L526.7 273.5 L526.8 273.7 L526.9 273.9 L527 274.1 L527.1 274.3 L527.2 274.4 L527.3 274.6 L527.4 274.7 L527.5 274.8 L527.6 274.9 L527.7 275 L527.8 275.1 L527.9 275.2 L528 275.3 L528.1 275.4 L528.2 275.4 L528.3 275.5 L528.4 275.6 L528.5 275.6 L528.6 275.7 L528.7 275.8 L528.8 275.8 L528.9 275.9 L529 275.9 L529.1 276 L529.2 276 L529.3 276.1 L529.4 276.1 L529.5 276.1 L529.6 276.2 L529.7 276.2 L529.8 276.3 L529.9 276.3 L530 276.3 L530.1 276.4 L530.2 276.4 L530.3 276.4 L530.4 276.4 L530.5 276.5 L530.6 276.5 L530.7 276.5 L530.8 276.5 L530.9 276.6 L531 276.6 L531.1 276.6 L531.2 276.6 L531.3 276.7 L531.4 276.7 L531.5 276.7 L531.6 276.7 L531.7 276.7 L531.8 276.8 L531.9 276.8 L532 276.8 L532.1 276.8 L532.2 276.8 L532.3 276.8 L532.4 276.9 L532.5 276.9 L532.6 276.9 L532.7 276.9 L532.8 276.9 L532.9 276.9 L533 276.9 L533.1 276.9 L533.2 277 L533.3 277 L533.4 277 L533.5 277 L533.6 277 L533.7 277 L533.8 277 L533.9 277 L534 277.1 L534.1 277.1 L534.2 277.1 L534.3 277.1 L534.4 277.1 L534.5 277.1 L534.6 277.1 L534.7 277.1 L534.8 277.1 L534.9 277.1 L535 277.1 L535.1 277.2 L535.2 277.2 L535.3 277.2 L535.4 277.2 L535.5 277.2 L535.6 277.2 L535.7 277.2 L535.8 277.2 L535.9 277.2 L536 277.2 L536.1 277.2 L536.2 277.2 L536.3 277.2 L536.4 277.3 L536.5 277.3 L536.6 277.3 L536.7 277.3 L536.8 277.3 L536.9 277.3 L537 277.3 L537.1 277.3 L537.2 277.3 L537.3 277.3 L537.4 277.3 L537.5 277.3 L537.6 277.3 L537.7 277.3 L537.8 277.3 L537.9 277.3 L538 277.3 L538.1 277.3 L538.2 277.4 L538.3 277.4 L538.4 277.4 L538.5 277.4 L538.6 277.4 L538.7 277.4 L538.8 277.4 L538.9 277.4 L539 277.4 L539.1 277.4 L539.2 277.4 L539.3 277.4 L539.4 277.4 L539.5 277.4 L539.6 277.4 L539.7 277.4 L539.8 277.4 L539.9 277.4 L540 277.4 L540.1 277.4 L540.2 277.4 L540.3 277.5 L540.4 277.5 L540.5 277.5 L540.6 277.5 L540.7 277.5 L540.8 277.5 L540.9 277.5 L541 277.5 L541.1 277.5 L541.2 277.5 L541.3 277.5 L541.4 277.5 L541.5 277.5 L541.6 277.5 L541.7 277.5 L541.8 277.5 L541.9 277.5 L542 277.5 L542.1 277.5 L542.2 277.5 L542.3 277.5 L542.4 277.5 L542.5 277.5 L542.6 277.5 L542.7 277.5 L542.8 277.5 L542.9 277.5 L543 277.5 L543.1 277.6 L543.2 277.6 L543.3 277.6 L543.4 277.6 L543.5 277.6 L543.6 277.6 L543.7 277.6 L543.8 277.6 L543.9 277.6 L544 277.6 L544.1 277.6 L544.2 277.6 L544.3 277.6 L544.4 277.6 L544.5 277.6 L544.6 277.6 L544.7 277.6 L544.8 277.6 L544.9 277.6 L545 277.6 L545.1 277.6 L545.2 277.6 L545.3 277.6 L545.4 277.6 L545.5 277.6 L545.6 277.6 L545.7 277.6 L545.8 277.6 L545.9 277.6 L546 277.6 L546.1 277.6 L546.2 277.6 L546.3 277.6 L546.4 277.6 L546.5 277.6 L546.6 277.6 L546.7 277.7 L546.8 277.7 L546.9 277.7 L547 277.7 L547.1 277.7 L547.2 277.7 L547.3 277.7 L547.4 277.7 L547.5 277.7 L547.6 277.7 L547.7 277.7 L547.8 277.7 L547.9 277.7 L548 277.7 L548.1 277.7 L548.2 277.7 L548.3 277.7 L548.4 277.7 L548.5 277.7 L548.6 277.7 L548.7 277.7 L548.8 277.7 L548.9 277.7 L549 277.7 L549.1 277.7 L549.2 277.7 L549.3 277.7 L549.4 277.7 L549.5 277.7 L549.6 277.7 L549.7 277.7 L549.8 277.7 L549.9 277.7 L550 277.7 L550.1 277.7 L550.2 277.7 L550.3 277.7 L550.4 277.7 L550.5 277.7 L550.6 277.7 L550.7 277.7 L550.8 277.7 L550.9 277.7 L551 277.7 L551.1 277.7 L551.2 277.7 L551.3 277.8 L551.4 277.8 L551.5 277.8 L551.6 277.8 L551.7 277.8 L551.8 277.8 L551.9 277.8 L552 277.8 L552.1 277.8 L552.2 277.8 L552.3 277.8 L552.4 277.8 L552.5 277.8 L552.6 277.8 L552.7 277.8 L552.8 277.8 L552.9 277.8 L553 277.8 L553.1 277.8 L553.2 277.8 L553.3 277.8 L553.4 277.8 L553.5 277.8 L553.6 277.8 L553.7 277.8 L553.8 277.8 L553.9 277.8 L554 277.8 L554.1 277.8 L554.2 277.8 L554.3 277.8 L554.4 277.8 L554.5 277.8 L554.6 277.8 L554.7 277.8 L554.8 277.8 L554.9 277.8 L555 277.8 L555.1 277.8 L555.2 277.8 L555.3 277.8 L555.4 277.8 L555.5 277.8 L555.6 277.8 L555.7 277.8 L555.8 277.8 L555.9 277.8 L556 277.8 L556.1 277.8 L556.2 277.8 L556.3 277.8 L556.4 277.8 L556.5 277.8 L556.6 277.8 L556.7 277.8 L556.8 277.8 L556.9 277.8 L557 277.8 L557.1 277.8 L557.2 277.8 L557.3 277.8 L557.4 277.8 L557.5 277.8 L557.6 277.8 L557.7 277.8 L557.8 277.8 L557.9 277.8 L558 277.8 L558.1 277.8 L558.2 277.8 L558.3 277.8 L558.4 277.8 L558.5 277.8 L558.6 277.8 L558.7 277.8 L558.8 277.8 L558.9 277.8 L559 277.8 L559.1 277.8 L559.2 277.8 L559.3 277.8 L559.4 277.8 L559.5 277.8 L559.6 277.8 L559.7 277.8 L559.8 277.8 L559.9 277.8 L560 277.8 L560.1 277.8 L560.2 277.8 L560.3 277.8 L560.4 277.8 L560.5 277.8 L560.6 277.8 L560.7 277.8 L560.8 277.8 L560.9 277.8 L561 277.8 L561.1 277.8 L561.2 277.8 L561.3 277.7 L561.4 277.7 L561.5 277.7 L561.6 277.7 L561.7 277.7 L561.8 277.7 L561.9 277.7 L562 277.7 L562.1 277.7 L562.2 277.7 L562.3 277.7 L562.4 277.7 L562.5 277.6 L562.6 277.6 L562.7 277.6 L562.8 277.6 L562.9 277.6 L563 277.5 L563.1 277.5 L563.2 277.5 L563.3 277.5 L563.4 277.4 L563.5 277.4 L563.6 277.4 L563.7 277.3 L563.8 277.3 L563.9 277.3 L564 277.2 L564.1 277.2 L564.2 277.1 L564.3 277 L564.4 277 L564.5 276.9 L564.6 276.8 L564.7 276.7 L564.8 276.6 L564.9 276.5 L565 276.4 L565.1 276.3 L565.2 276.2 L565.3 276.1 L565.4 276 L565.5 275.8 L565.6 275.7 L565.7 275.6 L565.8 275.4 L565.9 275.3 L566 275.1 L566.1 275 L566.2 274.8 L566.3 274.7 L566.4 274.6 L566.5 274.5 L566.6 274.4 L566.7 274.3 L566.8 274.2 L566.9 274.2 L567 274.2 L567.1 274.2 L567.2 274.2 L567.3 274.3 L567.4 274.4 L567.5 274.5 L567.6 274.6 L567.7 274.7 L567.8 274.8 L567.9 275 L568 275.1 L568.1 275.3 L568.2 275.4 L568.3 275.6 L568.4 275.7 L568.5 275.9 L568.6 276 L568.7 276.1 L568.8 276.3 L568.9 276.4 L569 276.5 L569.1 276.6 L569.2 276.7 L569.3 276.8 L569.4 276.9 L569.5 277 L569.6 277 L569.7 277.1 L569.8 277.2 L569.9 277.2 L570 277.3 L570.1 277.3 L570.2 277.4 L570.3 277.4 L570.4 277.5 L570.5 277.5 L570.6 277.5 L570.7 277.6 L570.8 277.6 L570.9 277.6 L571 277.6 L571.1 277.7 L571.2 277.7 L571.3 277.7 L571.4 277.7 L571.5 277.7 L571.6 277.7 L571.7 277.8 L571.8 277.8 L571.9 277.8 L572 277.8 L572.1 277.8 L572.2 277.8 L572.3 277.8 L572.4 277.8 L572.5 277.8 L572.6 277.8 L572.7 277.8 L572.8 277.8 L572.9 277.8 L573 277.8 L573.1 277.8 L573.2 277.8 L573.3 277.8 L573.4 277.8 L573.5 277.8 L573.6 277.8 L573.7 277.8 L573.8 277.8 L573.9 277.8 L574 277.8 L574.1 277.8 L574.2 277.8 L574.3 277.7 L574.4 277.7 L574.5 277.7 L574.6 277.7 L574.7 277.7 L574.8 277.6 L574.9 277.6 L575 277.6 L575.1 277.5 L575.2 277.5 L575.3 277.5 L575.4 277.4 L575.5 277.4 L575.6 277.3 L575.7 277.3 L575.8 277.2 L575.9 277.2 L576 277.1 L576.1 277.1 L576.2 277 L576.3 276.9 L576.4 276.9 L576.5 276.8 L576.6 276.7 L576.7 276.7 L576.8 276.6 L576.9 276.6 L577 276.5 L577.1 276.5 L577.2 276.4 L577.3 276.4 L577.4 276.4 L577.5 276.4 L577.6 276.4 L577.7 276.4 L577.8 276.5 L577.9 276.5 L578 276.5 L578.1 276.6 L578.2 276.7 L578.3 276.7 L578.4 276.8 L578.5 276.9 L578.6 276.9 L578.7 277 L578.8 277.1 L578.9 277.2 L579 277.2 L579.1 277.3 L579.2 277.4 L579.3 277.4 L579.4 277.5 L579.5 277.5 L579.6 277.6 L579.7 277.6 L579.8 277.7 L579.9 277.7 L580 277.8 L580.1 277.8 L580.2 277.8 L580.3 277.9 L580.4 277.9 L580.5 277.9 L580.6 278 L580.7 278 L580.8 278 L580.9 278 L581 278.1 L581.1 278.1 L581.2 278.1 L581.3 278.1 L581.4 278.1 L581.5 278.1 L581.6 278.1 L581.7 278.2 L581.8 278.2 L581.9 278.2 L582 278.2 L582.1 278.2 L582.2 278.2 L582.3 278.2 L582.4 278.2 L582.5 278.2 L582.6 278.3 L582.7 278.3 L582.8 278.3 L582.9 278.3 L583 278.3 L583.1 278.3 L583.2 278.3 L583.3 278.3 L583.4 278.3 L583.5 278.3 L583.6 278.3 L583.7 278.3 L583.8 278.3 L583.9 278.3 L584 278.3 L584.1 278.3 L584.2 278.3 L584.3 278.4 L584.4 278.4 L584.5 278.4 L584.6 278.4 L584.7 278.4 L584.8 278.4 L584.9 278.4 L585 278.4 L585.1 278.4 L585.2 278.4 L585.3 278.4 L585.4 278.4 L585.5 278.4 L585.6 278.4 L585.7 278.4 L585.8 278.4 L585.9 278.4 L586 278.4 L586.1 278.4 L586.2 278.4 L586.3 278.4 L586.4 278.4 L586.5 278.4 L586.6 278.4 L586.7 278.4 L586.8 278.5 L586.9 278.5 L587 278.5 L587.1 278.5 L587.2 278.5 L587.3 278.5 L587.4 278.5 L587.5 278.5 L587.6 278.5 L587.7 278.5 L587.8 278.5 L587.9 278.5 L588 278.5 L588.1 278.5 L588.2 278.5 L588.3 278.5 L588.4 278.5 L588.5 278.5 L588.6 278.5 L588.7 278.5 L588.8 278.5 L588.9 278.5 L589 278.5 L589.1 278.5 L589.2 278.5 L589.3 278.5 L589.4 278.5 L589.5 278.5 L589.6 278.5 L589.7 278.5 L589.8 278.5 L589.9 278.5 L590 278.5" fill="none" stroke="#2a2a2a" stroke-width="1"/>
<path d="M228.3 33.5V120" fill="none" stroke="#111" stroke-width="1.2"/>
<clipPath id="pc"><rect x="52.6" y="8" width="538.4" height="349"/></clipPath>
<path d="M47.9 275.5h8.2M52 272.2v6.6M48.2 274.6h8.2M52.3 271.3v6.6M48.5 275.2h8.2M52.6 271.9v6.6M48.7 275h8.2M52.8 271.7v6.6M49 275h8.2M53.1 271.7v6.6M49.3 275.1h8.2M53.4 271.8v6.6M49.6 274.7h8.2M53.7 271.4v6.6M49.9 275.1h8.2M54 271.8v6.6M50.1 274.9h8.2M54.2 271.6v6.6M50.4 275.7h8.2M54.5 272.4v6.6M50.7 275.1h8.2M54.8 271.8v6.6M51 275h8.2M55.1 271.7v6.6M51.3 275.1h8.2M55.4 271.8v6.6M51.5 275h8.2M55.6 271.7v6.6M51.8 274.9h8.2M55.9 271.6v6.6M52.1 275h8.2M56.2 271.7v6.6M52.4 275.2h8.2M56.5 271.9v6.6M52.7 275.1h8.2M56.8 271.8v6.6M52.9 275.3h8.2M57 272v6.6M53.2 275.1h8.2M57.3 271.8v6.6M53.5 275.1h8.2M57.6 271.8v6.6M53.8 275.4h8.2M57.9 272.1v6.6M54.1 275.2h8.2M58.2 271.9v6.6M54.3 275h8.2M58.4 271.7v6.6M54.6 275.1h8.2M58.7 271.8v6.6M54.9 275.2h8.2M59 271.9v6.6M55.2 275.5h8.2M59.3 272.2v6.6M55.5 275.1h8.2M59.6 271.8v6.6M55.7 275.1h8.2M59.8 271.8v6.6M56 275.3h8.2M60.1 272v6.6M56.3 275h8.2M60.4 271.7v6.6M56.6 275.1h8.2M60.7 271.8v6.6M56.9 275.3h8.2M61 272v6.6M57.1 275.2h8.2M61.2 271.9v6.6M57.4 275.2h8.2M61.5 271.9v6.6M57.7 275.3h8.2M61.8 272v6.6M58 274.6h8.2M62.1 271.3v6.6M58.3 275.3h8.2M62.4 272v6.6M58.5 275h8.2M62.6 271.7v6.6M58.8 274.8h8.2M62.9 271.5v6.6M59.1 275.2h8.2M63.2 271.9v6.6M59.4 275.3h8.2M63.5 272v6.6M59.7 275.1h8.2M63.8 271.8v6.6M59.9 275h8.2M64 271.7v6.6M60.2 275.2h8.2M64.3 271.9v6.6M60.5 275.1h8.2M64.6 271.8v6.6M60.8 275.4h8.2M64.9 272.1v6.6M61.1 275.3h8.2M65.2 272v6.6M61.3 275.2h8.2M65.4 271.9v6.6M61.6 275.4h8.2M65.7 272.1v6.6M61.9 275.1h8.2M66 271.8v6.6M62.2 275h8.2M66.3 271.7v6.6M62.5 275.3h8.2M66.6 272v6.6M62.7 275.3h8.2M66.8 272v6.6M63 275.1h8.2M67.1 271.8v6.6M63.3 275h8.2M67.4 271.7v6.6M63.6 275.2h8.2M67.7 271.9v6.6M63.9 274.7h8.2M68 271.4v6.6M64.1 275.3h8.2M68.2 272v6.6M64.4 275.3h8.2M68.5 272v6.6M64.7 274.9h8.2M68.8 271.6v6.6M65 275.2h8.2M69.1 271.9v6.6M65.3 275h8.2M69.4 271.7v6.6M65.5 275.3h8.2M69.6 272v6.6M65.8 274.8h8.2M69.9 271.5v6.6M66.1 275h8.2M70.2 271.7v6.6M66.4 275.3h8.2M70.5 272v6.6M66.7 275.4h8.2M70.8 272.1v6.6M66.9 274.8h8.2M71 271.5v6.6M67.2 275.1h8.2M71.3 271.8v6.6M67.5 275.2h8.2M71.6 271.9v6.6M67.8 275.1h8.2M71.9 271.8v6.6M68.1 275.5h8.2M72.2 272.2v6.6M68.3 275h8.2M72.4 271.7v6.6M68.6 275.2h8.2M72.7 271.9v6.6M68.9 275h8.2M73 271.7v6.6M69.2 275.4h8.2M73.3 272.1v6.6M69.5 275.2h8.2M73.6 271.9v6.6M69.7 275.1h8.2M73.8 271.8v6.6M70 274.9h8.2M74.1 271.6v6.6M70.3 275.5h8.2M74.4 272.2v6.6M70.6 275.3h8.2M74.7 272v6.6M70.9 275.3h8.2M75 272v6.6M71.1 275.4h8.2M75.2 272.1v6.6M71.4 275.3h8.2M75.5 272v6.6M71.7 275.1h8.2M75.8 271.8v6.6M72 275.1h8.2M76.1 271.8v6.6M72.3 275.1h8.2M76.4 271.8v6.6M72.5 275.4h8.2M76.6 272.1v6.6M72.8 274.9h8.2M76.9 271.6v6.6M73.1 275.1h8.2M77.2 271.8v6.6M73.4 275.1h8.2M77.5 271.8v6.6M73.7 275.2h8.2M77.8 271.9v6.6M73.9 275.3h8.2M78 272v6.6M74.2 275h8.2M78.3 271.7v6.6M74.5 274.9h8.2M78.6 271.6v6.6M74.8 275.2h8.2M78.9 271.9v6.6M75.1 275.4h8.2M79.2 272.1v6.6M75.3 275.3h8.2M79.4 272v6.6M75.6 275.3h8.2M79.7 272v6.6M75.9 275.2h8.2M80 271.9v6.6M76.2 275.3h8.2M80.3 272v6.6M76.5 275.2h8.2M80.6 271.9v6.6M76.7 275.4h8.2M80.8 272.1v6.6M77 275.1h8.2M81.1 271.8v6.6M77.3 275.2h8.2M81.4 271.9v6.6M77.6 275.2h8.2M81.7 271.9v6.6M77.9 275.3h8.2M82 272v6.6M78.1 275.3h8.2M82.2 272v6.6M78.4 275.7h8.2M82.5 272.4v6.6M78.7 275.5h8.2M82.8 272.2v6.6M79 275.5h8.2M83.1 272.2v6.6M79.3 274.9h8.2M83.4 271.6v6.6M79.5 275.2h8.2M83.6 271.9v6.6M79.8 275.1h8.2M83.9 271.8v6.6M80.1 275.3h8.2M84.2 272v6.6M80.4 274.8h8.2M84.5 271.5v6.6M80.7 275.4h8.2M84.8 272.1v6.6M80.9 275.4h8.2M85 272.1v6.6M81.2 275h8.2M85.3 271.7v6.6M81.5 275.1h8.2M85.6 271.8v6.6M81.8 275.1h8.2M85.9 271.8v6.6M82.1 275.2h8.2M86.2 271.9v6.6M82.3 275.4h8.2M86.4 272.1v6.6M82.6 275.6h8.2M86.7 272.3v6.6M82.9 275.2h8.2M87 271.9v6.6M83.2 275.4h8.2M87.3 272.1v6.6M83.5 275.3h8.2M87.6 272v6.6M83.7 275.6h8.2M87.8 272.3v6.6M84 275.4h8.2M88.1 272.1v6.6M84.3 275.5h8.2M88.4 272.2v6.6M84.6 275.1h8.2M88.7 271.8v6.6M84.9 275.2h8.2M89 271.9v6.6M85.1 275.1h8.2M89.2 271.8v6.6M85.4 275.5h8.2M89.5 272.2v6.6M85.7 275.4h8.2M89.8 272.1v6.6M86 275.2h8.2M90.1 271.9v6.6M86.3 275.2h8.2M90.4 271.9v6.6M86.5 275.3h8.2M90.6 272v6.6M86.8 275.1h8.2M90.9 271.8v6.6M87.1 275.1h8.2M91.2 271.8v6.6M87.4 275.4h8.2M91.5 272.1v6.6M87.7 275.7h8.2M91.8 272.4v6.6M87.9 275.2h8.2M92 271.9v6.6M88.2 275.2h8.2M92.3 271.9v6.6M88.5 275.1h8.2M92.6 271.8v6.6M88.8 275h8.2M92.9 271.7v6.6M89.1 275.4h8.2M93.2 272.1v6.6M89.3 275.4h8.2M93.4 272.1v6.6M89.6 275.3h8.2M93.7 272v6.6M89.9 275.3h8.2M94 272v6.6M90.2 275.3h8.2M94.3 272v6.6M90.5 275.3h8.2M94.6 272v6.6M90.7 275h8.2M94.8 271.7v6.6M91 275.2h8.2M95.1 271.9v6.6M91.3 275.3h8.2M95.4 272v6.6M91.6 275.1h8.2M95.7 271.8v6.6M91.9 275.2h8.2M96 271.9v6.6M92.1 275.1h8.2M96.2 271.8v6.6M92.4 275.2h8.2M96.5 271.9v6.6M92.7 275.4h8.2M96.8 272.1v6.6M93 275.2h8.2M97.1 271.9v6.6M93.3 275.3h8.2M97.4 272v6.6M93.5 275.4h8.2M97.6 272.1v6.6M93.8 275.4h8.2M97.9 272.1v6.6M94.1 275.6h8.2M98.2 272.3v6.6M94.4 274.9h8.2M98.5 271.6v6.6M94.7 275.4h8.2M98.8 272.1v6.6M94.9 275.2h8.2M99 271.9v6.6M95.2 275.3h8.2M99.3 272v6.6M95.5 275.4h8.2M99.6 272.1v6.6M95.8 275.5h8.2M99.9 272.2v6.6M96.1 275.5h8.2M100.2 272.2v6.6M96.3 275.3h8.2M100.4 272v6.6M96.6 275.6h8.2M100.7 272.3v6.6M96.9 275.3h8.2M101 272v6.6M97.2 275.3h8.2M101.3 272v6.6M97.5 275.4h8.2M101.6 272.1v6.6M97.7 275.2h8.2M101.8 271.9v6.6M98 275.7h8.2M102.1 272.4v6.6M98.3 275.5h8.2M102.4 272.2v6.6M98.6 275.7h8.2M102.7 272.4v6.6M98.9 275.3h8.2M103 272v6.6M99.1 275.2h8.2M103.2 271.9v6.6M99.4 275.3h8.2M103.5 272v6.6M99.7 275.4h8.2M103.8 272.1v6.6M100 275.2h8.2M104.1 271.9v6.6M100.3 275.4h8.2M104.4 272.1v6.6M100.5 275.3h8.2M104.6 272v6.6M100.8 275.6h8.2M104.9 272.3v6.6M101.1 275.2h8.2M105.2 271.9v6.6M101.4 275.5h8.2M105.5 272.2v6.6M101.7 275.2h8.2M105.8 271.9v6.6M101.9 275.1h8.2M106 271.8v6.6M102.2 275.2h8.2M106.3 271.9v6.6M102.5 275.1h8.2M106.6 271.8v6.6M102.8 275.4h8.2M106.9 272.1v6.6M103.1 275.5h8.2M107.2 272.2v6.6M103.3 275.4h8.2M107.4 272.1v6.6M103.6 275.4h8.2M107.7 272.1v6.6M103.9 275.6h8.2M108 272.3v6.6M104.2 275.4h8.2M108.3 272.1v6.6M104.5 275.4h8.2M108.6 272.1v6.6M104.7 275.3h8.2M108.8 272v6.6M105 275h8.2M109.1 271.7v6.6M105.3 275.5h8.2M109.4 272.2v6.6M105.6 275h8.2M109.7 271.7v6.6M105.9 275.5h8.2M110 272.2v6.6M106.1 275.3h8.2M110.2 272v6.6M106.4 275.5h8.2M110.5 272.2v6.6M106.7 275.3h8.2M110.8 272v6.6M107 275.2h8.2M111.1 271.9v6.6M107.3 275.4h8.2M111.4 272.1v6.6M107.5 275.2h8.2M111.6 271.9v6.6M107.8 275.3h8.2M111.9 272v6.6M108.1 275.3h8.2M112.2 272v6.6M108.4 275.3h8.2M112.5 272v6.6M108.7 275.3h8.2M112.8 272v6.6M108.9 275.2h8.2M113 271.9v6.6M109.2 275.3h8.2M113.3 272v6.6M109.5 275h8.2M113.6 271.7v6.6M109.8 275.3h8.2M113.9 272v6.6M110.1 275.1h8.2M114.2 271.8v6.6M110.3 275.5h8.2M114.4 272.2v6.6M110.6 275.6h8.2M114.7 272.3v6.6M110.9 275h8.2M115 271.7v6.6M111.2 275.4h8.2M115.3 272.1v6.6M111.5 275.3h8.2M115.6 272v6.6M111.7 275.2h8.2M115.8 271.9v6.6M112 275.4h8.2M116.1 272.1v6.6M112.3 275.3h8.2M116.4 272v6.6M112.6 275h8.2M116.7 271.7v6.6M112.9 275.3h8.2M117 272v6.6M113.1 275.3h8.2M117.2 272v6.6M113.4 275.4h8.2M117.5 272.1v6.6M113.7 275.1h8.2M117.8 271.8v6.6M114 275.5h8.2M118.1 272.2v6.6M114.3 275.5h8.2M118.4 272.2v6.6M114.5 275.1h8.2M118.6 271.8v6.6M114.8 275.2h8.2M118.9 271.9v6.6M115.1 275.3h8.2M119.2 272v6.6M115.4 275.2h8.2M119.5 271.9v6.6M115.7 275.7h8.2M119.8 272.4v6.6M115.9 275.4h8.2M120 272.1v6.6M116.2 275.2h8.2M120.3 271.9v6.6M116.5 275.2h8.2M120.6 271.9v6.6M116.8 275.3h8.2M120.9 272v6.6M117.1 275.8h8.2M121.2 272.5v6.6M117.3 275.3h8.2M121.4 272v6.6M117.6 275.4h8.2M121.7 272.1v6.6M117.9 275.4h8.2M122 272.1v6.6M118.2 275.3h8.2M122.3 272v6.6M118.5 275.7h8.2M122.6 272.4v6.6M118.7 275.2h8.2M122.8 271.9v6.6M119 275.4h8.2M123.1 272.1v6.6M119.3 275.3h8.2M123.4 272v6.6M119.6 275.4h8.2M123.7 272.1v6.6M119.9 275.1h8.2M124 271.8v6.6M120.1 275.6h8.2M124.2 272.3v6.6M120.4 275.3h8.2M124.5 272v6.6M120.7 275.3h8.2M124.8 272v6.6M121 275.1h8.2M125.1 271.8v6.6M121.3 275.1h8.2M125.4 271.8v6.6M121.5 275.3h8.2M125.6 272v6.6M121.8 275.4h8.2M125.9 272.1v6.6M122.1 275.3h8.2M126.2 272v6.6M122.4 275.4h8.2M126.5 272.1v6.6M122.7 275.3h8.2M126.8 272v6.6M122.9 275.1h8.2M127 271.8v6.6M123.2 275.2h8.2M127.3 271.9v6.6M123.5 275.1h8.2M127.6 271.8v6.6M123.8 274.9h8.2M127.9 271.6v6.6M124.1 275h8.2M128.2 271.7v6.6M124.3 275h8.2M128.4 271.7v6.6M124.6 274.6h8.2M128.7 271.3v6.6M124.9 274.3h8.2M129 271v6.6M125.2 274.2h8.2M129.3 270.9v6.6M125.5 273.9h8.2M129.6 270.6v6.6M125.7 272.9h8.2M129.8 269.6v6.6M126 272h8.2M130.1 268.7v6.6M126.3 270.7h8.2M130.4 267.4v6.6M126.6 269.5h8.2M130.7 266.2v6.6M126.9 267.7h8.2M131 264.4v6.6M127.1 267.5h8.2M131.2 264.2v6.6M127.4 268.2h8.2M131.5 264.9v6.6M127.7 269.1h8.2M131.8 265.8v6.6M128 270.9h8.2M132.1 267.6v6.6M128.3 272h8.2M132.4 268.7v6.6M128.5 272.8h8.2M132.6 269.5v6.6M128.8 273.6h8.2M132.9 270.3v6.6M129.1 273.8h8.2M133.2 270.5v6.6M129.4 274.3h8.2M133.5 271v6.6M129.7 274.9h8.2M133.8 271.6v6.6M129.9 274.6h8.2M134 271.3v6.6M130.2 275.2h8.2M134.3 271.9v6.6M130.5 274.9h8.2M134.6 271.6v6.6M130.8 275.2h8.2M134.9 271.9v6.6M131.1 275.1h8.2M135.2 271.8v6.6M131.3 274.7h8.2M135.4 271.4v6.6M131.6 275.1h8.2M135.7 271.8v6.6M131.9 275.2h8.2M136 271.9v6.6M132.2 275h8.2M136.3 271.7v6.6M132.5 275h8.2M136.6 271.7v6.6M132.7 275.3h8.2M136.8 272v6.6M133 275.2h8.2M137.1 271.9v6.6M133.3 275h8.2M137.4 271.7v6.6M133.6 275.2h8.2M137.7 271.9v6.6M133.9 275.5h8.2M138 272.2v6.6M134.1 275.3h8.2M138.2 272v6.6M134.4 275.5h8.2M138.5 272.2v6.6M134.7 275.6h8.2M138.8 272.3v6.6M135 275.4h8.2M139.1 272.1v6.6M135.3 275.2h8.2M139.4 271.9v6.6M135.5 275.2h8.2M139.6 271.9v6.6M135.8 275.4h8.2M139.9 272.1v6.6M136.1 275.6h8.2M140.2 272.3v6.6M136.4 275.5h8.2M140.5 272.2v6.6M136.7 275.5h8.2M140.8 272.2v6.6M136.9 275.3h8.2M141 272v6.6M137.2 275.5h8.2M141.3 272.2v6.6M137.5 275.3h8.2M141.6 272v6.6M137.8 275.4h8.2M141.9 272.1v6.6M138.1 275.2h8.2M142.2 271.9v6.6M138.3 275.2h8.2M142.4 271.9v6.6M138.6 275.4h8.2M142.7 272.1v6.6M138.9 275.2h8.2M143 271.9v6.6M139.2 275.3h8.2M143.3 272v6.6M139.5 275.6h8.2M143.6 272.3v6.6M139.7 275.4h8.2M143.8 272.1v6.6M140 276h8.2M144.1 272.7v6.6M140.3 275.6h8.2M144.4 272.3v6.6M140.6 275.3h8.2M144.7 272v6.6M140.9 275.6h8.2M145 272.3v6.6M141.1 275.5h8.2M145.2 272.2v6.6M141.4 275.3h8.2M145.5 272v6.6M141.7 275.7h8.2M145.8 272.4v6.6M142 275.3h8.2M146.1 272v6.6M142.3 274.9h8.2M146.4 271.6v6.6M142.5 275.6h8.2M146.6 272.3v6.6M142.8 275.4h8.2M146.9 272.1v6.6M143.1 275.7h8.2M147.2 272.4v6.6M143.4 275.4h8.2M147.5 272.1v6.6M143.7 275.3h8.2M147.8 272v6.6M143.9 275.8h8.2M148 272.5v6.6M144.2 275.3h8.2M148.3 272v6.6M144.5 275.5h8.2M148.6 272.2v6.6M144.8 275.8h8.2M148.9 272.5v6.6M145.1 275.5h8.2M149.2 272.2v6.6M145.3 275.5h8.2M149.4 272.2v6.6M145.6 275.5h8.2M149.7 272.2v6.6M145.9 275.7h8.2M150 272.4v6.6M146.2 275.4h8.2M150.3 272.1v6.6M146.5 275.6h8.2M150.6 272.3v6.6M146.7 275.6h8.2M150.8 272.3v6.6M147 275.9h8.2M151.1 272.6v6.6M147.3 275.4h8.2M151.4 272.1v6.6M147.6 275.3h8.2M151.7 272v6.6M147.9 275.6h8.2M152 272.3v6.6M148.1 275.4h8.2M152.2 272.1v6.6M148.4 275.6h8.2M152.5 272.3v6.6M148.7 275.5h8.2M152.8 272.2v6.6M149 275.7h8.2M153.1 272.4v6.6M149.3 275.4h8.2M153.4 272.1v6.6M149.5 275.5h8.2M153.6 272.2v6.6M149.8 275.1h8.2M153.9 271.8v6.6M150.1 275.4h8.2M154.2 272.1v6.6M150.4 275.8h8.2M154.5 272.5v6.6M150.7 275.4h8.2M154.8 272.1v6.6M150.9 275.4h8.2M155 272.1v6.6M151.2 275.3h8.2M155.3 272v6.6M151.5 275.6h8.2M155.6 272.3v6.6M151.8 275.6h8.2M155.9 272.3v6.6M152.1 275.3h8.2M156.2 272v6.6M152.3 275.7h8.2M156.4 272.4v6.6M152.6 275.6h8.2M156.7 272.3v6.6M152.9 275.7h8.2M157 272.4v6.6M153.2 275.4h8.2M157.3 272.1v6.6M153.5 275.8h8.2M157.6 272.5v6.6M153.7 275.6h8.2M157.8 272.3v6.6M154 275.5h8.2M158.1 272.2v6.6M154.3 275.4h8.2M158.4 272.1v6.6M154.6 275.5h8.2M158.7 272.2v6.6M154.9 275.7h8.2M159 272.4v6.6M155.1 275.5h8.2M159.2 272.2v6.6M155.4 275.7h8.2M159.5 272.4v6.6M155.7 275.7h8.2M159.8 272.4v6.6M156 275.8h8.2M160.1 272.5v6.6M156.3 275.7h8.2M160.4 272.4v6.6M156.5 275.5h8.2M160.6 272.2v6.6M156.8 275.2h8.2M160.9 271.9v6.6M157.1 275.6h8.2M161.2 272.3v6.6M157.4 275.7h8.2M161.5 272.4v6.6M157.7 275.6h8.2M161.8 272.3v6.6M157.9 275.7h8.2M162 272.4v6.6M158.2 275.5h8.2M162.3 272.2v6.6M158.5 275.5h8.2M162.6 272.2v6.6M158.8 275.4h8.2M162.9 272.1v6.6M159.1 275.8h8.2M163.2 272.5v6.6M159.3 275.6h8.2M163.4 272.3v6.6M159.6 275.5h8.2M163.7 272.2v6.6M159.9 275.3h8.2M164 272v6.6M160.2 275.5h8.2M164.3 272.2v6.6M160.5 275.8h8.2M164.6 272.5v6.6M160.7 275.7h8.2M164.8 272.4v6.6M161 275.4h8.2M165.1 272.1v6.6M161.3 275.8h8.2M165.4 272.5v6.6M161.6 275.8h8.2M165.7 272.5v6.6M161.9 275.7h8.2M166 272.4v6.6M162.1 275.7h8.2M166.2 272.4v6.6M162.4 275.8h8.2M166.5 272.5v6.6M162.7 275.7h8.2M166.8 272.4v6.6M163 275.7h8.2M167.1 272.4v6.6M163.3 275.4h8.2M167.4 272.1v6.6M163.5 275.8h8.2M167.6 272.5v6.6M163.8 275.6h8.2M167.9 272.3v6.6M164.1 275.9h8.2M168.2 272.6v6.6M164.4 275.2h8.2M168.5 271.9v6.6M164.7 275.7h8.2M168.8 272.4v6.6M164.9 275.8h8.2M169 272.5v6.6M165.2 275.5h8.2M169.3 272.2v6.6M165.5 275.7h8.2M169.6 272.4v6.6M165.8 275.7h8.2M169.9 272.4v6.6M166.1 275.7h8.2M170.2 272.4v6.6M166.3 275.5h8.2M170.4 272.2v6.6M166.6 275.6h8.2M170.7 272.3v6.6M166.9 275.8h8.2M171 272.5v6.6M167.2 275.8h8.2M171.3 272.5v6.6M167.5 275.6h8.2M171.6 272.3v6.6M167.7 275.6h8.2M171.8 272.3v6.6M168 275.6h8.2M172.1 272.3v6.6M168.3 275.8h8.2M172.4 272.5v6.6M168.6 275.4h8.2M172.7 272.1v6.6M168.9 275.4h8.2M173 272.1v6.6M169.1 275.6h8.2M173.2 272.3v6.6M169.4 275.4h8.2M173.5 272.1v6.6M169.7 275.5h8.2M173.8 272.2v6.6M170 275.6h8.2M174.1 272.3v6.6M170.3 275.7h8.2M174.4 272.4v6.6M170.5 275.4h8.2M174.6 272.1v6.6M170.8 275.7h8.2M174.9 272.4v6.6M171.1 275.3h8.2M175.2 272v6.6M171.4 275.7h8.2M175.5 272.4v6.6M171.7 275.3h8.2M175.8 272v6.6M171.9 275.4h8.2M176 272.1v6.6M172.2 275.7h8.2M176.3 272.4v6.6M172.5 275.5h8.2M176.6 272.2v6.6M172.8 275.5h8.2M176.9 272.2v6.6M173.1 275.5h8.2M177.2 272.2v6.6M173.3 275.7h8.2M177.4 272.4v6.6M173.6 275.6h8.2M177.7 272.3v6.6M173.9 275.6h8.2M178 272.3v6.6M174.2 275.8h8.2M178.3 272.5v6.6M174.5 275.5h8.2M178.6 272.2v6.6M174.7 275.5h8.2M178.8 272.2v6.6M175 275.5h8.2M179.1 272.2v6.6M175.3 275.8h8.2M179.4 272.5v6.6M175.6 275.8h8.2M179.7 272.5v6.6M175.9 275.8h8.2M180 272.5v6.6M176.1 275.6h8.2M180.2 272.3v6.6M176.4 275.6h8.2M180.5 272.3v6.6M176.7 275.8h8.2M180.8 272.5v6.6M177 275.5h8.2M181.1 272.2v6.6M177.3 275.8h8.2M181.4 272.5v6.6M177.5 275.8h8.2M181.6 272.5v6.6M177.8 275.5h8.2M181.9 272.2v6.6M178.1 275.6h8.2M182.2 272.3v6.6M178.4 275.6h8.2M182.5 272.3v6.6M178.7 275.9h8.2M182.8 272.6v6.6M178.9 276.1h8.2M183 272.8v6.6M179.2 275.6h8.2M183.3 272.3v6.6M179.5 275.6h8.2M183.6 272.3v6.6M179.8 275.2h8.2M183.9 271.9v6.6M180.1 275.7h8.2M184.2 272.4v6.6M180.3 275.6h8.2M184.4 272.3v6.6M180.6 275.4h8.2M184.7 272.1v6.6M180.9 275.8h8.2M185 272.5v6.6M181.2 275.3h8.2M185.3 272v6.6M181.5 275.6h8.2M185.6 272.3v6.6M181.7 275.7h8.2M185.8 272.4v6.6M182 275.4h8.2M186.1 272.1v6.6M182.3 275.8h8.2M186.4 272.5v6.6M182.6 275.8h8.2M186.7 272.5v6.6M182.9 275.4h8.2M187 272.1v6.6M183.1 275.4h8.2M187.2 272.1v6.6M183.4 275.7h8.2M187.5 272.4v6.6M183.7 275.6h8.2M187.8 272.3v6.6M184 275.4h8.2M188.1 272.1v6.6M184.3 275.6h8.2M188.4 272.3v6.6M184.5 275.6h8.2M188.6 272.3v6.6M184.8 275.6h8.2M188.9 272.3v6.6M185.1 275.8h8.2M189.2 272.5v6.6M185.4 275.7h8.2M189.5 272.4v6.6M185.7 276h8.2M189.8 272.7v6.6M185.9 275.9h8.2M190 272.6v6.6M186.2 275.8h8.2M190.3 272.5v6.6M186.5 275.8h8.2M190.6 272.5v6.6M186.8 275.9h8.2M190.9 272.6v6.6M187.1 275.8h8.2M191.2 272.5v6.6M187.3 275.4h8.2M191.4 272.1v6.6M187.6 275.8h8.2M191.7 272.5v6.6M187.9 275.6h8.2M192 272.3v6.6M188.2 275.9h8.2M192.3 272.6v6.6M188.5 275.7h8.2M192.6 272.4v6.6M188.7 275.7h8.2M192.8 272.4v6.6M189 275.7h8.2M193.1 272.4v6.6M189.3 275.9h8.2M193.4 272.6v6.6M189.6 275.7h8.2M193.7 272.4v6.6M189.9 275.6h8.2M194 272.3v6.6M190.1 275.7h8.2M194.2 272.4v6.6M190.4 275.6h8.2M194.5 272.3v6.6M190.7 275.7h8.2M194.8 272.4v6.6M191 275.6h8.2M195.1 272.3v6.6M191.3 275.7h8.2M195.4 272.4v6.6M191.5 276h8.2M195.6 272.7v6.6M191.8 275.6h8.2M195.9 272.3v6.6M192.1 275.6h8.2M196.2 272.3v6.6M192.4 275.6h8.2M196.5 272.3v6.6M192.7 275.7h8.2M196.8 272.4v6.6M192.9 275.4h8.2M197 272.1v6.6M193.2 275.5h8.2M197.3 272.2v6.6M193.5 275.6h8.2M197.6 272.3v6.6M193.8 275.7h8.2M197.9 272.4v6.6M194.1 275.6h8.2M198.2 272.3v6.6M194.3 275.5h8.2M198.4 272.2v6.6M194.6 275.5h8.2M198.7 272.2v6.6M194.9 275.7h8.2M199 272.4v6.6M195.2 275.9h8.2M199.3 272.6v6.6M195.5 275.7h8.2M199.6 272.4v6.6M195.7 275.7h8.2M199.8 272.4v6.6M196 275.7h8.2M200.1 272.4v6.6M196.3 275.4h8.2M200.4 272.1v6.6M196.6 275.6h8.2M200.7 272.3v6.6M196.9 275.6h8.2M201 272.3v6.6M197.1 275.7h8.2M201.2 272.4v6.6M197.4 275.6h8.2M201.5 272.3v6.6M197.7 275.4h8.2M201.8 272.1v6.6M198 275.8h8.2M202.1 272.5v6.6M198.3 275.9h8.2M202.4 272.6v6.6M198.5 275.6h8.2M202.6 272.3v6.6M198.8 275.7h8.2M202.9 272.4v6.6M199.1 275.6h8.2M203.2 272.3v6.6M199.4 275.7h8.2M203.5 272.4v6.6M199.7 275.3h8.2M203.8 272v6.6M199.9 275.9h8.2M204 272.6v6.6M200.2 275.5h8.2M204.3 272.2v6.6M200.5 275.8h8.2M204.6 272.5v6.6M200.8 275.6h8.2M204.9 272.3v6.6M201.1 275.5h8.2M205.2 272.2v6.6M201.3 275.5h8.2M205.4 272.2v6.6M201.6 275.7h8.2M205.7 272.4v6.6M201.9 275.4h8.2M206 272.1v6.6M202.2 275.5h8.2M206.3 272.2v6.6M202.5 275.5h8.2M206.6 272.2v6.6M202.7 275.2h8.2M206.8 271.9v6.6M203 275.8h8.2M207.1 272.5v6.6M203.3 275.6h8.2M207.4 272.3v6.6M203.6 275.5h8.2M207.7 272.2v6.6M203.9 275.7h8.2M208 272.4v6.6M204.1 275.4h8.2M208.2 272.1v6.6M204.4 275.5h8.2M208.5 272.2v6.6M204.7 275.8h8.2M208.8 272.5v6.6M205 275.7h8.2M209.1 272.4v6.6M205.3 275.1h8.2M209.4 271.8v6.6M205.5 274.9h8.2M209.6 271.6v6.6M205.8 275.3h8.2M209.9 272v6.6M206.1 275.7h8.2M210.2 272.4v6.6M206.4 275.4h8.2M210.5 272.1v6.6M206.7 275.4h8.2M210.8 272.1v6.6M206.9 275.6h8.2M211 272.3v6.6M207.2 275.3h8.2M211.3 272v6.6M207.5 275.5h8.2M211.6 272.2v6.6M207.8 275.6h8.2M211.9 272.3v6.6M208.1 275.5h8.2M212.2 272.2v6.6M208.3 275.5h8.2M212.4 272.2v6.6M208.6 275.3h8.2M212.7 272v6.6M208.9 275.5h8.2M213 272.2v6.6M209.2 275.3h8.2M213.3 272v6.6M209.5 275.6h8.2M213.6 272.3v6.6M209.7 275.8h8.2M213.8 272.5v6.6M210 275.2h8.2M214.1 271.9v6.6M210.3 274.9h8.2M214.4 271.6v6.6M210.6 275.2h8.2M214.7 271.9v6.6M210.9 275.3h8.2M215 272v6.6M211.1 275.4h8.2M215.2 272.1v6.6M211.4 275.4h8.2M215.5 272.1v6.6M211.7 275h8.2M215.8 271.7v6.6M212 275h8.2M216.1 271.7v6.6M212.3 275.3h8.2M216.4 272v6.6M212.5 274.9h8.2M216.6 271.6v6.6M212.8 275.2h8.2M216.9 271.9v6.6M213.1 274.9h8.2M217.2 271.6v6.6M213.4 275.1h8.2M217.5 271.8v6.6M213.7 275h8.2M217.8 271.7v6.6M213.9 275h8.2M218 271.7v6.6M214.2 274.9h8.2M218.3 271.6v6.6M214.5 274.6h8.2M218.6 271.3v6.6M214.8 274.7h8.2M218.9 271.4v6.6M215.1 274.6h8.2M219.2 271.3v6.6M215.3 274.6h8.2M219.4 271.3v6.6M215.6 274.7h8.2M219.7 271.4v6.6M215.9 274.3h8.2M220 271v6.6M216.2 274.1h8.2M220.3 270.8v6.6M216.5 274h8.2M220.6 270.7v6.6M216.7 274h8.2M220.8 270.7v6.6M217 274h8.2M221.1 270.7v6.6M217.3 273.6h8.2M221.4 270.3v6.6M217.6 273.8h8.2M221.7 270.5v6.6M217.9 273.4h8.2M222 270.1v6.6M218.1 273.1h8.2M222.2 269.8v6.6M218.4 272.6h8.2M222.5 269.3v6.6M218.7 272.6h8.2M222.8 269.3v6.6M219 272.3h8.2M223.1 269v6.6M219.3 271.5h8.2M223.4 268.2v6.6M219.5 271.5h8.2M223.6 268.2v6.6M219.8 271h8.2M223.9 267.7v6.6M220.1 270.1h8.2M224.2 266.8v6.6M220.4 269.3h8.2M224.5 266v6.6M220.7 268.6h8.2M224.8 265.3v6.6M220.9 267.1h8.2M225 263.8v6.6M221.2 265h8.2M225.3 261.7v6.6M221.5 263h8.2M225.6 259.7v6.6M221.8 260.1h8.2M225.9 256.8v6.6M222.1 256h8.2M226.2 252.7v6.6M222.3 249.6h8.2M226.4 246.3v6.6M226 247.6h8.2M230.1 244.3v6.6M226.3 254.9h8.2M230.4 251.6v6.6M226.5 258.9h8.2M230.6 255.6v6.6M226.8 262.4h8.2M230.9 259.1v6.6M227.1 264.5h8.2M231.2 261.2v6.6M227.4 266.5h8.2M231.5 263.2v6.6M227.7 267.5h8.2M231.8 264.2v6.6M227.9 268.7h8.2M232 265.4v6.6M228.2 270h8.2M232.3 266.7v6.6M228.5 270.5h8.2M232.6 267.2v6.6M228.8 271.1h8.2M232.9 267.8v6.6M229.1 271.5h8.2M233.2 268.2v6.6M229.3 272.1h8.2M233.4 268.8v6.6M229.6 272.1h8.2M233.7 268.8v6.6M229.9 272.5h8.2M234 269.2v6.6M230.2 272.9h8.2M234.3 269.6v6.6M230.5 273.1h8.2M234.6 269.8v6.6M230.7 273.3h8.2M234.8 270v6.6M231 273.6h8.2M235.1 270.3v6.6M231.3 273.7h8.2M235.4 270.4v6.6M231.6 273.8h8.2M235.7 270.5v6.6M231.9 274.3h8.2M236 271v6.6M232.1 274.3h8.2M236.2 271v6.6M232.4 274.4h8.2M236.5 271.1v6.6M232.7 274.3h8.2M236.8 271v6.6M233 274.3h8.2M237.1 271v6.6M233.3 274.2h8.2M237.4 270.9v6.6M233.5 274.4h8.2M237.6 271.1v6.6M233.8 274.2h8.2M237.9 270.9v6.6M234.1 274.5h8.2M238.2 271.2v6.6M234.4 274.8h8.2M238.5 271.5v6.6M234.7 274.9h8.2M238.8 271.6v6.6M234.9 274.9h8.2M239 271.6v6.6M235.2 274.5h8.2M239.3 271.2v6.6M235.5 274.8h8.2M239.6 271.5v6.6M235.8 274.6h8.2M239.9 271.3v6.6M236.1 274.9h8.2M240.2 271.6v6.6M236.3 274.7h8.2M240.4 271.4v6.6M236.6 274.9h8.2M240.7 271.6v6.6M236.9 275.2h8.2M241 271.9v6.6M237.2 274.8h8.2M241.3 271.5v6.6M237.5 275.1h8.2M241.6 271.8v6.6M237.7 274.6h8.2M241.8 271.3v6.6M238 274.5h8.2M242.1 271.2v6.6M238.3 274.7h8.2M242.4 271.4v6.6M238.6 274.7h8.2M242.7 271.4v6.6M238.9 274.2h8.2M243 270.9v6.6M239.1 274.2h8.2M243.2 270.9v6.6M239.4 273.7h8.2M243.5 270.4v6.6M239.7 273.8h8.2M243.8 270.5v6.6M240 273.7h8.2M244.1 270.4v6.6M240.3 273.2h8.2M244.4 269.9v6.6M240.5 272.8h8.2M244.6 269.5v6.6M240.8 272.1h8.2M244.9 268.8v6.6M241.1 271.8h8.2M245.2 268.5v6.6M241.4 270.8h8.2M245.5 267.5v6.6M241.7 269.4h8.2M245.8 266.1v6.6M241.9 267.2h8.2M246 263.9v6.6M242.2 263.7h8.2M246.3 260.4v6.6M242.5 259.9h8.2M246.6 256.6v6.6M242.8 253.8h8.2M246.9 250.5v6.6M243.1 247h8.2M247.2 243.7v6.6M243.3 240.9h8.2M247.4 237.6v6.6M243.6 237.3h8.2M247.7 234v6.6M243.9 239.8h8.2M248 236.5v6.6M244.2 245.6h8.2M248.3 242.3v6.6M244.5 252.5h8.2M248.6 249.2v6.6M244.7 258.8h8.2M248.8 255.5v6.6M245 263.3h8.2M249.1 260v6.6M245.3 266.3h8.2M249.4 263v6.6M245.6 268.9h8.2M249.7 265.6v6.6M245.9 270.6h8.2M250 267.3v6.6M246.1 271.7h8.2M250.2 268.4v6.6M246.4 272.2h8.2M250.5 268.9v6.6M246.7 272.7h8.2M250.8 269.4v6.6M247 273.5h8.2M251.1 270.2v6.6M247.3 273.8h8.2M251.4 270.5v6.6M247.5 274h8.2M251.6 270.7v6.6M247.8 273.9h8.2M251.9 270.6v6.6M248.1 274.7h8.2M252.2 271.4v6.6M248.4 274h8.2M252.5 270.7v6.6M248.7 274.6h8.2M252.8 271.3v6.6M248.9 275.2h8.2M253 271.9v6.6M249.2 274.9h8.2M253.3 271.6v6.6M249.5 275h8.2M253.6 271.7v6.6M249.8 274.9h8.2M253.9 271.6v6.6M250.1 275.4h8.2M254.2 272.1v6.6M250.3 275h8.2M254.4 271.7v6.6M250.6 275.3h8.2M254.7 272v6.6M250.9 275.3h8.2M255 272v6.6M251.2 275.1h8.2M255.3 271.8v6.6M251.5 275.5h8.2M255.6 272.2v6.6M251.7 275.1h8.2M255.8 271.8v6.6M252 275.3h8.2M256.1 272v6.6M252.3 275.5h8.2M256.4 272.2v6.6M252.6 275.4h8.2M256.7 272.1v6.6M252.9 275.6h8.2M257 272.3v6.6M253.1 275.7h8.2M257.2 272.4v6.6M253.4 275.5h8.2M257.5 272.2v6.6M253.7 275.5h8.2M257.8 272.2v6.6M254 275.5h8.2M258.1 272.2v6.6M254.3 275.5h8.2M258.4 272.2v6.6M254.5 275.8h8.2M258.6 272.5v6.6M254.8 275.6h8.2M258.9 272.3v6.6M255.1 275.7h8.2M259.2 272.4v6.6M255.4 275.6h8.2M259.5 272.3v6.6M255.7 275.5h8.2M259.8 272.2v6.6M255.9 275.8h8.2M260 272.5v6.6M256.2 275.5h8.2M260.3 272.2v6.6M256.5 275.7h8.2M260.6 272.4v6.6M256.8 276h8.2M260.9 272.7v6.6M257.1 275.5h8.2M261.2 272.2v6.6M257.3 275.7h8.2M261.4 272.4v6.6M257.6 275.4h8.2M261.7 272.1v6.6M257.9 275.6h8.2M262 272.3v6.6M258.2 275.5h8.2M262.3 272.2v6.6M258.5 275.7h8.2M262.6 272.4v6.6M258.7 275.7h8.2M262.8 272.4v6.6M259 275.8h8.2M263.1 272.5v6.6M259.3 276h8.2M263.4 272.7v6.6M259.6 275.8h8.2M263.7 272.5v6.6M259.9 275.9h8.2M264 272.6v6.6M260.1 275.8h8.2M264.2 272.5v6.6M260.4 275.7h8.2M264.5 272.4v6.6M260.7 275.6h8.2M264.8 272.3v6.6M261 275.5h8.2M265.1 272.2v6.6M261.3 275.8h8.2M265.4 272.5v6.6M261.5 276.1h8.2M265.6 272.8v6.6M261.8 275.9h8.2M265.9 272.6v6.6M262.1 275.7h8.2M266.2 272.4v6.6M262.4 276.1h8.2M266.5 272.8v6.6M262.7 275.7h8.2M266.8 272.4v6.6M262.9 275.7h8.2M267 272.4v6.6M263.2 275.6h8.2M267.3 272.3v6.6M263.5 275.6h8.2M267.6 272.3v6.6M263.8 275.7h8.2M267.9 272.4v6.6M264.1 276.2h8.2M268.2 272.9v6.6M264.3 275.8h8.2M268.4 272.5v6.6M264.6 275.6h8.2M268.7 272.3v6.6M264.9 275.7h8.2M269 272.4v6.6M265.2 275.7h8.2M269.3 272.4v6.6M265.5 275.5h8.2M269.6 272.2v6.6M265.7 275.8h8.2M269.8 272.5v6.6M266 275.9h8.2M270.1 272.6v6.6M266.3 275.8h8.2M270.4 272.5v6.6M266.6 275.9h8.2M270.7 272.6v6.6M266.9 275.5h8.2M271 272.2v6.6M267.1 275.5h8.2M271.2 272.2v6.6M267.4 276h8.2M271.5 272.7v6.6M267.7 275.9h8.2M271.8 272.6v6.6M268 275.5h8.2M272.1 272.2v6.6M268.3 275.8h8.2M272.4 272.5v6.6M268.5 275.7h8.2M272.6 272.4v6.6M268.8 275.8h8.2M272.9 272.5v6.6M269.1 275.7h8.2M273.2 272.4v6.6M269.4 275.6h8.2M273.5 272.3v6.6M269.7 275.7h8.2M273.8 272.4v6.6M269.9 275.7h8.2M274 272.4v6.6M270.2 275.6h8.2M274.3 272.3v6.6M270.5 275.3h8.2M274.6 272v6.6M270.8 275.1h8.2M274.9 271.8v6.6M271.1 275.4h8.2M275.2 272.1v6.6M271.3 275.2h8.2M275.4 271.9v6.6M271.6 275.6h8.2M275.7 272.3v6.6M271.9 275.6h8.2M276 272.3v6.6M272.2 275.5h8.2M276.3 272.2v6.6M272.5 275.3h8.2M276.6 272v6.6M272.7 275.4h8.2M276.8 272.1v6.6M273 275.5h8.2M277.1 272.2v6.6M273.3 275.1h8.2M277.4 271.8v6.6M273.6 275.3h8.2M277.7 272v6.6M273.9 275.2h8.2M278 271.9v6.6M274.1 275h8.2M278.2 271.7v6.6M274.4 275.1h8.2M278.5 271.8v6.6M274.7 274.6h8.2M278.8 271.3v6.6M275 274.8h8.2M279.1 271.5v6.6M275.3 274.2h8.2M279.4 270.9v6.6M275.5 274.1h8.2M279.6 270.8v6.6M275.8 273.8h8.2M279.9 270.5v6.6M276.1 273.7h8.2M280.2 270.4v6.6M276.4 273.1h8.2M280.5 269.8v6.6M276.7 272.7h8.2M280.8 269.4v6.6M276.9 271.8h8.2M281 268.5v6.6M277.2 271.3h8.2M281.3 268v6.6M277.5 270.1h8.2M281.6 266.8v6.6M277.8 267.8h8.2M281.9 264.5v6.6M278.1 265.2h8.2M282.2 261.9v6.6M278.3 261h8.2M282.4 257.7v6.6M278.6 256h8.2M282.7 252.7v6.6M278.9 249.2h8.2M283 245.9v6.6M279.2 242.1h8.2M283.3 238.8v6.6M279.5 237.5h8.2M283.6 234.2v6.6M279.7 236.3h8.2M283.8 233v6.6M280 240h8.2M284.1 236.7v6.6M280.3 246.6h8.2M284.4 243.3v6.6M280.6 253.2h8.2M284.7 249.9v6.6M280.9 259.2h8.2M285 255.9v6.6M281.1 263.5h8.2M285.2 260.2v6.6M281.4 267.1h8.2M285.5 263.8v6.6M281.7 269.3h8.2M285.8 266v6.6M282 270.4h8.2M286.1 267.1v6.6M282.3 271.5h8.2M286.4 268.2v6.6M282.5 272.4h8.2M286.6 269.1v6.6M282.8 272.8h8.2M286.9 269.5v6.6M283.1 273.5h8.2M287.2 270.2v6.6M283.4 273.9h8.2M287.5 270.6v6.6M283.7 274h8.2M287.8 270.7v6.6M283.9 274.3h8.2M288 271v6.6M284.2 274.7h8.2M288.3 271.4v6.6M284.5 275h8.2M288.6 271.7v6.6M284.8 275.2h8.2M288.9 271.9v6.6M285.1 275h8.2M289.2 271.7v6.6M285.3 275.3h8.2M289.4 272v6.6M285.6 275.1h8.2M289.7 271.8v6.6M285.9 275.4h8.2M290 272.1v6.6M286.2 275.2h8.2M290.3 271.9v6.6M286.5 275.5h8.2M290.6 272.2v6.6M286.7 275.2h8.2M290.8 271.9v6.6M287 275.3h8.2M291.1 272v6.6M287.3 275.6h8.2M291.4 272.3v6.6M287.6 275.7h8.2M291.7 272.4v6.6M287.9 275.4h8.2M292 272.1v6.6M288.1 275.6h8.2M292.2 272.3v6.6M288.4 275.7h8.2M292.5 272.4v6.6M288.7 275.8h8.2M292.8 272.5v6.6M289 275.6h8.2M293.1 272.3v6.6M289.3 275.8h8.2M293.4 272.5v6.6M289.5 275.7h8.2M293.6 272.4v6.6M289.8 276.1h8.2M293.9 272.8v6.6M290.1 275.9h8.2M294.2 272.6v6.6M290.4 275.6h8.2M294.5 272.3v6.6M290.7 275.5h8.2M294.8 272.2v6.6M290.9 275.9h8.2M295 272.6v6.6M291.2 276.1h8.2M295.3 272.8v6.6M291.5 275.9h8.2M295.6 272.6v6.6M291.8 276.1h8.2M295.9 272.8v6.6M292.1 275.8h8.2M296.2 272.5v6.6M292.3 275.7h8.2M296.4 272.4v6.6M292.6 276.1h8.2M296.7 272.8v6.6M292.9 276h8.2M297 272.7v6.6M293.2 276.1h8.2M297.3 272.8v6.6M293.5 275.7h8.2M297.6 272.4v6.6M293.7 276h8.2M297.8 272.7v6.6M294 275.9h8.2M298.1 272.6v6.6M294.3 276.1h8.2M298.4 272.8v6.6M294.6 275.9h8.2M298.7 272.6v6.6M294.9 275.9h8.2M299 272.6v6.6M295.1 275.9h8.2M299.2 272.6v6.6M295.4 276.2h8.2M299.5 272.9v6.6M295.7 276h8.2M299.8 272.7v6.6M296 275.9h8.2M300.1 272.6v6.6M296.3 275.9h8.2M300.4 272.6v6.6M296.5 275.9h8.2M300.6 272.6v6.6M296.8 276.3h8.2M300.9 273v6.6M297.1 275.7h8.2M301.2 272.4v6.6M297.4 275.9h8.2M301.5 272.6v6.6M297.7 276.2h8.2M301.8 272.9v6.6M297.9 276.3h8.2M302 273v6.6M298.2 276h8.2M302.3 272.7v6.6M298.5 276.2h8.2M302.6 272.9v6.6M298.8 276.2h8.2M302.9 272.9v6.6M299.1 276.3h8.2M303.2 273v6.6M299.3 276.1h8.2M303.4 272.8v6.6M299.6 276.4h8.2M303.7 273.1v6.6M299.9 276.1h8.2M304 272.8v6.6M300.2 276.4h8.2M304.3 273.1v6.6M300.5 275.9h8.2M304.6 272.6v6.6M300.7 276.3h8.2M304.8 273v6.6M301 275.9h8.2M305.1 272.6v6.6M301.3 275.8h8.2M305.4 272.5v6.6M301.6 276.2h8.2M305.7 272.9v6.6M301.9 276h8.2M306 272.7v6.6M302.1 276.2h8.2M306.2 272.9v6.6M302.4 275.9h8.2M306.5 272.6v6.6M302.7 276.4h8.2M306.8 273.1v6.6M303 276.1h8.2M307.1 272.8v6.6M303.3 275.9h8.2M307.4 272.6v6.6M303.5 276.1h8.2M307.6 272.8v6.6M303.8 276.3h8.2M307.9 273v6.6M304.1 276h8.2M308.2 272.7v6.6M304.4 276.2h8.2M308.5 272.9v6.6M304.7 276.5h8.2M308.8 273.2v6.6M304.9 276.3h8.2M309 273v6.6M305.2 276.1h8.2M309.3 272.8v6.6M305.5 276h8.2M309.6 272.7v6.6M305.8 276.2h8.2M309.9 272.9v6.6M306.1 275.8h8.2M310.2 272.5v6.6M306.3 275.6h8.2M310.4 272.3v6.6M306.6 276h8.2M310.7 272.7v6.6M306.9 275.9h8.2M311 272.6v6.6M307.2 276.4h8.2M311.3 273.1v6.6M307.5 276.1h8.2M311.6 272.8v6.6M307.7 275.9h8.2M311.8 272.6v6.6M308 275.8h8.2M312.1 272.5v6.6M308.3 276.1h8.2M312.4 272.8v6.6M308.6 275.9h8.2M312.7 272.6v6.6M308.9 275.9h8.2M313 272.6v6.6M309.1 275.9h8.2M313.2 272.6v6.6M309.4 275.9h8.2M313.5 272.6v6.6M309.7 275.9h8.2M313.8 272.6v6.6M310 275.8h8.2M314.1 272.5v6.6M310.3 275.9h8.2M314.4 272.6v6.6M310.5 275.8h8.2M314.6 272.5v6.6M310.8 274.9h8.2M314.9 271.6v6.6M311.1 275.3h8.2M315.2 272v6.6M311.4 274.5h8.2M315.5 271.2v6.6M311.7 274.3h8.2M315.8 271v6.6M311.9 273.6h8.2M316 270.3v6.6M312.2 273.8h8.2M316.3 270.5v6.6M312.5 273.9h8.2M316.6 270.6v6.6M312.8 274.3h8.2M316.9 271v6.6M313.1 274.8h8.2M317.2 271.5v6.6M313.3 275.2h8.2M317.4 271.9v6.6M313.6 275.2h8.2M317.7 271.9v6.6M313.9 275.5h8.2M318 272.2v6.6M314.2 275.8h8.2M318.3 272.5v6.6M314.5 275.9h8.2M318.6 272.6v6.6M314.7 275.8h8.2M318.8 272.5v6.6M315 275.9h8.2M319.1 272.6v6.6M315.3 276h8.2M319.4 272.7v6.6M315.6 275.8h8.2M319.7 272.5v6.6M315.9 275.8h8.2M320 272.5v6.6M316.1 276.3h8.2M320.2 273v6.6M316.4 276h8.2M320.5 272.7v6.6M316.7 276.1h8.2M320.8 272.8v6.6M317 276h8.2M321.1 272.7v6.6M317.3 276.3h8.2M321.4 273v6.6M317.5 276.4h8.2M321.6 273.1v6.6M317.8 276.1h8.2M321.9 272.8v6.6M318.1 276.2h8.2M322.2 272.9v6.6M318.4 276h8.2M322.5 272.7v6.6M318.7 276.4h8.2M322.8 273.1v6.6M318.9 276.3h8.2M323 273v6.6M319.2 276h8.2M323.3 272.7v6.6M319.5 276.3h8.2M323.6 273v6.6M319.8 276.2h8.2M323.9 272.9v6.6M320.1 276.2h8.2M324.2 272.9v6.6M320.3 276.1h8.2M324.4 272.8v6.6M320.6 275.9h8.2M324.7 272.6v6.6M320.9 276h8.2M325 272.7v6.6M321.2 276.2h8.2M325.3 272.9v6.6M321.5 276h8.2M325.6 272.7v6.6M321.7 275.8h8.2M325.8 272.5v6.6M322 276.3h8.2M326.1 273v6.6M322.3 275.9h8.2M326.4 272.6v6.6M322.6 275.8h8.2M326.7 272.5v6.6M322.9 275.8h8.2M327 272.5v6.6M323.1 276h8.2M327.2 272.7v6.6M323.4 276h8.2M327.5 272.7v6.6M323.7 275.8h8.2M327.8 272.5v6.6M324 275.8h8.2M328.1 272.5v6.6M324.3 275.3h8.2M328.4 272v6.6M324.5 275.3h8.2M328.6 272v6.6M324.8 275.2h8.2M328.9 271.9v6.6M325.1 275h8.2M329.2 271.7v6.6M325.4 274.8h8.2M329.5 271.5v6.6M325.7 273.8h8.2M329.8 270.5v6.6M325.9 274.1h8.2M330 270.8v6.6M326.2 272.5h8.2M330.3 269.2v6.6M326.5 271.6h8.2M330.6 268.3v6.6M326.8 270.3h8.2M330.9 267v6.6M327.1 268.8h8.2M331.2 265.5v6.6M327.3 267.4h8.2M331.4 264.1v6.6M327.6 266.3h8.2M331.7 263v6.6M327.9 267h8.2M332 263.7v6.6M328.2 268.5h8.2M332.3 265.2v6.6M328.5 269.7h8.2M332.6 266.4v6.6M328.7 271.1h8.2M332.8 267.8v6.6M329 272.1h8.2M333.1 268.8v6.6M329.3 273.6h8.2M333.4 270.3v6.6M329.6 274.2h8.2M333.7 270.9v6.6M329.9 274.5h8.2M334 271.2v6.6M330.1 274.9h8.2M334.2 271.6v6.6M330.4 275.2h8.2M334.5 271.9v6.6M330.7 275.2h8.2M334.8 271.9v6.6M331 275.5h8.2M335.1 272.2v6.6M331.3 275.7h8.2M335.4 272.4v6.6M331.5 275.8h8.2M335.6 272.5v6.6M331.8 276h8.2M335.9 272.7v6.6M332.1 275.9h8.2M336.2 272.6v6.6M332.4 275.8h8.2M336.5 272.5v6.6M332.7 276h8.2M336.8 272.7v6.6M332.9 275.9h8.2M337 272.6v6.6M333.2 275.8h8.2M337.3 272.5v6.6M333.5 276.3h8.2M337.6 273v6.6M333.8 276h8.2M337.9 272.7v6.6M334.1 276.1h8.2M338.2 272.8v6.6M334.3 276.2h8.2M338.4 272.9v6.6M334.6 275.9h8.2M338.7 272.6v6.6M334.9 276.3h8.2M339 273v6.6M335.2 276.3h8.2M339.3 273v6.6M335.5 276.2h8.2M339.6 272.9v6.6M335.7 276.3h8.2M339.8 273v6.6M336 276.1h8.2M340.1 272.8v6.6M336.3 275.8h8.2M340.4 272.5v6.6M336.6 276.2h8.2M340.7 272.9v6.6M336.9 276.1h8.2M341 272.8v6.6M337.1 276.4h8.2M341.2 273.1v6.6M337.4 276.3h8.2M341.5 273v6.6M337.7 276.2h8.2M341.8 272.9v6.6M338 276.3h8.2M342.1 273v6.6M338.3 276.5h8.2M342.4 273.2v6.6M338.5 276.5h8.2M342.6 273.2v6.6M338.8 276.3h8.2M342.9 273v6.6M339.1 276.4h8.2M343.2 273.1v6.6M339.4 276.2h8.2M343.5 272.9v6.6M339.7 276.3h8.2M343.8 273v6.6M339.9 276.4h8.2M344 273.1v6.6M340.2 276.3h8.2M344.3 273v6.6M340.5 276.4h8.2M344.6 273.1v6.6M340.8 276.1h8.2M344.9 272.8v6.6M341.1 276h8.2M345.2 272.7v6.6M341.3 276h8.2M345.4 272.7v6.6M341.6 276.2h8.2M345.7 272.9v6.6M341.9 276.6h8.2M346 273.3v6.6M342.2 276.5h8.2M346.3 273.2v6.6M342.5 276.1h8.2M346.6 272.8v6.6M342.7 276h8.2M346.8 272.7v6.6M343 276.5h8.2M347.1 273.2v6.6M343.3 276.4h8.2M347.4 273.1v6.6M343.6 276.1h8.2M347.7 272.8v6.6M343.9 276.5h8.2M348 273.2v6.6M344.1 276.4h8.2M348.2 273.1v6.6M344.4 276.6h8.2M348.5 273.3v6.6M344.7 276.4h8.2M348.8 273.1v6.6M345 276.5h8.2M349.1 273.2v6.6M345.3 276.4h8.2M349.4 273.1v6.6M345.5 276.2h8.2M349.6 272.9v6.6M345.8 276.3h8.2M349.9 273v6.6M346.1 276.2h8.2M350.2 272.9v6.6M346.4 276.5h8.2M350.5 273.2v6.6M346.7 276.2h8.2M350.8 272.9v6.6M346.9 276.1h8.2M351 272.8v6.6M347.2 276.5h8.2M351.3 273.2v6.6M347.5 276.6h8.2M351.6 273.3v6.6M347.8 276.6h8.2M351.9 273.3v6.6M348.1 276.6h8.2M352.2 273.3v6.6M348.3 276.1h8.2M352.4 272.8v6.6M348.6 276.2h8.2M352.7 272.9v6.6M348.9 276.3h8.2M353 273v6.6M349.2 276.4h8.2M353.3 273.1v6.6M349.5 276h8.2M353.6 272.7v6.6M349.7 276.4h8.2M353.8 273.1v6.6M350 276.4h8.2M354.1 273.1v6.6M350.3 276.2h8.2M354.4 272.9v6.6M350.6 276.4h8.2M354.7 273.1v6.6M350.9 276.6h8.2M355 273.3v6.6M351.1 276.4h8.2M355.2 273.1v6.6M351.4 276.6h8.2M355.5 273.3v6.6M351.7 276.5h8.2M355.8 273.2v6.6M352 276.4h8.2M356.1 273.1v6.6M352.3 276.4h8.2M356.4 273.1v6.6M352.5 276.3h8.2M356.6 273v6.6M352.8 276.6h8.2M356.9 273.3v6.6M353.1 276.3h8.2M357.2 273v6.6M353.4 276.2h8.2M357.5 272.9v6.6M353.7 276.5h8.2M357.8 273.2v6.6M353.9 276.2h8.2M358 272.9v6.6M354.2 276.4h8.2M358.3 273.1v6.6M354.5 276.5h8.2M358.6 273.2v6.6M354.8 276.3h8.2M358.9 273v6.6M355.1 276.3h8.2M359.2 273v6.6M355.3 276.4h8.2M359.4 273.1v6.6M355.6 276.4h8.2M359.7 273.1v6.6M355.9 275.9h8.2M360 272.6v6.6M356.2 275.9h8.2M360.3 272.6v6.6M356.5 276.2h8.2M360.6 272.9v6.6M356.7 276h8.2M360.8 272.7v6.6M357 275.4h8.2M361.1 272.1v6.6M357.3 275.4h8.2M361.4 272.1v6.6M357.6 275.6h8.2M361.7 272.3v6.6M357.9 275.5h8.2M362 272.2v6.6M358.1 275.8h8.2M362.2 272.5v6.6M358.4 275.9h8.2M362.5 272.6v6.6M358.7 276h8.2M362.8 272.7v6.6M359 275.8h8.2M363.1 272.5v6.6M359.3 276.3h8.2M363.4 273v6.6M359.5 276.6h8.2M363.6 273.3v6.6M359.8 276.1h8.2M363.9 272.8v6.6M360.1 276.5h8.2M364.2 273.2v6.6M360.4 276.5h8.2M364.5 273.2v6.6M360.7 276.4h8.2M364.8 273.1v6.6M360.9 276.3h8.2M365 273v6.6M361.2 276.1h8.2M365.3 272.8v6.6M361.5 276.2h8.2M365.6 272.9v6.6M361.8 276.5h8.2M365.9 273.2v6.6M362.1 276.6h8.2M366.2 273.3v6.6M362.3 276.6h8.2M366.4 273.3v6.6M362.6 276.6h8.2M366.7 273.3v6.6M362.9 276.6h8.2M367 273.3v6.6M363.2 276.3h8.2M367.3 273v6.6M363.5 276.2h8.2M367.6 272.9v6.6M363.7 276.4h8.2M367.8 273.1v6.6M364 276.5h8.2M368.1 273.2v6.6M364.3 276.4h8.2M368.4 273.1v6.6M364.6 276.1h8.2M368.7 272.8v6.6M364.9 276.3h8.2M369 273v6.6M365.1 276.1h8.2M369.2 272.8v6.6M365.4 276.4h8.2M369.5 273.1v6.6M365.7 276.2h8.2M369.8 272.9v6.6M366 276.4h8.2M370.1 273.1v6.6M366.3 276.5h8.2M370.4 273.2v6.6M366.5 276.4h8.2M370.6 273.1v6.6M366.8 276.7h8.2M370.9 273.4v6.6M367.1 276.2h8.2M371.2 272.9v6.6M367.4 276h8.2M371.5 272.7v6.6M367.7 276.6h8.2M371.8 273.3v6.6M367.9 276.7h8.2M372 273.4v6.6M368.2 276.7h8.2M372.3 273.4v6.6M368.5 276.5h8.2M372.6 273.2v6.6M368.8 276.5h8.2M372.9 273.2v6.6M369.1 276.4h8.2M373.2 273.1v6.6M369.3 276.2h8.2M373.4 272.9v6.6M369.6 276.3h8.2M373.7 273v6.6M369.9 276.5h8.2M374 273.2v6.6M370.2 276.3h8.2M374.3 273v6.6M370.5 276.8h8.2M374.6 273.5v6.6M370.7 276.1h8.2M374.8 272.8v6.6M371 276.3h8.2M375.1 273v6.6M371.3 276.6h8.2M375.4 273.3v6.6M371.6 276.3h8.2M375.7 273v6.6M371.9 276.2h8.2M376 272.9v6.6M372.1 276.2h8.2M376.2 272.9v6.6M372.4 276.3h8.2M376.5 273v6.6M372.7 276.7h8.2M376.8 273.4v6.6M373 276.5h8.2M377.1 273.2v6.6M373.3 276.5h8.2M377.4 273.2v6.6M373.5 276.3h8.2M377.6 273v6.6M373.8 276.5h8.2M377.9 273.2v6.6M374.1 276.4h8.2M378.2 273.1v6.6M374.4 276.2h8.2M378.5 272.9v6.6M374.7 276.3h8.2M378.8 273v6.6M374.9 276.4h8.2M379 273.1v6.6M375.2 276.6h8.2M379.3 273.3v6.6M375.5 276.4h8.2M379.6 273.1v6.6M375.8 276.5h8.2M379.9 273.2v6.6M376.1 276.7h8.2M380.2 273.4v6.6M376.3 276.2h8.2M380.4 272.9v6.6M376.6 276.1h8.2M380.7 272.8v6.6M376.9 276.5h8.2M381 273.2v6.6M377.2 276.4h8.2M381.3 273.1v6.6M377.5 276.3h8.2M381.6 273v6.6M377.7 276.4h8.2M381.8 273.1v6.6M378 276.3h8.2M382.1 273v6.6M378.3 276.4h8.2M382.4 273.1v6.6M378.6 276.3h8.2M382.7 273v6.6M378.9 276.4h8.2M383 273.1v6.6M379.1 276.1h8.2M383.2 272.8v6.6M379.4 276.1h8.2M383.5 272.8v6.6M379.7 276.3h8.2M383.8 273v6.6M380 276.2h8.2M384.1 272.9v6.6M380.3 276.4h8.2M384.4 273.1v6.6M380.5 276.2h8.2M384.6 272.9v6.6M380.8 276.1h8.2M384.9 272.8v6.6M381.1 276.2h8.2M385.2 272.9v6.6M381.4 276h8.2M385.5 272.7v6.6M381.7 275.8h8.2M385.8 272.5v6.6M381.9 275.9h8.2M386 272.6v6.6M382.2 275.9h8.2M386.3 272.6v6.6M382.5 275.8h8.2M386.6 272.5v6.6M382.8 275.8h8.2M386.9 272.5v6.6M383.1 275.9h8.2M387.2 272.6v6.6M383.3 275.6h8.2M387.4 272.3v6.6M383.6 275.6h8.2M387.7 272.3v6.6M383.9 275.2h8.2M388 271.9v6.6M384.2 274.6h8.2M388.3 271.3v6.6M384.5 274.6h8.2M388.6 271.3v6.6M384.7 274.2h8.2M388.8 270.9v6.6M385 273.6h8.2M389.1 270.3v6.6M385.3 273.8h8.2M389.4 270.5v6.6M385.6 274.1h8.2M389.7 270.8v6.6M385.9 274.3h8.2M390 271v6.6M386.1 274.8h8.2M390.2 271.5v6.6M386.4 275h8.2M390.5 271.7v6.6M386.7 275.3h8.2M390.8 272v6.6M387 275.3h8.2M391.1 272v6.6M387.3 275.5h8.2M391.4 272.2v6.6M387.5 275.5h8.2M391.6 272.2v6.6M387.8 275.7h8.2M391.9 272.4v6.6M388.1 275.3h8.2M392.2 272v6.6M388.4 275.7h8.2M392.5 272.4v6.6M388.7 275.9h8.2M392.8 272.6v6.6M388.9 275.8h8.2M393 272.5v6.6M389.2 275.6h8.2M393.3 272.3v6.6M389.5 275.7h8.2M393.6 272.4v6.6M389.8 275.4h8.2M393.9 272.1v6.6M390.1 275.4h8.2M394.2 272.1v6.6M390.3 275.4h8.2M394.4 272.1v6.6M390.6 275.4h8.2M394.7 272.1v6.6M390.9 275.5h8.2M395 272.2v6.6M391.2 275.1h8.2M395.3 271.8v6.6M391.5 275.3h8.2M395.6 272v6.6M391.7 274.8h8.2M395.8 271.5v6.6M392 274.8h8.2M396.1 271.5v6.6M392.3 274.8h8.2M396.4 271.5v6.6M392.6 274.8h8.2M396.7 271.5v6.6M392.9 274.3h8.2M397 271v6.6M393.1 273.8h8.2M397.2 270.5v6.6M393.4 274.1h8.2M397.5 270.8v6.6M393.7 273.7h8.2M397.8 270.4v6.6M394 273.1h8.2M398.1 269.8v6.6M394.3 272.7h8.2M398.4 269.4v6.6M394.5 272.3h8.2M398.6 269v6.6M394.8 271.8h8.2M398.9 268.5v6.6M395.1 271.1h8.2M399.2 267.8v6.6M395.4 269.7h8.2M399.5 266.4v6.6M395.7 268.9h8.2M399.8 265.6v6.6M395.9 266.6h8.2M400 263.3v6.6M396.2 264h8.2M400.3 260.7v6.6M396.5 260.7h8.2M400.6 257.4v6.6M396.8 256.1h8.2M400.9 252.8v6.6M397.1 250.9h8.2M401.2 247.6v6.6M397.3 243.9h8.2M401.4 240.6v6.6M397.6 236.2h8.2M401.7 232.9v6.6M397.9 229.1h8.2M402 225.8v6.6M398.2 223.9h8.2M402.3 220.6v6.6M398.5 222.6h8.2M402.6 219.3v6.6M398.7 225.9h8.2M402.8 222.6v6.6M399 232h8.2M403.1 228.7v6.6M399.3 239.8h8.2M403.4 236.5v6.6M399.6 246.7h8.2M403.7 243.4v6.6M399.9 253h8.2M404 249.7v6.6M400.1 258.4h8.2M404.2 255.1v6.6M400.4 261.8h8.2M404.5 258.5v6.6M400.7 265.1h8.2M404.8 261.8v6.6M401 267.6h8.2M405.1 264.3v6.6M401.3 269.2h8.2M405.4 265.9v6.6M401.5 270.4h8.2M405.6 267.1v6.6M401.8 271.4h8.2M405.9 268.1v6.6M402.1 272h8.2M406.2 268.7v6.6M402.4 272.6h8.2M406.5 269.3v6.6M402.7 272.9h8.2M406.8 269.6v6.6M402.9 273.2h8.2M407 269.9v6.6M403.2 274.1h8.2M407.3 270.8v6.6M403.5 274h8.2M407.6 270.7v6.6M403.8 274.2h8.2M407.9 270.9v6.6M404.1 274.8h8.2M408.2 271.5v6.6M404.3 274.9h8.2M408.4 271.6v6.6M404.6 274.8h8.2M408.7 271.5v6.6M404.9 274.9h8.2M409 271.6v6.6M405.2 275.1h8.2M409.3 271.8v6.6M405.5 275.1h8.2M409.6 271.8v6.6M405.7 275.5h8.2M409.8 272.2v6.6M406 275.5h8.2M410.1 272.2v6.6M406.3 275.5h8.2M410.4 272.2v6.6M406.6 275.7h8.2M410.7 272.4v6.6M406.9 275.8h8.2M411 272.5v6.6M407.1 276h8.2M411.2 272.7v6.6M407.4 276h8.2M411.5 272.7v6.6M407.7 275.5h8.2M411.8 272.2v6.6M408 276h8.2M412.1 272.7v6.6M408.3 275.7h8.2M412.4 272.4v6.6M408.5 275.7h8.2M412.6 272.4v6.6M408.8 276.1h8.2M412.9 272.8v6.6M409.1 275.8h8.2M413.2 272.5v6.6M409.4 275.9h8.2M413.5 272.6v6.6M409.7 276.2h8.2M413.8 272.9v6.6M409.9 275.9h8.2M414 272.6v6.6M410.2 275.9h8.2M414.3 272.6v6.6M410.5 276.1h8.2M414.6 272.8v6.6M410.8 276.3h8.2M414.9 273v6.6M411.1 276.2h8.2M415.2 272.9v6.6M411.3 275.8h8.2M415.4 272.5v6.6M411.6 276h8.2M415.7 272.7v6.6M411.9 276.1h8.2M416 272.8v6.6M412.2 276.5h8.2M416.3 273.2v6.6M412.5 276.3h8.2M416.6 273v6.6M412.7 276.3h8.2M416.8 273v6.6M413 276.4h8.2M417.1 273.1v6.6M413.3 276.1h8.2M417.4 272.8v6.6M413.6 276.2h8.2M417.7 272.9v6.6M413.9 276.2h8.2M418 272.9v6.6M414.1 276h8.2M418.2 272.7v6.6M414.4 276.1h8.2M418.5 272.8v6.6M414.7 276.2h8.2M418.8 272.9v6.6M415 275.9h8.2M419.1 272.6v6.6M415.3 276.3h8.2M419.4 273v6.6M415.5 276.2h8.2M419.6 272.9v6.6M415.8 276.3h8.2M419.9 273v6.6M416.1 275.9h8.2M420.2 272.6v6.6M416.4 276.1h8.2M420.5 272.8v6.6M416.7 276.3h8.2M420.8 273v6.6M416.9 276.1h8.2M421 272.8v6.6M417.2 275.8h8.2M421.3 272.5v6.6M417.5 275.9h8.2M421.6 272.6v6.6M417.8 276.1h8.2M421.9 272.8v6.6M418.1 275.8h8.2M422.2 272.5v6.6M418.3 275.8h8.2M422.4 272.5v6.6M418.6 276.1h8.2M422.7 272.8v6.6M418.9 275.6h8.2M423 272.3v6.6M419.2 275.4h8.2M423.3 272.1v6.6M419.5 275.2h8.2M423.6 271.9v6.6M419.7 275.1h8.2M423.8 271.8v6.6M420 275.3h8.2M424.1 272v6.6M420.3 274.8h8.2M424.4 271.5v6.6M420.6 274.3h8.2M424.7 271v6.6M420.9 274h8.2M425 270.7v6.6M421.1 273.7h8.2M425.2 270.4v6.6M421.4 273.3h8.2M425.5 270v6.6M421.7 272.2h8.2M425.8 268.9v6.6M422 271.3h8.2M426.1 268v6.6M422.3 269.7h8.2M426.4 266.4v6.6M422.5 268h8.2M426.6 264.7v6.6M422.8 265.8h8.2M426.9 262.5v6.6M423.1 263.1h8.2M427.2 259.8v6.6M423.4 260.1h8.2M427.5 256.8v6.6M423.7 257.4h8.2M427.8 254.1v6.6M423.9 255.7h8.2M428 252.4v6.6M424.2 255h8.2M428.3 251.7v6.6M424.5 256.4h8.2M428.6 253.1v6.6M424.8 258.9h8.2M428.9 255.6v6.6M425.1 261.8h8.2M429.2 258.5v6.6M425.3 264.4h8.2M429.4 261.1v6.6M425.6 266.9h8.2M429.7 263.6v6.6M425.9 269h8.2M430 265.7v6.6M426.2 270.4h8.2M430.3 267.1v6.6M426.5 271.8h8.2M430.6 268.5v6.6M426.7 272.9h8.2M430.8 269.6v6.6M427 273.5h8.2M431.1 270.2v6.6M427.3 273.8h8.2M431.4 270.5v6.6M427.6 274.4h8.2M431.7 271.1v6.6M427.9 274.4h8.2M432 271.1v6.6M428.1 275.1h8.2M432.2 271.8v6.6M428.4 275.1h8.2M432.5 271.8v6.6M428.7 275.4h8.2M432.8 272.1v6.6M429 275.3h8.2M433.1 272v6.6M429.3 275.6h8.2M433.4 272.3v6.6M429.5 275.8h8.2M433.6 272.5v6.6M429.8 276h8.2M433.9 272.7v6.6M430.1 275.6h8.2M434.2 272.3v6.6M430.4 276.1h8.2M434.5 272.8v6.6M430.7 276h8.2M434.8 272.7v6.6M430.9 275.9h8.2M435 272.6v6.6M431.2 276.2h8.2M435.3 272.9v6.6M431.5 276.1h8.2M435.6 272.8v6.6M431.8 276.1h8.2M435.9 272.8v6.6M432.1 276.1h8.2M436.2 272.8v6.6M432.3 276.3h8.2M436.4 273v6.6M432.6 276.3h8.2M436.7 273v6.6M432.9 276.3h8.2M437 273v6.6M433.2 276.2h8.2M437.3 272.9v6.6M433.5 276.3h8.2M437.6 273v6.6M433.7 276.4h8.2M437.8 273.1v6.6M434 276.6h8.2M438.1 273.3v6.6M434.3 276.4h8.2M438.4 273.1v6.6M434.6 276.7h8.2M438.7 273.4v6.6M434.9 276.4h8.2M439 273.1v6.6M435.1 276.2h8.2M439.2 272.9v6.6M435.4 276.6h8.2M439.5 273.3v6.6M435.7 276.3h8.2M439.8 273v6.6M436 276.5h8.2M440.1 273.2v6.6M436.3 276.7h8.2M440.4 273.4v6.6M436.5 276.4h8.2M440.6 273.1v6.6M436.8 276.5h8.2M440.9 273.2v6.6M437.1 277h8.2M441.2 273.7v6.6M437.4 276.6h8.2M441.5 273.3v6.6M437.7 276.6h8.2M441.8 273.3v6.6M437.9 276.7h8.2M442 273.4v6.6M438.2 276.5h8.2M442.3 273.2v6.6M438.5 276.5h8.2M442.6 273.2v6.6M438.8 276.6h8.2M442.9 273.3v6.6M439.1 276.1h8.2M443.2 272.8v6.6M439.3 276.8h8.2M443.4 273.5v6.6M439.6 276.4h8.2M443.7 273.1v6.6M439.9 276.4h8.2M444 273.1v6.6M440.2 276.7h8.2M444.3 273.4v6.6M440.5 276.6h8.2M444.6 273.3v6.6M440.7 276.3h8.2M444.8 273v6.6M441 276.6h8.2M445.1 273.3v6.6M441.3 276.4h8.2M445.4 273.1v6.6M441.6 276.4h8.2M445.7 273.1v6.6M441.9 276.3h8.2M446 273v6.6M442.1 276.4h8.2M446.2 273.1v6.6M442.4 276.6h8.2M446.5 273.3v6.6M442.7 276.6h8.2M446.8 273.3v6.6M443 276.6h8.2M447.1 273.3v6.6M443.3 276.7h8.2M447.4 273.4v6.6M443.5 276.5h8.2M447.6 273.2v6.6M443.8 276.4h8.2M447.9 273.1v6.6M444.1 276.5h8.2M448.2 273.2v6.6M444.4 276.8h8.2M448.5 273.5v6.6M444.7 276.5h8.2M448.8 273.2v6.6M444.9 276.6h8.2M449 273.3v6.6M445.2 276.5h8.2M449.3 273.2v6.6M445.5 276.5h8.2M449.6 273.2v6.6M445.8 276.5h8.2M449.9 273.2v6.6M446.1 276.4h8.2M450.2 273.1v6.6M446.3 276.4h8.2M450.4 273.1v6.6M446.6 276.2h8.2M450.7 272.9v6.6M446.9 276.2h8.2M451 272.9v6.6M447.2 276.4h8.2M451.3 273.1v6.6M447.5 276.3h8.2M451.6 273v6.6M447.7 276.3h8.2M451.8 273v6.6M448 276h8.2M452.1 272.7v6.6M448.3 275.8h8.2M452.4 272.5v6.6M448.6 275.9h8.2M452.7 272.6v6.6M448.9 275.8h8.2M453 272.5v6.6M449.1 275.4h8.2M453.2 272.1v6.6M449.4 275.8h8.2M453.5 272.5v6.6M449.7 275.8h8.2M453.8 272.5v6.6M450 276.1h8.2M454.1 272.8v6.6M450.3 275.7h8.2M454.4 272.4v6.6M450.5 275.8h8.2M454.6 272.5v6.6M450.8 276.2h8.2M454.9 272.9v6.6M451.1 275.8h8.2M455.2 272.5v6.6M451.4 276h8.2M455.5 272.7v6.6M451.7 275.9h8.2M455.8 272.6v6.6M451.9 276h8.2M456 272.7v6.6M452.2 275.8h8.2M456.3 272.5v6.6M452.5 276.1h8.2M456.6 272.8v6.6M452.8 276.3h8.2M456.9 273v6.6M453.1 276.1h8.2M457.2 272.8v6.6M453.3 276.1h8.2M457.4 272.8v6.6M453.6 275.9h8.2M457.7 272.6v6.6M453.9 276.2h8.2M458 272.9v6.6M454.2 276h8.2M458.3 272.7v6.6M454.5 276h8.2M458.6 272.7v6.6M454.7 275.4h8.2M458.8 272.1v6.6M455 275.7h8.2M459.1 272.4v6.6M455.3 275.3h8.2M459.4 272v6.6M455.6 275.5h8.2M459.7 272.2v6.6M455.9 275.3h8.2M460 272v6.6M456.1 274.9h8.2M460.2 271.6v6.6M456.4 274.9h8.2M460.5 271.6v6.6M456.7 274.9h8.2M460.8 271.6v6.6M457 274.5h8.2M461.1 271.2v6.6M457.3 274.2h8.2M461.4 270.9v6.6M457.5 273.5h8.2M461.6 270.2v6.6M457.8 273h8.2M461.9 269.7v6.6M458.1 272.2h8.2M462.2 268.9v6.6M458.4 271.5h8.2M462.5 268.2v6.6M458.7 270.5h8.2M462.8 267.2v6.6M458.9 268.8h8.2M463 265.5v6.6M459.2 266.7h8.2M463.3 263.4v6.6M459.5 264h8.2M463.6 260.7v6.6M459.8 261.3h8.2M463.9 258v6.6M460.1 257.7h8.2M464.2 254.4v6.6M460.3 253.7h8.2M464.4 250.4v6.6M460.6 250.3h8.2M464.7 247v6.6M460.9 248.1h8.2M465 244.8v6.6M461.2 247.2h8.2M465.3 243.9v6.6M461.5 248.9h8.2M465.6 245.6v6.6M461.7 251.3h8.2M465.8 248v6.6M462 254.7h8.2M466.1 251.4v6.6M462.3 258.4h8.2M466.4 255.1v6.6M462.6 262.2h8.2M466.7 258.9v6.6M462.9 264.6h8.2M467 261.3v6.6M463.1 267.3h8.2M467.2 264v6.6M463.4 269.2h8.2M467.5 265.9v6.6M463.7 270.9h8.2M467.8 267.6v6.6M464 271.8h8.2M468.1 268.5v6.6M464.3 272.6h8.2M468.4 269.3v6.6M464.5 273.4h8.2M468.6 270.1v6.6M464.8 273.8h8.2M468.9 270.5v6.6M465.1 274.4h8.2M469.2 271.1v6.6M465.4 274.5h8.2M469.5 271.2v6.6M465.7 275.2h8.2M469.8 271.9v6.6M465.9 275h8.2M470 271.7v6.6M466.2 275.3h8.2M470.3 272v6.6M466.5 275.3h8.2M470.6 272v6.6M466.8 275.5h8.2M470.9 272.2v6.6M467.1 275.6h8.2M471.2 272.3v6.6M467.3 275.8h8.2M471.4 272.5v6.6M467.6 276h8.2M471.7 272.7v6.6M467.9 275.8h8.2M472 272.5v6.6M468.2 275.8h8.2M472.3 272.5v6.6M468.5 276.3h8.2M472.6 273v6.6M468.7 276.1h8.2M472.8 272.8v6.6M469 276.1h8.2M473.1 272.8v6.6M469.3 276.4h8.2M473.4 273.1v6.6M469.6 276.4h8.2M473.7 273.1v6.6M469.9 275.8h8.2M474 272.5v6.6M470.1 276.3h8.2M474.2 273v6.6M470.4 276.5h8.2M474.5 273.2v6.6M470.7 276.6h8.2M474.8 273.3v6.6M471 276.3h8.2M475.1 273v6.6M471.3 276.7h8.2M475.4 273.4v6.6M471.5 276.3h8.2M475.6 273v6.6M471.8 276.5h8.2M475.9 273.2v6.6M472.1 276.6h8.2M476.2 273.3v6.6M472.4 276.5h8.2M476.5 273.2v6.6M472.7 276.7h8.2M476.8 273.4v6.6M472.9 276.8h8.2M477 273.5v6.6M473.2 276.6h8.2M477.3 273.3v6.6M473.5 276.9h8.2M477.6 273.6v6.6M473.8 276.5h8.2M477.9 273.2v6.6M474.1 276.6h8.2M478.2 273.3v6.6M474.3 277h8.2M478.4 273.7v6.6M474.6 276.7h8.2M478.7 273.4v6.6M474.9 276.9h8.2M479 273.6v6.6M475.2 276.6h8.2M479.3 273.3v6.6M475.5 276.6h8.2M479.6 273.3v6.6M475.7 276.7h8.2M479.8 273.4v6.6M476 276.7h8.2M480.1 273.4v6.6M476.3 276.6h8.2M480.4 273.3v6.6M476.6 276.7h8.2M480.7 273.4v6.6M476.9 276.8h8.2M481 273.5v6.6M477.1 276.9h8.2M481.2 273.6v6.6M477.4 276.7h8.2M481.5 273.4v6.6M477.7 276.8h8.2M481.8 273.5v6.6M478 276.9h8.2M482.1 273.6v6.6M478.3 276.5h8.2M482.4 273.2v6.6M478.5 276.4h8.2M482.6 273.1v6.6M478.8 277h8.2M482.9 273.7v6.6M479.1 277h8.2M483.2 273.7v6.6M479.4 276.7h8.2M483.5 273.4v6.6M479.7 276.8h8.2M483.8 273.5v6.6M479.9 276.5h8.2M484 273.2v6.6M480.2 276.4h8.2M484.3 273.1v6.6M480.5 276.7h8.2M484.6 273.4v6.6M480.8 276.4h8.2M484.9 273.1v6.6M481.1 276.8h8.2M485.2 273.5v6.6M481.3 276.5h8.2M485.4 273.2v6.6M481.6 276.6h8.2M485.7 273.3v6.6M481.9 276.9h8.2M486 273.6v6.6M482.2 276.8h8.2M486.3 273.5v6.6M482.5 276.4h8.2M486.6 273.1v6.6M482.7 276.5h8.2M486.8 273.2v6.6M483 276h8.2M487.1 272.7v6.6M483.3 276h8.2M487.4 272.7v6.6M483.6 276h8.2M487.7 272.7v6.6M483.9 275.9h8.2M488 272.6v6.6M484.1 275.3h8.2M488.2 272v6.6M484.4 275.3h8.2M488.5 272v6.6M484.7 275h8.2M488.8 271.7v6.6M485 274.6h8.2M489.1 271.3v6.6M485.3 274.8h8.2M489.4 271.5v6.6M485.5 275.2h8.2M489.6 271.9v6.6M485.8 275.1h8.2M489.9 271.8v6.6M486.1 275.5h8.2M490.2 272.2v6.6M486.4 275.8h8.2M490.5 272.5v6.6M486.7 275.7h8.2M490.8 272.4v6.6M486.9 276.3h8.2M491 273v6.6M487.2 276.5h8.2M491.3 273.2v6.6M487.5 276.6h8.2M491.6 273.3v6.6M487.8 276.6h8.2M491.9 273.3v6.6M488.1 276.4h8.2M492.2 273.1v6.6M488.3 276.4h8.2M492.4 273.1v6.6M488.6 276.4h8.2M492.7 273.1v6.6M488.9 276.4h8.2M493 273.1v6.6M489.2 276.5h8.2M493.3 273.2v6.6M489.5 276.8h8.2M493.6 273.5v6.6M489.7 276.9h8.2M493.8 273.6v6.6M490 276.6h8.2M494.1 273.3v6.6M490.3 276.8h8.2M494.4 273.5v6.6M490.6 276.5h8.2M494.7 273.2v6.6M490.9 276.6h8.2M495 273.3v6.6M491.1 276.5h8.2M495.2 273.2v6.6M491.4 276.4h8.2M495.5 273.1v6.6M491.7 276.7h8.2M495.8 273.4v6.6M492 276.7h8.2M496.1 273.4v6.6M492.3 276.6h8.2M496.4 273.3v6.6M492.5 276.6h8.2M496.6 273.3v6.6M492.8 276.5h8.2M496.9 273.2v6.6M493.1 276.6h8.2M497.2 273.3v6.6M493.4 276.5h8.2M497.5 273.2v6.6M493.7 276.7h8.2M497.8 273.4v6.6M493.9 276.4h8.2M498 273.1v6.6M494.2 276.6h8.2M498.3 273.3v6.6M494.5 276.7h8.2M498.6 273.4v6.6M494.8 276.8h8.2M498.9 273.5v6.6M495.1 276.7h8.2M499.2 273.4v6.6M495.3 276.6h8.2M499.4 273.3v6.6M495.6 276.4h8.2M499.7 273.1v6.6M495.9 276.1h8.2M500 272.8v6.6M496.2 276.5h8.2M500.3 273.2v6.6M496.5 276.7h8.2M500.6 273.4v6.6M496.7 276.7h8.2M500.8 273.4v6.6M497 275.9h8.2M501.1 272.6v6.6M497.3 276.2h8.2M501.4 272.9v6.6M497.6 276.2h8.2M501.7 272.9v6.6M497.9 276h8.2M502 272.7v6.6M498.1 276.2h8.2M502.2 272.9v6.6M498.4 276.1h8.2M502.5 272.8v6.6M498.7 276h8.2M502.8 272.7v6.6M499 276h8.2M503.1 272.7v6.6M499.3 275.6h8.2M503.4 272.3v6.6M499.5 275.7h8.2M503.6 272.4v6.6M499.8 275.6h8.2M503.9 272.3v6.6M500.1 275.8h8.2M504.2 272.5v6.6M500.4 275.3h8.2M504.5 272v6.6M500.7 275.4h8.2M504.8 272.1v6.6M500.9 275.4h8.2M505 272.1v6.6M501.2 275.1h8.2M505.3 271.8v6.6M501.5 275.1h8.2M505.6 271.8v6.6M501.8 274.7h8.2M505.9 271.4v6.6M502.1 274.6h8.2M506.2 271.3v6.6M502.3 274.5h8.2M506.4 271.2v6.6M502.6 274.4h8.2M506.7 271.1v6.6M502.9 273.8h8.2M507 270.5v6.6M503.2 273.5h8.2M507.3 270.2v6.6M503.5 272.7h8.2M507.6 269.4v6.6M503.7 272.1h8.2M507.8 268.8v6.6M504 271.6h8.2M508.1 268.3v6.6M504.3 270.4h8.2M508.4 267.1v6.6M504.6 269.3h8.2M508.7 266v6.6M504.9 267.6h8.2M509 264.3v6.6M505.1 265.7h8.2M509.2 262.4v6.6M505.4 263.1h8.2M509.5 259.8v6.6M505.7 259.2h8.2M509.8 255.9v6.6M506 255.6h8.2M510.1 252.3v6.6M506.3 250.6h8.2M510.4 247.3v6.6M506.5 245.3h8.2M510.6 242v6.6M506.8 239.6h8.2M510.9 236.3v6.6M507.1 234.6h8.2M511.2 231.3v6.6M507.4 230.6h8.2M511.5 227.3v6.6M507.7 229.4h8.2M511.8 226.1v6.6M507.9 230.8h8.2M512 227.5v6.6M508.2 234.8h8.2M512.3 231.5v6.6M508.5 240.1h8.2M512.6 236.8v6.6M508.8 245.6h8.2M512.9 242.3v6.6M509.1 250.8h8.2M513.2 247.5v6.6M509.3 255.3h8.2M513.4 252v6.6M509.6 259.1h8.2M513.7 255.8v6.6M509.9 262.7h8.2M514 259.4v6.6M510.2 265.3h8.2M514.3 262v6.6M510.5 267.3h8.2M514.6 264v6.6M510.7 269.1h8.2M514.8 265.8v6.6M511 270h8.2M515.1 266.7v6.6M511.3 271h8.2M515.4 267.7v6.6M511.6 271.3h8.2M515.7 268v6.6M511.9 272.4h8.2M516 269.1v6.6M512.1 272.7h8.2M516.2 269.4v6.6M512.4 272.9h8.2M516.5 269.6v6.6M512.7 273.4h8.2M516.8 270.1v6.6M513 273.3h8.2M517.1 270v6.6M513.3 273.6h8.2M517.4 270.3v6.6M513.5 274.1h8.2M517.6 270.8v6.6M513.8 274h8.2M517.9 270.7v6.6M514.1 274h8.2M518.2 270.7v6.6M514.4 274h8.2M518.5 270.7v6.6M514.7 273.9h8.2M518.8 270.6v6.6M514.9 273.7h8.2M519 270.4v6.6M515.2 273.8h8.2M519.3 270.5v6.6M515.5 273.1h8.2M519.6 269.8v6.6M515.8 272.9h8.2M519.9 269.6v6.6M516.1 272.1h8.2M520.2 268.8v6.6M516.3 271.4h8.2M520.4 268.1v6.6M516.6 270.1h8.2M520.7 266.8v6.6M516.9 268.9h8.2M521 265.6v6.6M517.2 268.1h8.2M521.3 264.8v6.6M517.5 266.3h8.2M521.6 263v6.6M517.7 263.8h8.2M521.8 260.5v6.6M518 261.6h8.2M522.1 258.3v6.6M518.3 259.3h8.2M522.4 256v6.6M518.6 256.7h8.2M522.7 253.4v6.6M518.9 255.5h8.2M523 252.2v6.6M519.1 254.2h8.2M523.2 250.9v6.6M519.4 254.6h8.2M523.5 251.3v6.6M519.7 255.7h8.2M523.8 252.4v6.6M520 258.6h8.2M524.1 255.3v6.6M520.3 260.8h8.2M524.4 257.5v6.6M520.5 263.6h8.2M524.6 260.3v6.6M520.8 265.4h8.2M524.9 262.1v6.6M521.1 267.6h8.2M525.2 264.3v6.6M521.4 269.3h8.2M525.5 266v6.6M521.7 270.7h8.2M525.8 267.4v6.6M521.9 272.2h8.2M526 268.9v6.6M522.2 273.1h8.2M526.3 269.8v6.6M522.5 273.7h8.2M526.6 270.4v6.6M522.8 273.9h8.2M526.9 270.6v6.6M523.1 274.6h8.2M527.2 271.3v6.6M523.3 275.1h8.2M527.4 271.8v6.6M523.6 275.2h8.2M527.7 271.9v6.6M523.9 275.5h8.2M528 272.2v6.6M524.2 275.7h8.2M528.3 272.4v6.6M524.5 275.6h8.2M528.6 272.3v6.6M524.7 275.9h8.2M528.8 272.6v6.6M525 276.3h8.2M529.1 273v6.6M525.3 276h8.2M529.4 272.7v6.6M525.6 276.3h8.2M529.7 273v6.6M525.9 276.5h8.2M530 273.2v6.6M526.1 276.2h8.2M530.2 272.9v6.6M526.4 276.5h8.2M530.5 273.2v6.6M526.7 276.3h8.2M530.8 273v6.6M527 276.5h8.2M531.1 273.2v6.6M527.3 276.4h8.2M531.4 273.1v6.6M527.5 276.6h8.2M531.6 273.3v6.6M527.8 276.7h8.2M531.9 273.4v6.6M528.1 276.8h8.2M532.2 273.5v6.6M528.4 276.9h8.2M532.5 273.6v6.6M528.7 276.5h8.2M532.8 273.2v6.6M528.9 277.2h8.2M533 273.9v6.6M529.2 276.9h8.2M533.3 273.6v6.6M529.5 276.8h8.2M533.6 273.5v6.6M529.8 276.9h8.2M533.9 273.6v6.6M530.1 277.1h8.2M534.2 273.8v6.6M530.3 276.9h8.2M534.4 273.6v6.6M530.6 277.1h8.2M534.7 273.8v6.6M530.9 277.1h8.2M535 273.8v6.6M531.2 277.3h8.2M535.3 274v6.6M531.5 277.1h8.2M535.6 273.8v6.6M531.7 277.3h8.2M535.8 274v6.6M532 277.3h8.2M536.1 274v6.6M532.3 277.2h8.2M536.4 273.9v6.6M532.6 277.5h8.2M536.7 274.2v6.6M532.9 277.3h8.2M537 274v6.6M533.1 277.1h8.2M537.2 273.8v6.6M533.4 277.4h8.2M537.5 274.1v6.6M533.7 277.4h8.2M537.8 274.1v6.6M534 277.4h8.2M538.1 274.1v6.6M534.3 277.4h8.2M538.4 274.1v6.6M534.5 277.8h8.2M538.6 274.5v6.6M534.8 277.4h8.2M538.9 274.1v6.6M535.1 277.5h8.2M539.2 274.2v6.6M535.4 277.4h8.2M539.5 274.1v6.6M535.7 277.7h8.2M539.8 274.4v6.6M535.9 277.4h8.2M540 274.1v6.6M536.2 277.3h8.2M540.3 274v6.6M536.5 277.3h8.2M540.6 274v6.6M536.8 277.6h8.2M540.9 274.3v6.6M537.1 277.6h8.2M541.2 274.3v6.6M537.3 277.2h8.2M541.4 273.9v6.6M537.6 277.4h8.2M541.7 274.1v6.6M537.9 277.6h8.2M542 274.3v6.6M538.2 277.7h8.2M542.3 274.4v6.6M538.5 277.3h8.2M542.6 274v6.6M538.7 277.5h8.2M542.8 274.2v6.6M539 277.7h8.2M543.1 274.4v6.6M539.3 277.5h8.2M543.4 274.2v6.6M539.6 277.5h8.2M543.7 274.2v6.6M539.9 277.5h8.2M544 274.2v6.6M540.1 277.4h8.2M544.2 274.1v6.6M540.4 277.6h8.2M544.5 274.3v6.6M540.7 277.7h8.2M544.8 274.4v6.6M541 277.4h8.2M545.1 274.1v6.6M541.3 277.6h8.2M545.4 274.3v6.6M541.5 277.8h8.2M545.6 274.5v6.6M541.8 277.7h8.2M545.9 274.4v6.6M542.1 277.8h8.2M546.2 274.5v6.6M542.4 277.6h8.2M546.5 274.3v6.6M542.7 277.9h8.2M546.8 274.6v6.6M542.9 277.5h8.2M547 274.2v6.6M543.2 278h8.2M547.3 274.7v6.6M543.5 277.6h8.2M547.6 274.3v6.6M543.8 277.6h8.2M547.9 274.3v6.6M544.1 277.5h8.2M548.2 274.2v6.6M544.3 277.6h8.2M548.4 274.3v6.6M544.6 277.6h8.2M548.7 274.3v6.6M544.9 277.6h8.2M549 274.3v6.6M545.2 277.7h8.2M549.3 274.4v6.6M545.5 277.8h8.2M549.6 274.5v6.6M545.7 277.9h8.2M549.8 274.6v6.6M546 277.7h8.2M550.1 274.4v6.6M546.3 278h8.2M550.4 274.7v6.6M546.6 277.6h8.2M550.7 274.3v6.6M546.9 277.6h8.2M551 274.3v6.6M547.1 277.6h8.2M551.2 274.3v6.6M547.4 277.9h8.2M551.5 274.6v6.6M547.7 277.5h8.2M551.8 274.2v6.6M548 277.5h8.2M552.1 274.2v6.6M548.3 278h8.2M552.4 274.7v6.6M548.5 278.1h8.2M552.6 274.8v6.6M548.8 278h8.2M552.9 274.7v6.6M549.1 277.5h8.2M553.2 274.2v6.6M549.4 277.8h8.2M553.5 274.5v6.6M549.7 277.9h8.2M553.8 274.6v6.6M549.9 277.8h8.2M554 274.5v6.6M550.2 277.5h8.2M554.3 274.2v6.6M550.5 277.7h8.2M554.6 274.4v6.6M550.8 277.5h8.2M554.9 274.2v6.6M551.1 277.6h8.2M555.2 274.3v6.6M551.3 278.2h8.2M555.4 274.9v6.6M551.6 277.9h8.2M555.7 274.6v6.6M551.9 277.6h8.2M556 274.3v6.6M552.2 277.6h8.2M556.3 274.3v6.6M552.5 277.9h8.2M556.6 274.6v6.6M552.7 277.7h8.2M556.8 274.4v6.6M553 277.9h8.2M557.1 274.6v6.6M553.3 277.7h8.2M557.4 274.4v6.6M553.6 277.8h8.2M557.7 274.5v6.6M553.9 277.9h8.2M558 274.6v6.6M554.1 277.6h8.2M558.2 274.3v6.6M554.4 277.5h8.2M558.5 274.2v6.6M554.7 277.6h8.2M558.8 274.3v6.6M555 277.7h8.2M559.1 274.4v6.6M555.3 277.8h8.2M559.4 274.5v6.6M555.5 277.8h8.2M559.6 274.5v6.6M555.8 277.8h8.2M559.9 274.5v6.6M556.1 277.9h8.2M560.2 274.6v6.6M556.4 277.6h8.2M560.5 274.3v6.6M556.7 278h8.2M560.8 274.7v6.6M556.9 278.1h8.2M561 274.8v6.6M557.2 277.8h8.2M561.3 274.5v6.6M557.5 277.8h8.2M561.6 274.5v6.6M557.8 277.9h8.2M561.9 274.6v6.6M558.1 277.8h8.2M562.2 274.5v6.6M558.3 277.7h8.2M562.4 274.4v6.6M558.6 277.6h8.2M562.7 274.3v6.6M558.9 277.4h8.2M563 274.1v6.6M559.2 277.3h8.2M563.3 274v6.6M559.5 277.5h8.2M563.6 274.2v6.6M559.7 277.5h8.2M563.8 274.2v6.6M560 277h8.2M564.1 273.7v6.6M560.3 277h8.2M564.4 273.7v6.6M560.6 276.8h8.2M564.7 273.5v6.6M560.9 276.5h8.2M565 273.2v6.6M561.1 276.1h8.2M565.2 272.8v6.6M561.4 275.8h8.2M565.5 272.5v6.6M561.7 275.1h8.2M565.8 271.8v6.6M562 275.1h8.2M566.1 271.8v6.6M562.3 274.7h8.2M566.4 271.4v6.6M562.5 274.8h8.2M566.6 271.5v6.6M562.8 274.5h8.2M566.9 271.2v6.6M563.1 274.3h8.2M567.2 271v6.6M563.4 274.5h8.2M567.5 271.2v6.6M563.7 275.2h8.2M567.8 271.9v6.6M563.9 275.6h8.2M568 272.3v6.6M564.2 275.7h8.2M568.3 272.4v6.6M564.5 276.1h8.2M568.6 272.8v6.6M564.8 276.2h8.2M568.9 272.9v6.6M565.1 276.6h8.2M569.2 273.3v6.6M565.3 276.9h8.2M569.4 273.6v6.6M565.6 277h8.2M569.7 273.7v6.6M565.9 277.6h8.2M570 274.3v6.6M566.2 277.1h8.2M570.3 273.8v6.6M566.5 277.5h8.2M570.6 274.2v6.6M566.7 277.7h8.2M570.8 274.4v6.6M567 277.8h8.2M571.1 274.5v6.6M567.3 278h8.2M571.4 274.7v6.6M567.6 277.5h8.2M571.7 274.2v6.6M567.9 277.7h8.2M572 274.4v6.6M568.1 277.8h8.2M572.2 274.5v6.6M568.4 277.9h8.2M572.5 274.6v6.6M568.7 277.8h8.2M572.8 274.5v6.6M569 277.7h8.2M573.1 274.4v6.6M569.3 278h8.2M573.4 274.7v6.6M569.5 277.6h8.2M573.6 274.3v6.6M569.8 277.7h8.2M573.9 274.4v6.6M570.1 278h8.2M574.2 274.7v6.6M570.4 278h8.2M574.5 274.7v6.6M570.7 277.8h8.2M574.8 274.5v6.6M570.9 277.4h8.2M575 274.1v6.6M571.2 277.3h8.2M575.3 274v6.6M571.5 277.2h8.2M575.6 273.9v6.6M571.8 277h8.2M575.9 273.7v6.6M572.1 277h8.2M576.2 273.7v6.6M572.3 277.1h8.2M576.4 273.8v6.6M572.6 276.8h8.2M576.7 273.5v6.6M572.9 276.4h8.2M577 273.1v6.6M573.2 276.3h8.2M577.3 273v6.6M573.5 276.2h8.2M577.6 272.9v6.6M573.7 276.7h8.2M577.8 273.4v6.6M574 276.3h8.2M578.1 273v6.6M574.3 276.9h8.2M578.4 273.6v6.6M574.6 276.8h8.2M578.7 273.5v6.6M574.9 277h8.2M579 273.7v6.6M575.1 277.1h8.2M579.2 273.8v6.6M575.4 277.7h8.2M579.5 274.4v6.6M575.7 277.7h8.2M579.8 274.4v6.6M576 278.3h8.2M580.1 275v6.6M576.3 277.7h8.2M580.4 274.4v6.6M576.5 277.8h8.2M580.6 274.5v6.6M576.8 278.1h8.2M580.9 274.8v6.6M577.1 278.2h8.2M581.2 274.9v6.6M577.4 278.1h8.2M581.5 274.8v6.6M577.7 277.8h8.2M581.8 274.5v6.6M577.9 278.5h8.2M582 275.2v6.6M578.2 278.3h8.2M582.3 275v6.6M578.5 278.3h8.2M582.6 275v6.6M578.8 278.2h8.2M582.9 274.9v6.6M579.1 278.4h8.2M583.2 275.1v6.6M579.3 278.2h8.2M583.4 274.9v6.6M579.6 278.3h8.2M583.7 275v6.6M579.9 278.3h8.2M584 275v6.6M580.2 278.6h8.2M584.3 275.3v6.6M580.5 278.3h8.2M584.6 275v6.6M580.7 278.3h8.2M584.8 275v6.6M581 278.6h8.2M585.1 275.3v6.6M581.3 278.4h8.2M585.4 275.1v6.6M581.6 278.4h8.2M585.7 275.1v6.6M581.9 278.4h8.2M586 275.1v6.6M582.1 278.6h8.2M586.2 275.3v6.6M582.4 278.3h8.2M586.5 275v6.6M582.7 278.5h8.2M586.8 275.2v6.6M583 278.8h8.2M587.1 275.5v6.6M583.3 278.5h8.2M587.4 275.2v6.6M583.5 278.3h8.2M587.6 275v6.6M583.8 278.3h8.2M587.9 275v6.6M584.1 278.5h8.2M588.2 275.2v6.6M584.4 278.3h8.2M588.5 275v6.6M584.7 278.2h8.2M588.8 274.9v6.6M584.9 278.4h8.2M589 275.1v6.6M585.2 278.3h8.2M589.3 275v6.6M585.5 278.7h8.2M589.6 275.4v6.6M585.8 278.3h8.2M589.9 275v6.6M224.1 38h8.2M228.2 34.7v6.6M224.1 53.2h8.2M228.2 49.9v6.6M224.2 60.8h8.2M228.3 57.5v6.6M224.9 88.6h8.2M229 85.3v6.6M223.5 110.8h8.2M227.6 107.5v6.6M224.9 133.2h8.2M229 129.9v6.6M223.2 162h8.2M227.3 158.7v6.6M225 178h8.2M229.1 174.7v6.6M223 200h8.2M227.1 196.7v6.6M225.3 211h8.2M229.4 207.7v6.6M222.9 225.8h8.2M227 222.5v6.6M225.4 231h8.2M229.5 227.7v6.6M222.9 240h8.2M227 236.7v6.6" fill="none" stroke="#ff0000" stroke-width="1" clip-path="url(#pc)"/>
<path d="M52 337.4 L52.5 337.1 L53 336.1 L53.5 335.5 L54 335.9 L54.5 335.9 L55 336.5 L55.5 337.2 L56 337 L56.5 336.4 L57 336.2 L57.5 336.5 L58 336.5 L58.5 336.3 L59 336.5 L59.5 336.6 L60 336.8 L60.5 337.1 L61 337.6 L61.5 337.7 L62 337.2 L62.5 337.1 L63 337.6 L63.5 338.1 L64 337.9 L64.5 337.4 L65 337.6 L65.5 337.4 L66 336.7 L66.5 336.6 L67 337 L67.5 337.2 L68 336.9 L68.5 336.4 L69 336.3 L69.5 336.7 L70 337.6 L70.5 337.5 L71 336.4 L71.5 337.2 L72 338.7 L72.5 338.1 L73 337 L73.5 336.3 L74 335.9 L74.5 336.8 L75 336.8 L75.5 336.3 L76 336.7 L76.5 336.4 L77 336.1 L77.5 336.8 L78 336.9 L78.5 336.6 L79 336.3 L79.5 335.7 L80 336 L80.5 337.2 L81 337.8 L81.5 337.5 L82 337.1 L82.5 336.8 L83 336.6 L83.5 337 L84 337.5 L84.5 337.3 L85 337.2 L85.5 336.9 L86 337 L86.5 337.7 L87 337.3 L87.5 336.8 L88 336.9 L88.5 336.9 L89 336.8 L89.5 337 L90 337.3 L90.5 337.1 L91 336.9 L91.5 337.5 L92 337.3 L92.5 336.9 L93 337.3 L93.5 338 L94 338 L94.5 337.4 L95 337.4 L95.5 337.5 L96 337.4 L96.5 337.1 L97 337.1 L97.5 337 L98 336.1 L98.5 335.7 L99 336.4 L99.5 336.8 L100 337.1 L100.5 337.3 L101 337.3 L101.5 337.5 L102 337.3 L102.5 337.2 L103 337.6 L103.5 337.5 L104 337.1 L104.5 336.8 L105 336.5 L105.5 336.5 L106 337.1 L106.5 337.3 L107 337.2 L107.5 337.8 L108 338.7 L108.5 338.6 L109 337.9 L109.5 337.8 L110 337.9 L110.5 337.9 L111 337.9 L111.5 337.8 L112 337.7 L112.5 337.4 L113 337.1 L113.5 337.3 L114 337.7 L114.5 337.9 L115 337.8 L115.5 337.9 L116 337.7 L116.5 336.9 L117 336.8 L117.5 337.2 L118 336.9 L118.5 336.7 L119 337.2 L119.5 336.9 L120 336.9 L120.5 337.3 L121 336.7 L121.5 336.4 L122 336.5 L122.5 336.8 L123 336.9 L123.5 336.5 L124 336.5 L124.5 336.4 L125 336.5 L125.5 337.1 L126 337 L126.5 336.5 L127 336.3 L127.5 336.5 L128 336.6 L128.5 336.9 L129 336.7 L129.5 335.4 L130 335.1 L130.5 335.8 L131 335.9 L131.5 336.3 L132 336.8 L132.5 337.2 L133 337.7 L133.5 338 L134 338.2 L134.5 338.1 L135 338 L135.5 338 L136 337.6 L136.5 336.8 L137 336.2 L137.5 336.5 L138 336.7 L138.5 336.3 L139 336.7 L139.5 337.2 L140 337.6 L140.5 337.5 L141 337 L141.5 336.6 L142 336.3 L142.5 337 L143 337.2 L143.5 336.7 L144 337.2 L144.5 337.5 L145 337 L145.5 336.7 L146 337.3 L146.5 337.6 L147 337.1 L147.5 336.9 L148 337.6 L148.5 338 L149 337.8 L149.5 337.5 L150 337 L150.5 337.1 L151 337.3 L151.5 337.9 L152 338.5 L152.5 337.8 L153 337 L153.5 337 L154 336.7 L154.5 337.1 L155 337.3 L155.5 336.9 L156 336.5 L156.5 336.5 L157 336.7 L157.5 337.2 L158 337.9 L158.5 337.7 L159 336.8 L159.5 336.8 L160 338.1 L160.5 338.4 L161 337.7 L161.5 337.4 L162 337.1 L162.5 337.4 L163 338 L163.5 337.3 L164 336.3 L164.5 335.8 L165 335.9 L165.5 337 L166 338.1 L166.5 338.7 L167 338.4 L167.5 337.3 L168 337.3 L168.5 337.8 L169 337.5 L169.5 337.1 L170 337.4 L170.5 337.7 L171 337.7 L171.5 337.2 L172 336.7 L172.5 336.5 L173 336.4 L173.5 336.3 L174 336.6 L174.5 337.1 L175 337.5 L175.5 337.8 L176 337.8 L176.5 337.1 L177 336.5 L177.5 337.1 L178 337.2 L178.5 336.2 L179 335.8 L179.5 335.9 L180 336.1 L180.5 336.3 L181 336.5 L181.5 336.6 L182 336.5 L182.5 336.5 L183 336.5 L183.5 336.7 L184 337.4 L184.5 337.5 L185 337.4 L185.5 337.3 L186 337.6 L186.5 337.7 L187 336.9 L187.5 336.6 L188 337.5 L188.5 337.9 L189 337.7 L189.5 337.6 L190 337.6 L190.5 337.3 L191 336.9 L191.5 337.2 L192 337.4 L192.5 336.9 L193 337.2 L193.5 338.2 L194 338 L194.5 337.2 L195 336.3 L195.5 335.5 L196 335.8 L196.5 337.1 L197 337.3 L197.5 336.3 L198 336.8 L198.5 338.1 L199 338 L199.5 337.7 L200 337.7 L200.5 337.2 L201 337.1 L201.5 337.5 L202 337.3 L202.5 337 L203 337 L203.5 336.3 L204 336.9 L204.5 338.1 L205 337.6 L205.5 336.9 L206 336.5 L206.5 336.3 L207 336.4 L207.5 336.7 L208 337.6 L208.5 338.2 L209 338.2 L209.5 337.8 L210 337.5 L210.5 337.7 L211 338 L211.5 337.7 L212 337.1 L212.5 337.2 L213 337.8 L213.5 337.7 L214 337.1 L214.5 336.7 L215 337 L215.5 337.5 L216 337.4 L216.5 336.9 L217 336.8 L217.5 336.9 L218 336.8 L218.5 337.2 L219 337.2 L219.5 336.3 L220 335.3 L220.5 335.3 L221 335.9 L221.5 336.1 L222 336.3 L222.5 336.8 L223 336.9 L223.5 336.2 L224 336.1 L224.5 336.9 L225 337.1 L225.5 336.8 L226 336.6 L226.5 336.8 L227 337 L227.5 333.6 L228 325.7 L228.5 331.1 L229 340 L229.5 340.3 L230 337.5 L230.5 337.2 L231 336.9 L231.5 336.2 L232 336.2 L232.5 336.6 L233 336.5 L233.5 336.8 L234 337.5 L234.5 337.9 L235 337.9 L235.5 336.9 L236 336.5 L236.5 336.4 L237 336.5 L237.5 337.1 L238 337.3 L238.5 337 L239 336.8 L239.5 336.9 L240 337 L240.5 336.9 L241 337 L241.5 337.4 L242 336.6 L242.5 336.1 L243 336.9 L243.5 337.1 L244 337.4 L244.5 338.2 L245 337.5 L245.5 336.4 L246 336.7 L246.5 338 L247 340.8 L247.5 343.8 L248 342.4 L248.5 338.6 L249 337.3 L249.5 337.2 L250 336.8 L250.5 336.8 L251 337.3 L251.5 337 L252 336.1 L252.5 336.1 L253 336.4 L253.5 336.5 L254 336.7 L254.5 337 L255 336.4 L255.5 336 L256 336 L256.5 335.5 L257 335.9 L257.5 336.5 L258 336.1 L258.5 336.3 L259 337.2 L259.5 337.3 L260 337 L260.5 336.8 L261 336.7 L261.5 336.8 L262 337.5 L262.5 338.2 L263 337.7 L263.5 336.9 L264 336.8 L264.5 336.6 L265 336.1 L265.5 336.6 L266 337.2 L266.5 336.5 L267 336.6 L267.5 337.7 L268 337.7 L268.5 337.2 L269 337.3 L269.5 337.5 L270 337.8 L270.5 337.5 L271 337.1 L271.5 337.3 L272 337.2 L272.5 337.2 L273 337.6 L273.5 337.5 L274 337.2 L274.5 336.4 L275 335.5 L275.5 335.8 L276 336.7 L276.5 337.6 L277 337.9 L277.5 337.2 L278 336.4 L278.5 336.1 L279 336.6 L279.5 336.4 L280 336.2 L280.5 337.2 L281 338.3 L281.5 338.1 L282 337 L282.5 336.6 L283 336 L283.5 334.9 L284 335.4 L284.5 337.4 L285 338.4 L285.5 338.3 L286 337.9 L286.5 337 L287 336.5 L287.5 337.2 L288 337.7 L288.5 338 L289 337.9 L289.5 337.5 L290 337.3 L290.5 337.1 L291 337.3 L291.5 337.7 L292 337.5 L292.5 337.1 L293 336.5 L293.5 336.7 L294 336.9 L294.5 336.5 L295 337.1 L295.5 338.3 L296 337.7 L296.5 336.6 L297 336.8 L297.5 336.8 L298 335.9 L298.5 336.3 L299 337.1 L299.5 336.9 L300 336.7 L300.5 336.5 L301 336.6 L301.5 336.8 L302 336.8 L302.5 336.8 L303 337 L303.5 337.2 L304 336.7 L304.5 336.2 L305 336.3 L305.5 336 L306 335.3 L306.5 335 L307 335.6 L307.5 336.3 L308 336.3 L308.5 337 L309 338.2 L309.5 337.9 L310 336.7 L310.5 336.7 L311 337 L311.5 337 L312 337.3 L312.5 337.7 L313 337.4 L313.5 337 L314 336.6 L314.5 336.1 L315 336.6 L315.5 337.5 L316 337 L316.5 336.3 L317 336.9 L317.5 337.3 L318 336.8 L318.5 336.4 L319 336.4 L319.5 336.8 L320 337.3 L320.5 337.6 L321 337.7 L321.5 337.1 L322 336.4 L322.5 337.1 L323 337.6 L323.5 336.9 L324 336.5 L324.5 336.2 L325 336.2 L325.5 336.9 L326 337.4 L326.5 337.5 L327 337.4 L327.5 336.9 L328 336.4 L328.5 336.8 L329 337.1 L329.5 336.8 L330 336.5 L330.5 336.6 L331 337 L331.5 336.4 L332 335.9 L332.5 336.3 L333 336.6 L333.5 337.1 L334 337.6 L334.5 337.3 L335 337.5 L335.5 337.8 L336 337 L336.5 337.2 L337 338.1 L337.5 338.7 L338 338.4 L338.5 337.5 L339 337.3 L339.5 337.2 L340 336.8 L340.5 336.4 L341 336.4 L341.5 337.2 L342 337.4 L342.5 337 L343 337.2 L343.5 336.9 L344 335.9 L344.5 335.9 L345 337.2 L345.5 337.7 L346 337 L346.5 336.5 L347 336.4 L347.5 336.9 L348 337.2 L348.5 337.2 L349 336.8 L349.5 335.9 L350 335.8 L350.5 336.2 L351 336.1 L351.5 336.7 L352 336.9 L352.5 336.5 L353 336.7 L353.5 337 L354 336.8 L354.5 336.5 L355 336.6 L355.5 337.3 L356 337.8 L356.5 337.6 L357 336.7 L357.5 336.2 L358 336.3 L358.5 336.4 L359 336.5 L359.5 337 L360 337.4 L360.5 337.3 L361 337 L361.5 337.1 L362 337.2 L362.5 336.7 L363 337 L363.5 337.5 L364 337.3 L364.5 337.5 L365 338 L365.5 338.4 L366 337.6 L366.5 336.4 L367 336.6 L367.5 337.3 L368 337.6 L368.5 337.9 L369 338.3 L369.5 337.7 L370 336.5 L370.5 335.9 L371 336.2 L371.5 337.3 L372 337.3 L372.5 336.5 L373 336 L373.5 336.4 L374 336.9 L374.5 336.7 L375 336.4 L375.5 336.9 L376 337.5 L376.5 336.7 L377 335.8 L377.5 336.1 L378 336.5 L378.5 336.6 L379 336.3 L379.5 336.1 L380 336.5 L380.5 336.6 L381 336.7 L381.5 337.8 L382 337.7 L382.5 336.2 L383 336.4 L383.5 337.6 L384 338.2 L384.5 337.6 L385 336.1 L385.5 335.8 L386 336.5 L386.5 336.8 L387 336.7 L387.5 337.1 L388 337.5 L388.5 337.2 L389 336.7 L389.5 336.9 L390 337.1 L390.5 337.3 L391 337.6 L391.5 337.7 L392 337.7 L392.5 337.6 L393 338.3 L393.5 338.2 L394 337.2 L394.5 337.2 L395 337.1 L395.5 336.9 L396 337.4 L396.5 337.3 L397 336.8 L397.5 337.1 L398 337.4 L398.5 336.9 L399 336.9 L399.5 337.1 L400 336.4 L400.5 335.9 L401 335.4 L401.5 333.3 L402 331 L402.5 330.6 L403 331.5 L403.5 333 L404 334.8 L404.5 336 L405 336.4 L405.5 336.9 L406 337.5 L406.5 337 L407 336.5 L407.5 337.1 L408 337.1 L408.5 336.5 L409 335.9 L409.5 335.7 L410 336.2 L410.5 337.2 L411 337.5 L411.5 336.9 L412 336.8 L412.5 336.7 L413 336.3 L413.5 336.1 L414 336.6 L414.5 337.1 L415 336.8 L415.5 336.4 L416 337 L416.5 337.7 L417 337.7 L417.5 337.2 L418 337.6 L418.5 338.1 L419 337.3 L419.5 336.9 L420 337.1 L420.5 337 L421 336.8 L421.5 336.6 L422 336.8 L422.5 337.2 L423 336.8 L423.5 336.4 L424 336.6 L424.5 337 L425 337.4 L425.5 338 L426 337.8 L426.5 336.8 L427 336 L427.5 335.6 L428 335.7 L428.5 336 L429 336 L429.5 335.9 L430 335.8 L430.5 336.1 L431 337.3 L431.5 337.8 L432 337.2 L432.5 337.4 L433 337 L433.5 336.4 L434 337.1 L434.5 337.6 L435 337.3 L435.5 337.4 L436 337.7 L436.5 337.5 L437 337.5 L437.5 337.3 L438 336.4 L438.5 335.5 L439 335.7 L439.5 336.6 L440 336.8 L440.5 336.2 L441 336.8 L441.5 337.3 L442 336.8 L442.5 337.1 L443 337.7 L443.5 337.3 L444 336.7 L444.5 336.6 L445 336.9 L445.5 337.2 L446 337.1 L446.5 336.9 L447 336.8 L447.5 336.5 L448 336.3 L448.5 336.9 L449 337.3 L449.5 337.5 L450 337.8 L450.5 337.6 L451 337.4 L451.5 337.7 L452 337.6 L452.5 336.8 L453 336.3 L453.5 336.6 L454 337 L454.5 337.1 L455 337.2 L455.5 336.8 L456 336.4 L456.5 336.5 L457 336.2 L457.5 335.9 L458 336.6 L458.5 336.6 L459 336.3 L459.5 336.6 L460 336.2 L460.5 335.8 L461 336.5 L461.5 337.6 L462 337.9 L462.5 337.5 L463 336.7 L463.5 336.8 L464 337.6 L464.5 337.3 L465 335.7 L465.5 334.5 L466 335.4 L466.5 336.7 L467 336.7 L467.5 337.1 L468 338.4 L468.5 339 L469 338 L469.5 337.2 L470 337.4 L470.5 337.8 L471 338.1 L471.5 337.6 L472 336.4 L472.5 336 L473 336.6 L473.5 337.2 L474 337.3 L474.5 336.9 L475 336.7 L475.5 336.6 L476 336.9 L476.5 337.7 L477 337.5 L477.5 337.2 L478 337.2 L478.5 336.7 L479 336.5 L479.5 337.1 L480 337.9 L480.5 337.8 L481 337.7 L481.5 337.7 L482 337.1 L482.5 336.5 L483 336.3 L483.5 336.9 L484 337.2 L484.5 337.2 L485 337.1 L485.5 336.6 L486 336.5 L486.5 336.2 L487 336.1 L487.5 337 L488 337.4 L488.5 336.6 L489 336 L489.5 336.8 L490 338 L490.5 338.1 L491 338.1 L491.5 338.4 L492 337.3 L492.5 336.1 L493 336.1 L493.5 337 L494 337.6 L494.5 337.1 L495 336.9 L495.5 336.9 L496 336.8 L496.5 337 L497 336.9 L497.5 336.4 L498 336.1 L498.5 336.1 L499 336.1 L499.5 336.3 L500 336.8 L500.5 337 L501 337 L501.5 337.4 L502 337.6 L502.5 336.7 L503 336.3 L503.5 336.8 L504 336.7 L504.5 336.8 L505 337.2 L505.5 336.8 L506 336.7 L506.5 337.1 L507 336.9 L507.5 336.1 L508 335.8 L508.5 335.7 L509 335.4 L509.5 335.2 L510 335 L510.5 335.5 L511 337.1 L511.5 338.5 L512 338.2 L512.5 336.7 L513 335.9 L513.5 336.4 L514 337.1 L514.5 337.4 L515 337.3 L515.5 336.3 L516 335.7 L516.5 337.1 L517 338.2 L517.5 338.1 L518 338 L518.5 338.6 L519 338.8 L519.5 338.4 L520 338.2 L520.5 338.2 L521 337.7 L521.5 337.2 L522 336.8 L522.5 337.1 L523 338.2 L523.5 338 L524 336.9 L524.5 336.3 L525 336.8 L525.5 337.6 L526 337.5 L526.5 336.8 L527 336.3 L527.5 336.5 L528 337.3 L528.5 337.3 L529 337.6 L529.5 338.6 L530 338.7 L530.5 338 L531 337.5 L531.5 337.2 L532 337.4 L532.5 337.6 L533 336.9 L533.5 336.2 L534 335.7 L534.5 336 L535 337 L535.5 337.4 L536 337.2 L536.5 336.8 L537 336.5 L537.5 336.5 L538 337 L538.5 337.9 L539 338.2 L539.5 337.6 L540 336.7 L540.5 336.6 L541 337 L541.5 336.6 L542 336.5 L542.5 337.4 L543 337.4 L543.5 336.8 L544 336.4 L544.5 336.7 L545 337.2 L545.5 336.9 L546 337.1 L546.5 337.9 L547 338.4 L547.5 337.9 L548 337.1 L548.5 337 L549 337.6 L549.5 337.6 L550 337.2 L550.5 337.1 L551 336.6 L551.5 335.8 L552 336.1 L552.5 337.4 L553 337.9 L553.5 337.4 L554 336.6 L554.5 336.5 L555 336.9 L555.5 336.6 L556 336.1 L556.5 336.4 L557 336.6 L557.5 337 L558 337.3 L558.5 337.4 L559 337.6 L559.5 337 L560 336.1 L560.5 336.2 L561 337.1 L561.5 336.8 L562 335.6 L562.5 335.6 L563 337.3 L563.5 338.4 L564 337.8 L564.5 337.1 L565 336.3 L565.5 335.4 L566 336.1 L566.5 337.5 L567 337.2 L567.5 336.5 L568 337.3 L568.5 338 L569 337.7 L569.5 337.3 L570 336.9 L570.5 336.8 L571 337.4 L571.5 337.5 L572 337.1 L572.5 337.1 L573 337.3 L573.5 337.9 L574 337.4 L574.5 336.4 L575 337.1 L575.5 337.7 L576 337.1 L576.5 336.9 L577 336.8 L577.5 336.5 L578 337.2 L578.5 338 L579 338.1 L579.5 338.2 L580 338.3 L580.5 338 L581 337.6 L581.5 338 L582 338.6 L582.5 338.4 L583 337.4 L583.5 336.5 L584 336.4 L584.5 337 L585 336.8 L585.5 336.2 L586 336.7 L586.5 337.3 L587 337.1 L587.5 337.4 L588 338.3 L588.5 337.7 L589 336.4 L589.5 336.5 L590 337.4" fill="none" stroke="#1a1af4" stroke-width="1.3"/>
<rect x="130.4" y="287.5" width="1.6" height="7.5" fill="#0a7a14" opacity="1"/><rect x="227.4" y="287.5" width="1.6" height="7.5" fill="#0a7a14" opacity="1"/><rect x="246.9" y="287.5" width="1.6" height="7.5" fill="#0a7a14" opacity="1"/><rect x="282.9" y="287.5" width="1.6" height="7.5" fill="#0a7a14" opacity="1"/><rect x="315.4" y="287.5" width="1.6" height="7.5" fill="#0a7a14" opacity="0.9"/><rect x="330.9" y="287.5" width="1.6" height="7.5" fill="#0a7a14" opacity="1"/><rect x="360.9" y="287.5" width="1.6" height="7.5" fill="#0a7a14" opacity="1"/><rect x="388.4" y="287.5" width="1.6" height="7.5" fill="#0a7a14" opacity="0.9"/><rect x="401.7" y="287.5" width="1.6" height="7.5" fill="#0a7a14" opacity="0.6"/><rect x="427.4" y="287.5" width="1.6" height="7.5" fill="#0a7a14" opacity="0.55"/><rect x="452.4" y="287.5" width="1.6" height="7.5" fill="#0a7a14" opacity="0.55"/><rect x="464.3" y="287.5" width="1.9" height="7.5" fill="#0a7a14" opacity="1"/><rect x="488.4" y="287.5" width="1.6" height="7.5" fill="#0a7a14" opacity="0.6"/><rect x="510.4" y="287.5" width="1.2" height="7.5" fill="#0a7a14" opacity="1"/><rect x="512" y="287.5" width="1.2" height="7.5" fill="#0a7a14" opacity="1"/><rect x="522" y="287.5" width="1.1" height="7.5" fill="#0a7a14" opacity="0.9"/><rect x="523.8" y="287.5" width="1.1" height="7.5" fill="#0a7a14" opacity="0.9"/><rect x="565.7" y="287.5" width="1.1" height="7.5" fill="#0a7a14" opacity="0.55"/><rect x="567.2" y="287.5" width="1.1" height="7.5" fill="#0a7a14" opacity="0.55"/><rect x="576" y="287.5" width="1.1" height="7.5" fill="#0a7a14" opacity="0.8"/><rect x="577.8" y="287.5" width="1.1" height="7.5" fill="#0a7a14" opacity="0.8"/>
<path d="M46 7.2H592.3V358H52V7.2" fill="none" stroke="#000" stroke-width="1.7"/>
<path d="M52 358v6.5M102 358v4M152 358v6.5M202 358v4M252 358v6.5M302 358v4M352 358v6.5M402 358v4M452 358v6.5M502 358v4M552 358v6.5M52 32h-7.5M52 82h-7.5M52 132h-7.5M52 182h-7.5M52 232.5h-7.5M52 282.5h-7.5M52 332.75h-7.5M52 57h-5M52 107h-5M52 157h-5M52 207h-5M52 257.5h-5M52 308h-5" fill="none" stroke="#000" stroke-width="1.4"/>
<g font-family="'Liberation Sans', sans-serif" font-size="22.8" fill="#000"><text x="52" y="387.3" text-anchor="middle" textLength="26" lengthAdjust="spacingAndGlyphs">10</text><text x="152" y="387.3" text-anchor="middle" textLength="26" lengthAdjust="spacingAndGlyphs">20</text><text x="252" y="387.3" text-anchor="middle" textLength="26" lengthAdjust="spacingAndGlyphs">30</text><text x="352" y="387.3" text-anchor="middle" textLength="26" lengthAdjust="spacingAndGlyphs">40</text><text x="452" y="387.3" text-anchor="middle" textLength="26" lengthAdjust="spacingAndGlyphs">50</text><text x="552" y="387.3" text-anchor="middle" textLength="26" lengthAdjust="spacingAndGlyphs">60</text></g>
<g font-family="'Liberation Sans', sans-serif" fill="#000">
<text x="67.5" y="39" font-size="24">a)</text>
<text font-size="31.5"><tspan x="313.5" y="43" textLength="78.8" lengthAdjust="spacingAndGlyphs">SrMo</tspan><tspan x="424" y="43" textLength="45.8" lengthAdjust="spacingAndGlyphs">Mg</tspan><tspan x="503.4" y="43" textLength="25.8" lengthAdjust="spacingAndGlyphs">O</tspan></text>
<text font-size="22"><tspan x="392.8" y="55.5" textLength="32" lengthAdjust="spacingAndGlyphs">0.9</tspan><tspan x="470.8" y="55.5" textLength="31" lengthAdjust="spacingAndGlyphs">0.1</tspan><tspan x="530.3" y="55.5" textLength="42.5" lengthAdjust="spacingAndGlyphs">3.67</tspan></text>
<text font-size="31.5"><tspan x="355" y="103" textLength="79" lengthAdjust="spacingAndGlyphs">XRD,</tspan><tspan x="442" y="103" textLength="42.3" lengthAdjust="spacingAndGlyphs">Cu</tspan><tspan x="493.7" y="103" textLength="22.1" lengthAdjust="spacingAndGlyphs">K</tspan></text>
<text x="515.2" y="103" font-size="32" font-family="'Liberation Serif', serif" textLength="19.8" lengthAdjust="spacingAndGlyphs">α</text>
<text x="255" y="416.6" font-size="27">2</text>
<text x="279" y="416.6" font-size="24" font-family="'Liberation Serif', serif" textLength="13.2" lengthAdjust="spacingAndGlyphs">θ</text>
<text x="298.3" y="416.6" font-size="27" textLength="64.3" lengthAdjust="spacingAndGlyphs">(deg)</text>
<text transform="translate(28.3 284.2) rotate(-90)" font-size="27" textLength="175.5" lengthAdjust="spacingAndGlyphs">Intensity (a.u.)</text>
</g>
</g>

<g id="structure">
<path d="M752 14L917 5.3L923.4 393.4L758.4 401.25Z M752 14L808.4 29.7 M917 5.3L973.4 21.25 M758.4 401.25L815.3 417 M923.4 393.4L980.5 409" stroke="#343434" stroke-width="1.45" fill="none"/><circle cx="851" cy="62.5" r="27.5" fill="url(#gSr)"/><polygon points="748,42 841.5,42 805.5,101.5 787,110" fill="#e1a387" fill-opacity="0.93"/><polygon points="841.5,42 787,110 805.5,101.5" fill="#a88878" fill-opacity="0.9"/><line x1="748" y1="42" x2="805.5" y2="101.5" stroke="#b850ee" stroke-width="1.6"/><line x1="841.5" y1="42" x2="805.5" y2="101.5" stroke="#b850ee" stroke-width="1.6"/><line x1="787" y1="110" x2="805.5" y2="101.5" stroke="#b850ee" stroke-width="1.6"/><circle cx="805.5" cy="101.5" r="9.0" fill="url(#gO)"/><ellipse cx="805.9" cy="95.7" rx="0.8" ry="2.3" fill="#fff" opacity="0.85"/><line x1="795" y1="73.5" x2="801.3" y2="90.3" stroke="#e09a98" stroke-width="5.8"/><line x1="801.3" y1="90.3" x2="805.5" y2="101.5" stroke="#f8361e" stroke-width="5.8"/><line x1="795" y1="73.5" x2="766.8" y2="54.6" stroke="#e09a98" stroke-width="5.8"/><line x1="766.8" y1="54.6" x2="748" y2="42" stroke="#f8361e" stroke-width="5.8"/><line x1="795" y1="73.5" x2="822.9" y2="54.6" stroke="#e09a98" stroke-width="5.8"/><line x1="822.9" y1="54.6" x2="841.5" y2="42" stroke="#f8361e" stroke-width="5.8"/><circle cx="795" cy="73.5" r="17.2" fill="url(#gMo)"/><line x1="793.2" y1="81.5" x2="790.6" y2="93.6" stroke="#e09a98" stroke-width="5.8"/><line x1="790.6" y1="93.6" x2="787" y2="110" stroke="#f8361e" stroke-width="5.8"/><line x1="748" y1="42" x2="841.5" y2="42" stroke="#b850ee" stroke-width="1.8"/><line x1="748" y1="42" x2="787" y2="110" stroke="#b850ee" stroke-width="1.8"/><line x1="841.5" y1="42" x2="787" y2="110" stroke="#b850ee" stroke-width="1.8"/><circle cx="748" cy="42" r="9.0" fill="url(#gO)"/><ellipse cx="748.4" cy="36.2" rx="0.8" ry="2.3" fill="#fff" opacity="0.85"/><circle cx="841.5" cy="42" r="9.0" fill="url(#gO)"/><ellipse cx="841.9" cy="36.2" rx="0.8" ry="2.3" fill="#fff" opacity="0.85"/><circle cx="787" cy="110" r="9.0" fill="url(#gO)"/><ellipse cx="787.4" cy="104.2" rx="0.8" ry="2.3" fill="#fff" opacity="0.85"/><polygon points="913,33.4 1006.5,33.4 970.5,92.9 952,101.4" fill="#e1a387" fill-opacity="0.93"/><polygon points="1006.5,33.4 952,101.4 970.5,92.9" fill="#a88878" fill-opacity="0.9"/><line x1="913" y1="33.4" x2="970.5" y2="92.9" stroke="#b850ee" stroke-width="1.6"/><line x1="1006.5" y1="33.4" x2="970.5" y2="92.9" stroke="#b850ee" stroke-width="1.6"/><line x1="952" y1="101.4" x2="970.5" y2="92.9" stroke="#b850ee" stroke-width="1.6"/><circle cx="970.5" cy="92.9" r="9.0" fill="url(#gO)"/><ellipse cx="970.9" cy="87.1" rx="0.8" ry="2.3" fill="#fff" opacity="0.85"/><line x1="960" y1="64.9" x2="966.3" y2="81.7" stroke="#e09a98" stroke-width="5.8"/><line x1="966.3" y1="81.7" x2="970.5" y2="92.9" stroke="#f8361e" stroke-width="5.8"/><line x1="960" y1="64.9" x2="931.8" y2="46" stroke="#e09a98" stroke-width="5.8"/><line x1="931.8" y1="46" x2="913" y2="33.4" stroke="#f8361e" stroke-width="5.8"/><line x1="960" y1="64.9" x2="987.9" y2="46" stroke="#e09a98" stroke-width="5.8"/><line x1="987.9" y1="46" x2="1006.5" y2="33.4" stroke="#f8361e" stroke-width="5.8"/><circle cx="960" cy="64.9" r="17.2" fill="url(#gMo)"/><line x1="958.2" y1="72.9" x2="955.6" y2="85" stroke="#e09a98" stroke-width="5.8"/><line x1="955.6" y1="85" x2="952" y2="101.4" stroke="#f8361e" stroke-width="5.8"/><line x1="913" y1="33.4" x2="1006.5" y2="33.4" stroke="#b850ee" stroke-width="1.8"/><line x1="913" y1="33.4" x2="952" y2="101.4" stroke="#b850ee" stroke-width="1.8"/><line x1="1006.5" y1="33.4" x2="952" y2="101.4" stroke="#b850ee" stroke-width="1.8"/><circle cx="913" cy="33.4" r="9.0" fill="url(#gO)"/><ellipse cx="913.4" cy="27.6" rx="0.8" ry="2.3" fill="#fff" opacity="0.85"/><circle cx="1006.5" cy="33.4" r="9.0" fill="url(#gO)"/><ellipse cx="1006.9" cy="27.6" rx="0.8" ry="2.3" fill="#fff" opacity="0.85"/><circle cx="952" cy="101.4" r="9.0" fill="url(#gO)"/><ellipse cx="952.4" cy="95.6" rx="0.8" ry="2.3" fill="#fff" opacity="0.85"/><circle cx="768.4" cy="163.4" r="27.5" fill="url(#gSr)"/><polygon points="832.5,198 869.5,139.5 887.3,129.5 927,198" fill="#e1a387" fill-opacity="0.93"/><polygon points="927,198 869.5,139.5 887.3,129.5" fill="#d2987e" fill-opacity="0.9"/><line x1="832.5" y1="198" x2="887.3" y2="129.5" stroke="#b850ee" stroke-width="1.6"/><line x1="927" y1="198" x2="887.3" y2="129.5" stroke="#b850ee" stroke-width="1.6"/><line x1="869.5" y1="139.5" x2="887.3" y2="129.5" stroke="#b850ee" stroke-width="1.6"/><circle cx="887.3" cy="129.5" r="9.0" fill="url(#gO)"/><ellipse cx="887.7" cy="123.7" rx="0.8" ry="2.3" fill="#fff" opacity="0.85"/><line x1="878.2" y1="168" x2="883.7" y2="144.9" stroke="#e09a98" stroke-width="5.8"/><line x1="883.7" y1="144.9" x2="887.3" y2="129.5" stroke="#f8361e" stroke-width="5.8"/><line x1="878.2" y1="168" x2="850.8" y2="186" stroke="#e09a98" stroke-width="5.8"/><line x1="850.8" y1="186" x2="832.5" y2="198" stroke="#f8361e" stroke-width="5.8"/><line x1="878.2" y1="168" x2="907.5" y2="186" stroke="#e09a98" stroke-width="5.8"/><line x1="907.5" y1="186" x2="927" y2="198" stroke="#f8361e" stroke-width="5.8"/><circle cx="878.2" cy="168" r="17.2" fill="url(#gMo)"/><line x1="876.3" y1="161.7" x2="873.4" y2="152.3" stroke="#e09a98" stroke-width="5.8"/><line x1="873.4" y1="152.3" x2="869.5" y2="139.5" stroke="#f8361e" stroke-width="5.8"/><line x1="832.5" y1="198" x2="927" y2="198" stroke="#b850ee" stroke-width="1.8"/><line x1="832.5" y1="198" x2="869.5" y2="139.5" stroke="#b850ee" stroke-width="1.8"/><line x1="927" y1="198" x2="869.5" y2="139.5" stroke="#b850ee" stroke-width="1.8"/><circle cx="832.5" cy="198" r="9.0" fill="url(#gO)"/><ellipse cx="832.9" cy="192.2" rx="0.8" ry="2.3" fill="#fff" opacity="0.85"/><circle cx="927" cy="198" r="9.0" fill="url(#gO)"/><ellipse cx="927.4" cy="192.2" rx="0.8" ry="2.3" fill="#fff" opacity="0.85"/><circle cx="869.5" cy="139.5" r="9.0" fill="url(#gO)"/><ellipse cx="869.9" cy="133.7" rx="0.8" ry="2.3" fill="#fff" opacity="0.85"/><circle cx="933.7" cy="154.7" r="27.5" fill="url(#gSr)"/><polygon points="805,224.4 898.5,224.4 862.5,283.9 844,292.4" fill="#e1a387" fill-opacity="0.93"/><polygon points="898.5,224.4 844,292.4 862.5,283.9" fill="#a88878" fill-opacity="0.9"/><line x1="805" y1="224.4" x2="862.5" y2="283.9" stroke="#b850ee" stroke-width="1.6"/><line x1="898.5" y1="224.4" x2="862.5" y2="283.9" stroke="#b850ee" stroke-width="1.6"/><line x1="844" y1="292.4" x2="862.5" y2="283.9" stroke="#b850ee" stroke-width="1.6"/><circle cx="862.5" cy="283.9" r="9.0" fill="url(#gO)"/><ellipse cx="862.9" cy="278.1" rx="0.8" ry="2.3" fill="#fff" opacity="0.85"/><line x1="852" y1="255.9" x2="858.3" y2="272.7" stroke="#e09a98" stroke-width="5.8"/><line x1="858.3" y1="272.7" x2="862.5" y2="283.9" stroke="#f8361e" stroke-width="5.8"/><line x1="852" y1="255.9" x2="823.8" y2="237" stroke="#e09a98" stroke-width="5.8"/><line x1="823.8" y1="237" x2="805" y2="224.4" stroke="#f8361e" stroke-width="5.8"/><line x1="852" y1="255.9" x2="879.9" y2="237" stroke="#e09a98" stroke-width="5.8"/><line x1="879.9" y1="237" x2="898.5" y2="224.4" stroke="#f8361e" stroke-width="5.8"/><circle cx="852" cy="255.9" r="17.2" fill="url(#gMo)"/><line x1="850.2" y1="263.9" x2="847.6" y2="276" stroke="#e09a98" stroke-width="5.8"/><line x1="847.6" y1="276" x2="844" y2="292.4" stroke="#f8361e" stroke-width="5.8"/><line x1="805" y1="224.4" x2="898.5" y2="224.4" stroke="#b850ee" stroke-width="1.8"/><line x1="805" y1="224.4" x2="844" y2="292.4" stroke="#b850ee" stroke-width="1.8"/><line x1="898.5" y1="224.4" x2="844" y2="292.4" stroke="#b850ee" stroke-width="1.8"/><circle cx="805" cy="224.4" r="9.0" fill="url(#gO)"/><ellipse cx="805.4" cy="218.6" rx="0.8" ry="2.3" fill="#fff" opacity="0.85"/><circle cx="898.5" cy="224.4" r="9.0" fill="url(#gO)"/><ellipse cx="898.9" cy="218.6" rx="0.8" ry="2.3" fill="#fff" opacity="0.85"/><circle cx="844" cy="292.4" r="9.0" fill="url(#gO)"/><ellipse cx="844.4" cy="286.6" rx="0.8" ry="2.3" fill="#fff" opacity="0.85"/><circle cx="799.5" cy="268.2" r="27.5" fill="url(#gSr)"/><circle cx="964" cy="259.4" r="27.5" fill="url(#gSr)"/><polygon points="725.6,388.8 762.6,330.2 780.4,320.2 820.1,388.8" fill="#e1a387" fill-opacity="0.93"/><polygon points="820.1,388.8 762.6,330.2 780.4,320.2" fill="#d2987e" fill-opacity="0.9"/><line x1="725.6" y1="388.8" x2="780.4" y2="320.2" stroke="#b850ee" stroke-width="1.6"/><line x1="820.1" y1="388.8" x2="780.4" y2="320.2" stroke="#b850ee" stroke-width="1.6"/><line x1="762.6" y1="330.2" x2="780.4" y2="320.2" stroke="#b850ee" stroke-width="1.6"/><circle cx="780.4" cy="320.2" r="9.0" fill="url(#gO)"/><ellipse cx="780.8" cy="314.4" rx="0.8" ry="2.3" fill="#fff" opacity="0.85"/><line x1="771.3" y1="358.8" x2="776.8" y2="335.6" stroke="#e09a98" stroke-width="5.8"/><line x1="776.8" y1="335.6" x2="780.4" y2="320.2" stroke="#f8361e" stroke-width="5.8"/><line x1="771.3" y1="358.8" x2="743.9" y2="376.8" stroke="#e09a98" stroke-width="5.8"/><line x1="743.9" y1="376.8" x2="725.6" y2="388.8" stroke="#f8361e" stroke-width="5.8"/><line x1="771.3" y1="358.8" x2="800.6" y2="376.8" stroke="#e09a98" stroke-width="5.8"/><line x1="800.6" y1="376.8" x2="820.1" y2="388.8" stroke="#f8361e" stroke-width="5.8"/><circle cx="771.3" cy="358.8" r="17.2" fill="url(#gMo)"/><line x1="769.4" y1="352.5" x2="766.5" y2="343.1" stroke="#e09a98" stroke-width="5.8"/><line x1="766.5" y1="343.1" x2="762.6" y2="330.2" stroke="#f8361e" stroke-width="5.8"/><line x1="725.6" y1="388.8" x2="820.1" y2="388.8" stroke="#b850ee" stroke-width="1.8"/><line x1="725.6" y1="388.8" x2="762.6" y2="330.2" stroke="#b850ee" stroke-width="1.8"/><line x1="820.1" y1="388.8" x2="762.6" y2="330.2" stroke="#b850ee" stroke-width="1.8"/><circle cx="725.6" cy="388.8" r="9.0" fill="url(#gO)"/><ellipse cx="726" cy="382.9" rx="0.8" ry="2.3" fill="#fff" opacity="0.85"/><circle cx="820.1" cy="388.8" r="9.0" fill="url(#gO)"/><ellipse cx="820.5" cy="382.9" rx="0.8" ry="2.3" fill="#fff" opacity="0.85"/><circle cx="762.6" cy="330.2" r="9.0" fill="url(#gO)"/><ellipse cx="763" cy="324.4" rx="0.8" ry="2.3" fill="#fff" opacity="0.85"/><polygon points="890.8,380 927.8,321.5 945.6,311.5 985.3,380" fill="#e1a387" fill-opacity="0.93"/><polygon points="985.3,380 927.8,321.5 945.6,311.5" fill="#d2987e" fill-opacity="0.9"/><line x1="890.8" y1="380" x2="945.6" y2="311.5" stroke="#b850ee" stroke-width="1.6"/><line x1="985.3" y1="380" x2="945.6" y2="311.5" stroke="#b850ee" stroke-width="1.6"/><line x1="927.8" y1="321.5" x2="945.6" y2="311.5" stroke="#b850ee" stroke-width="1.6"/><circle cx="945.6" cy="311.5" r="9.0" fill="url(#gO)"/><ellipse cx="946" cy="305.7" rx="0.8" ry="2.3" fill="#fff" opacity="0.85"/><line x1="936.5" y1="350" x2="942" y2="326.9" stroke="#e09a98" stroke-width="5.8"/><line x1="942" y1="326.9" x2="945.6" y2="311.5" stroke="#f8361e" stroke-width="5.8"/><line x1="936.5" y1="350" x2="909.1" y2="368" stroke="#e09a98" stroke-width="5.8"/><line x1="909.1" y1="368" x2="890.8" y2="380" stroke="#f8361e" stroke-width="5.8"/><line x1="936.5" y1="350" x2="965.8" y2="368" stroke="#e09a98" stroke-width="5.8"/><line x1="965.8" y1="368" x2="985.3" y2="380" stroke="#f8361e" stroke-width="5.8"/><circle cx="936.5" cy="350" r="17.2" fill="url(#gMo)"/><line x1="934.6" y1="343.7" x2="931.7" y2="334.3" stroke="#e09a98" stroke-width="5.8"/><line x1="931.7" y1="334.3" x2="927.8" y2="321.5" stroke="#f8361e" stroke-width="5.8"/><line x1="890.8" y1="380" x2="985.3" y2="380" stroke="#b850ee" stroke-width="1.8"/><line x1="890.8" y1="380" x2="927.8" y2="321.5" stroke="#b850ee" stroke-width="1.8"/><line x1="985.3" y1="380" x2="927.8" y2="321.5" stroke="#b850ee" stroke-width="1.8"/><circle cx="890.8" cy="380" r="9.0" fill="url(#gO)"/><ellipse cx="891.2" cy="374.2" rx="0.8" ry="2.3" fill="#fff" opacity="0.85"/><circle cx="985.3" cy="380" r="9.0" fill="url(#gO)"/><ellipse cx="985.7" cy="374.2" rx="0.8" ry="2.3" fill="#fff" opacity="0.85"/><circle cx="927.8" cy="321.5" r="9.0" fill="url(#gO)"/><ellipse cx="928.2" cy="315.7" rx="0.8" ry="2.3" fill="#fff" opacity="0.85"/><circle cx="884.3" cy="360.6" r="27.5" fill="url(#gSr)"/><path d="M808.4 29.7L973.4 21.25L980.5 409L815.3 417Z" stroke="#343434" stroke-width="1.45" fill="none"/>
</g>

<g>
<polygon points="674.3,349 679.4,349 679.4,310.2 682.3,310.2 675.8,292.3 669.4,310.2 674.3,310.2" fill="url(#gBl)"/>
<polygon points="676,346.7 676,351.9 643,353.2 643.2,357.9 624,351.2 642.6,344.2 642.8,347.7" fill="url(#gRd)"/>
<line x1="676" y1="349.5" x2="688" y2="352.5" stroke="#10a020" stroke-width="4"/>
<circle cx="676.6" cy="349.1" r="6.3" fill="url(#gG)"/>
<circle cx="688.6" cy="352.3" r="7" fill="url(#gB)"/>
<g font-family="'Liberation Sans', sans-serif" font-weight="bold" font-size="14" fill="#000">
<text x="672.6" y="284">c</text><text x="608.8" y="356.8">a</text><text x="696.5" y="359">b</text>
</g>
</g>


<text x="640.5" y="48.3" font-family="'Liberation Serif', serif" font-size="27.6" fill="#000">b)</text>
<g font-family="'Liberation Sans', sans-serif" font-weight="bold" fill="#000">
<text x="726.8" y="33.2" font-size="20.5" textLength="16.6" lengthAdjust="spacingAndGlyphs">O</text>
<text x="767.2" y="73" font-size="19" textLength="64" lengthAdjust="spacingAndGlyphs">Mo,Mg</text>
<text x="760" y="168.2" font-size="19.5" textLength="19" lengthAdjust="spacingAndGlyphs">Sr</text>
</g>

</svg>
</body></html>
